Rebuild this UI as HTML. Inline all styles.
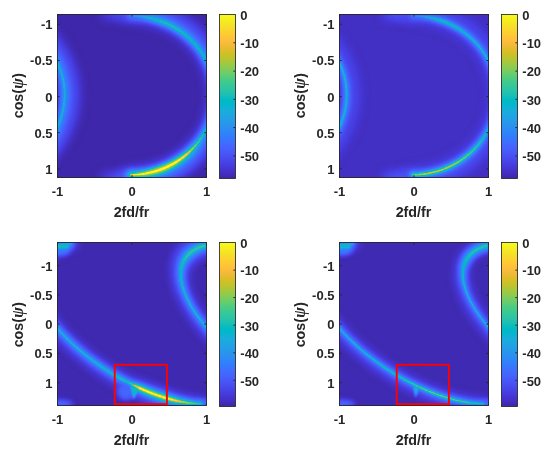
<!DOCTYPE html>
<html><head><meta charset="utf-8"><title>figure</title>
<style>html,body{margin:0;padding:0;background:#fff}body{width:550px;height:453px;overflow:hidden}svg{display:block}text{font-family:"Liberation Sans",sans-serif;font-weight:bold;fill:#262626}</style></head><body>
<svg width="550" height="453" viewBox="0 0 550 453">
<defs>
<filter id="parula" filterUnits="userSpaceOnUse" x="-4" y="-4" width="158" height="172" color-interpolation-filters="sRGB"><feGaussianBlur stdDeviation="0.55"/><feComponentTransfer><feFuncR type="table" tableValues="0.2422 0.2504 0.2578 0.2647 0.2706 0.2751 0.2783 0.2803 0.2813 0.2810 0.2795 0.2760 0.2699 0.2602 0.2440 0.2206 0.1963 0.1834 0.1786 0.1764 0.1687 0.1540 0.1460 0.1380 0.1248 0.1113 0.0952 0.0689 0.0297 0.0036 0.0067 0.0433 0.0964 0.1408 0.1717 0.1938 0.2161 0.2470 0.2906 0.3406 0.3909 0.4456 0.5044 0.5616 0.6174 0.6720 0.7242 0.7738 0.8203 0.8634 0.9035 0.9393 0.9728 0.9956 0.9970 0.9952 0.9892 0.9786 0.9676 0.9610 0.9597 0.9628 0.9691 0.9769"/><feFuncG type="table" tableValues="0.1504 0.1650 0.1818 0.1978 0.2147 0.2342 0.2559 0.2782 0.3006 0.3228 0.3447 0.3667 0.3892 0.4123 0.4358 0.4603 0.4847 0.5074 0.5289 0.5499 0.5703 0.5902 0.6091 0.6276 0.6459 0.6635 0.6798 0.6948 0.7082 0.7203 0.7312 0.7411 0.7500 0.7584 0.7670 0.7758 0.7843 0.7918 0.7973 0.8008 0.8029 0.8024 0.7993 0.7942 0.7876 0.7793 0.7698 0.7598 0.7498 0.7406 0.7330 0.7288 0.7298 0.7434 0.7659 0.7893 0.8136 0.8386 0.8639 0.8890 0.9135 0.9373 0.9606 0.9839"/><feFuncB type="table" tableValues="0.6603 0.7076 0.7511 0.7952 0.8364 0.8710 0.8991 0.9221 0.9414 0.9579 0.9717 0.9829 0.9906 0.9952 0.9988 0.9973 0.9892 0.9798 0.9682 0.9520 0.9359 0.9218 0.9079 0.8973 0.8883 0.8763 0.8598 0.8394 0.8163 0.7917 0.7660 0.7394 0.7120 0.6842 0.6554 0.6251 0.5923 0.5567 0.5188 0.4789 0.4354 0.3909 0.3480 0.3045 0.2612 0.2227 0.1910 0.1646 0.1535 0.1596 0.1774 0.2100 0.2394 0.2371 0.2199 0.2028 0.1885 0.1766 0.1643 0.1537 0.1423 0.1265 0.1064 0.0805"/></feComponentTransfer></filter>
<filter id="b8" filterUnits="userSpaceOnUse" x="-60" y="-60" width="270" height="284" color-interpolation-filters="sRGB"><feGaussianBlur stdDeviation="5.5"/></filter>
<filter id="b4" filterUnits="userSpaceOnUse" x="-60" y="-60" width="270" height="284" color-interpolation-filters="sRGB"><feGaussianBlur stdDeviation="4"/></filter>
<filter id="b2" filterUnits="userSpaceOnUse" x="-60" y="-60" width="270" height="284" color-interpolation-filters="sRGB"><feGaussianBlur stdDeviation="2.1"/></filter>
<filter id="b3" filterUnits="userSpaceOnUse" x="-60" y="-60" width="270" height="284" color-interpolation-filters="sRGB"><feGaussianBlur stdDeviation="2.6"/></filter>
<filter id="b12" filterUnits="userSpaceOnUse" x="-60" y="-60" width="270" height="284" color-interpolation-filters="sRGB"><feGaussianBlur stdDeviation="1.2"/></filter>
<filter id="b1" filterUnits="userSpaceOnUse" x="-60" y="-60" width="270" height="284" color-interpolation-filters="sRGB"><feGaussianBlur stdDeviation="1.0"/></filter>
<filter id="b07" filterUnits="userSpaceOnUse" x="-60" y="-60" width="270" height="284" color-interpolation-filters="sRGB"><feGaussianBlur stdDeviation="0.7"/></filter>
<filter id="b06" filterUnits="userSpaceOnUse" x="-60" y="-60" width="270" height="284" color-interpolation-filters="sRGB"><feGaussianBlur stdDeviation="0.6"/></filter>
<filter id="b15" filterUnits="userSpaceOnUse" x="-60" y="-60" width="270" height="284" color-interpolation-filters="sRGB"><feGaussianBlur stdDeviation="1.5"/></filter>
<filter id="b09" filterUnits="userSpaceOnUse" x="-60" y="-60" width="270" height="284" color-interpolation-filters="sRGB"><feGaussianBlur stdDeviation="0.9"/></filter>
<linearGradient id="cbg" x1="0" y1="0" x2="0" y2="1"><stop offset="0.0000" stop-color="rgb(249,251,21)"/><stop offset="0.0159" stop-color="rgb(247,245,27)"/><stop offset="0.0317" stop-color="rgb(246,239,32)"/><stop offset="0.0476" stop-color="rgb(245,233,36)"/><stop offset="0.0635" stop-color="rgb(245,227,39)"/><stop offset="0.0794" stop-color="rgb(247,220,42)"/><stop offset="0.0952" stop-color="rgb(250,214,45)"/><stop offset="0.1111" stop-color="rgb(252,207,48)"/><stop offset="0.1270" stop-color="rgb(254,201,52)"/><stop offset="0.1429" stop-color="rgb(254,195,56)"/><stop offset="0.1587" stop-color="rgb(254,190,60)"/><stop offset="0.1746" stop-color="rgb(248,186,61)"/><stop offset="0.1905" stop-color="rgb(240,186,54)"/><stop offset="0.2063" stop-color="rgb(230,187,45)"/><stop offset="0.2222" stop-color="rgb(220,189,41)"/><stop offset="0.2381" stop-color="rgb(209,191,39)"/><stop offset="0.2540" stop-color="rgb(197,194,42)"/><stop offset="0.2698" stop-color="rgb(185,196,49)"/><stop offset="0.2857" stop-color="rgb(171,199,57)"/><stop offset="0.3016" stop-color="rgb(157,201,67)"/><stop offset="0.3175" stop-color="rgb(143,203,78)"/><stop offset="0.3333" stop-color="rgb(129,204,89)"/><stop offset="0.3492" stop-color="rgb(114,205,100)"/><stop offset="0.3651" stop-color="rgb(100,205,111)"/><stop offset="0.3810" stop-color="rgb(87,204,122)"/><stop offset="0.3968" stop-color="rgb(74,203,132)"/><stop offset="0.4127" stop-color="rgb(63,202,142)"/><stop offset="0.4286" stop-color="rgb(55,200,151)"/><stop offset="0.4444" stop-color="rgb(49,198,159)"/><stop offset="0.4603" stop-color="rgb(44,196,167)"/><stop offset="0.4762" stop-color="rgb(36,193,174)"/><stop offset="0.4921" stop-color="rgb(25,191,182)"/><stop offset="0.5079" stop-color="rgb(11,189,189)"/><stop offset="0.5238" stop-color="rgb(2,186,195)"/><stop offset="0.5397" stop-color="rgb(1,184,202)"/><stop offset="0.5556" stop-color="rgb(8,181,208)"/><stop offset="0.5714" stop-color="rgb(18,177,214)"/><stop offset="0.5873" stop-color="rgb(24,173,219)"/><stop offset="0.6032" stop-color="rgb(28,169,223)"/><stop offset="0.6190" stop-color="rgb(32,165,227)"/><stop offset="0.6349" stop-color="rgb(35,160,229)"/><stop offset="0.6508" stop-color="rgb(37,155,232)"/><stop offset="0.6667" stop-color="rgb(39,151,235)"/><stop offset="0.6825" stop-color="rgb(43,145,239)"/><stop offset="0.6984" stop-color="rgb(45,140,243)"/><stop offset="0.7143" stop-color="rgb(46,135,247)"/><stop offset="0.7302" stop-color="rgb(47,129,250)"/><stop offset="0.7460" stop-color="rgb(50,124,252)"/><stop offset="0.7619" stop-color="rgb(56,117,254)"/><stop offset="0.7778" stop-color="rgb(62,111,255)"/><stop offset="0.7937" stop-color="rgb(66,105,254)"/><stop offset="0.8095" stop-color="rgb(69,99,253)"/><stop offset="0.8254" stop-color="rgb(70,94,251)"/><stop offset="0.8413" stop-color="rgb(71,88,248)"/><stop offset="0.8571" stop-color="rgb(72,82,244)"/><stop offset="0.8730" stop-color="rgb(72,77,240)"/><stop offset="0.8889" stop-color="rgb(71,71,235)"/><stop offset="0.9048" stop-color="rgb(71,65,229)"/><stop offset="0.9206" stop-color="rgb(70,60,222)"/><stop offset="0.9365" stop-color="rgb(69,55,213)"/><stop offset="0.9524" stop-color="rgb(67,50,203)"/><stop offset="0.9683" stop-color="rgb(66,46,192)"/><stop offset="0.9841" stop-color="rgb(64,42,180)"/><stop offset="1.0000" stop-color="rgb(62,38,168)"/></linearGradient>
<clipPath id="cp"><rect x="0" y="0" width="150" height="164"/></clipPath>
</defs>
<rect width="550" height="453" fill="#fff"/>
<g transform="translate(57,14)">
<g clip-path="url(#cp)"><g filter="url(#parula)">
<rect x="-5" y="-5" width="160" height="174" fill="#010101"/>
<g filter="url(#b8)"><ellipse cx="65.6" cy="0" rx="22" ry="5" fill="#2a2a2a"/><ellipse cx="65.6" cy="164" rx="22" ry="5" fill="#2f2f2f"/></g>
<g filter="url(#b8)" fill="none" stroke-linecap="round" stroke-linejoin="round">
<path d="M73.6,-2.1 L75.1,-2.1 L76.7,-2 L78.2,-2 L79.7,-1.9" stroke="#232323" stroke-width="20.00"/>
<path d="M78.2,-2 L79.7,-1.9 L81.2,-1.8 L82.8,-1.6 L84.3,-1.5" stroke="#232323" stroke-width="20.00"/>
<path d="M82.8,-1.6 L84.3,-1.5 L85.8,-1.3 L87.3,-1.1 L88.8,-0.8" stroke="#242424" stroke-width="20.00"/>
<path d="M87.3,-1.1 L88.8,-0.8 L90.3,-0.6 L91.8,-0.3 L93.3,0" stroke="#262626" stroke-width="20.00"/>
<path d="M91.8,-0.3 L93.3,0 L94.8,0.4 L96.3,0.7 L97.8,1.1" stroke="#272727" stroke-width="20.00"/>
<path d="M96.3,0.7 L97.8,1.1 L99.3,1.5 L100.7,1.9 L102.2,2.4" stroke="#282828" stroke-width="20.00"/>
<path d="M100.7,1.9 L102.2,2.4 L103.6,2.9 L105.1,3.4 L106.5,3.9" stroke="#292929" stroke-width="20.00"/>
<path d="M105.1,3.4 L106.5,3.9 L107.9,4.5 L109.3,5 L110.7,5.6" stroke="#292929" stroke-width="20.00"/>
<path d="M109.3,5 L110.7,5.6 L112.1,6.3 L113.5,6.9 L114.8,7.6" stroke="#2a2a2a" stroke-width="20.00"/>
<path d="M113.5,6.9 L114.8,7.6 L116.2,8.3 L117.5,9 L118.8,9.7" stroke="#2a2a2a" stroke-width="20.00"/>
<path d="M117.5,9 L118.8,9.7 L120.1,10.5 L121.4,11.2 L122.7,12" stroke="#2a2a2a" stroke-width="20.00"/>
<path d="M121.4,11.2 L122.7,12 L124,12.8 L125.2,13.7 L126.5,14.5" stroke="#292929" stroke-width="20.00"/>
<path d="M125.2,13.7 L126.5,14.5 L127.7,15.4 L128.9,16.3 L130.1,17.2" stroke="#292929" stroke-width="20.00"/>
<path d="M128.9,16.3 L130.1,17.2 L131.2,18.2 L132.4,19.1 L133.5,20.1" stroke="#292929" stroke-width="20.00"/>
<path d="M132.4,19.1 L133.5,20.1 L134.6,21.1 L135.7,22.1 L136.8,23.2" stroke="#292929" stroke-width="20.00"/>
<path d="M135.7,22.1 L136.8,23.2 L137.9,24.2 L138.9,25.3 L139.9,26.4" stroke="#292929" stroke-width="20.00"/>
<path d="M138.9,25.3 L139.9,26.4 L140.9,27.5 L141.9,28.6 L142.9,29.7" stroke="#292929" stroke-width="20.00"/>
<path d="M141.9,28.6 L142.9,29.7 L143.8,30.9 L144.7,32 L145.6,33.2" stroke="#292929" stroke-width="20.00"/>
<path d="M144.7,32 L145.6,33.2 L146.5,34.4 L147.3,35.6 L148.2,36.8" stroke="#282828" stroke-width="20.00"/>
<path d="M147.3,35.6 L148.2,36.8 L149,38.1 L149.8,39.3 L150.5,40.6" stroke="#282828" stroke-width="20.00"/>
<path d="M149.8,39.3 L150.5,40.6 L151.2,41.8 L152,43.1 L152.6,44.4" stroke="#282828" stroke-width="20.00"/>
<path d="M152,43.1 L152.6,44.4 L153.3,45.7 L154,47.1 L154.6,48.4" stroke="#282828" stroke-width="20.00"/>
<path d="M154,47.1 L154.6,48.4 L155.2,49.7 L155.7,51.1 L156.3,52.4" stroke="#282828" stroke-width="20.00"/>
<path d="M155.7,51.1 L156.3,52.4 L156.8,53.7 L157.3,55.1 L157.7,56.4" stroke="#282828" stroke-width="20.00"/>
<path d="M157.3,55.1 L157.7,56.4 L158.2,57.8 L158.6,59.2 L159,60.6" stroke="#282828" stroke-width="20.00"/>
<path d="M158.6,59.2 L159,60.6 L159.3,62 L159.7,63.4 L160,64.8" stroke="#282828" stroke-width="20.00"/>
<path d="M159.7,63.4 L160,64.8 L160.3,66.2 L160.5,67.6 L160.7,69" stroke="#282828" stroke-width="20.00"/>
<path d="M160.5,67.6 L160.7,69 L160.9,70.5 L161.1,71.9 L161.3,73.3" stroke="#282828" stroke-width="20.00"/>
<path d="M161.1,71.9 L161.3,73.3 L161.4,74.8 L161.5,76.2 L161.5,77.7" stroke="#282828" stroke-width="20.00"/>
<path d="M161.5,76.2 L161.5,77.7 L161.6,79.1 L161.6,80.6 L161.6,82.1" stroke="#282828" stroke-width="20.00"/>
<path d="M161.6,80.6 L161.6,82.1 L161.5,83.5 L161.5,85 L161.4,86.5" stroke="#282828" stroke-width="20.00"/>
<path d="M161.5,85 L161.4,86.5 L161.3,88 L161.1,89.4 L160.9,90.9" stroke="#282828" stroke-width="20.00"/>
<path d="M161.1,89.4 L160.9,90.9 L160.7,92.3 L160.5,93.8 L160.3,95.3" stroke="#282828" stroke-width="20.00"/>
<path d="M160.5,93.8 L160.3,95.3 L160,96.7 L159.7,98.1 L159.3,99.6" stroke="#282828" stroke-width="20.00"/>
<path d="M159.7,98.1 L159.3,99.6 L159,101 L158.6,102.4 L158.2,103.9" stroke="#282828" stroke-width="20.00"/>
<path d="M158.6,102.4 L158.2,103.9 L157.7,105.3 L157.3,106.7 L156.8,108.1" stroke="#282828" stroke-width="20.00"/>
<path d="M157.3,106.7 L156.8,108.1 L156.3,109.5 L155.7,110.8 L155.2,112.2" stroke="#282828" stroke-width="20.00"/>
<path d="M155.7,110.8 L155.2,112.2 L154.6,113.6 L154,114.9 L153.3,116.2" stroke="#282828" stroke-width="20.00"/>
<path d="M154,114.9 L153.3,116.2 L152.7,117.6 L152,118.9 L151.3,120.2" stroke="#292929" stroke-width="20.00"/>
<path d="M152,118.9 L151.3,120.2 L150.5,121.5 L149.8,122.8 L149,124" stroke="#292929" stroke-width="20.00"/>
<path d="M149.8,122.8 L149,124 L148.2,125.3 L147.4,126.5 L146.5,127.8" stroke="#2a2a2a" stroke-width="20.00"/>
<path d="M147.4,126.5 L146.5,127.8 L145.6,129 L144.7,130.2 L143.8,131.3" stroke="#2b2b2b" stroke-width="20.00"/>
<path d="M144.7,130.2 L143.8,131.3 L142.9,132.5 L141.9,133.7 L141,134.8" stroke="#2c2c2c" stroke-width="20.00"/>
<path d="M141.9,133.7 L141,134.8 L140,135.9 L138.9,137 L137.9,138.1" stroke="#2e2e2e" stroke-width="20.00"/>
<path d="M138.9,137 L137.9,138.1 L136.8,139.2 L135.8,140.2 L134.7,141.2" stroke="#303030" stroke-width="20.00"/>
<path d="M135.8,140.2 L134.7,141.2 L133.5,142.2 L132.4,143.2 L131.3,144.2" stroke="#333333" stroke-width="20.00"/>
<path d="M132.4,143.2 L131.3,144.2 L130.1,145.2 L128.9,146.1 L127.7,147" stroke="#353535" stroke-width="20.00"/>
<path d="M128.9,146.1 L127.7,147 L126.5,147.9 L125.3,148.8 L124,149.6" stroke="#363636" stroke-width="20.00"/>
<path d="M125.3,148.8 L124,149.6 L122.7,150.5 L121.5,151.3 L120.2,152" stroke="#383838" stroke-width="20.00"/>
<path d="M121.5,151.3 L120.2,152 L118.9,152.8 L117.5,153.6 L116.2,154.3" stroke="#383838" stroke-width="20.00"/>
<path d="M117.5,153.6 L116.2,154.3 L114.8,155 L113.5,155.7 L112.1,156.3" stroke="#393939" stroke-width="20.00"/>
<path d="M113.5,155.7 L112.1,156.3 L110.7,156.9 L109.3,157.5 L107.9,158.1" stroke="#393939" stroke-width="20.00"/>
<path d="M109.3,157.5 L107.9,158.1 L106.5,158.7 L105.1,159.2 L103.6,159.7" stroke="#393939" stroke-width="20.00"/>
<path d="M105.1,159.2 L103.6,159.7 L102.2,160.2 L100.7,160.7 L99.3,161.1" stroke="#393939" stroke-width="20.00"/>
<path d="M100.7,160.7 L99.3,161.1 L97.8,161.6 L96.3,161.9 L94.8,162.3" stroke="#393939" stroke-width="20.00"/>
<path d="M96.3,161.9 L94.8,162.3 L93.4,162.7 L91.9,163 L90.4,163.3" stroke="#393939" stroke-width="20.00"/>
<path d="M91.9,163 L90.4,163.3 L88.9,163.5 L87.3,163.8 L85.8,164" stroke="#393939" stroke-width="20.00"/>
<path d="M87.3,163.8 L85.8,164 L84.3,164.2 L82.8,164.3 L81.3,164.5" stroke="#383838" stroke-width="20.00"/>
<path d="M82.8,164.3 L81.3,164.5 L79.7,164.6 L78.2,164.7 L76.7,164.7" stroke="#383838" stroke-width="20.00"/>
<path d="M78.2,164.7 L76.7,164.7 L75.1,164.8 L73.6,164.8" stroke="#363636" stroke-width="20.00"/>
<path d="M-32.5,9 L-31.2,9.7 L-29.9,10.5 L-28.6,11.2 L-27.3,12" stroke="#2a2a2a" stroke-width="20.00"/>
<path d="M-28.6,11.2 L-27.3,12 L-26,12.8 L-24.8,13.7 L-23.5,14.5" stroke="#292929" stroke-width="20.00"/>
<path d="M-24.8,13.7 L-23.5,14.5 L-22.3,15.4 L-21.1,16.3 L-19.9,17.2" stroke="#292929" stroke-width="20.00"/>
<path d="M-21.1,16.3 L-19.9,17.2 L-18.8,18.2 L-17.6,19.1 L-16.5,20.1" stroke="#292929" stroke-width="20.00"/>
<path d="M-17.6,19.1 L-16.5,20.1 L-15.4,21.1 L-14.3,22.1 L-13.2,23.2" stroke="#292929" stroke-width="20.00"/>
<path d="M-14.3,22.1 L-13.2,23.2 L-12.1,24.2 L-11.1,25.3 L-10.1,26.4" stroke="#292929" stroke-width="20.00"/>
<path d="M-11.1,25.3 L-10.1,26.4 L-9.1,27.5 L-8.1,28.6 L-7.1,29.7" stroke="#292929" stroke-width="20.00"/>
<path d="M-8.1,28.6 L-7.1,29.7 L-6.2,30.9 L-5.3,32 L-4.4,33.2" stroke="#292929" stroke-width="20.00"/>
<path d="M-5.3,32 L-4.4,33.2 L-3.5,34.4 L-2.7,35.6 L-1.8,36.8" stroke="#282828" stroke-width="20.00"/>
<path d="M-2.7,35.6 L-1.8,36.8 L-1,38.1 L-0.2,39.3 L0.5,40.6" stroke="#282828" stroke-width="20.00"/>
<path d="M-0.2,39.3 L0.5,40.6 L1.2,41.8 L2,43.1 L2.6,44.4" stroke="#282828" stroke-width="20.00"/>
<path d="M2,43.1 L2.6,44.4 L3.3,45.7 L4,47.1 L4.6,48.4" stroke="#282828" stroke-width="20.00"/>
<path d="M4,47.1 L4.6,48.4 L5.2,49.7 L5.7,51.1 L6.3,52.4" stroke="#282828" stroke-width="20.00"/>
<path d="M5.7,51.1 L6.3,52.4 L6.8,53.7 L7.3,55.1 L7.7,56.4" stroke="#282828" stroke-width="20.00"/>
<path d="M7.3,55.1 L7.7,56.4 L8.2,57.8 L8.6,59.2 L9,60.6" stroke="#282828" stroke-width="20.00"/>
<path d="M8.6,59.2 L9,60.6 L9.3,62 L9.7,63.4 L10,64.8" stroke="#282828" stroke-width="20.00"/>
<path d="M9.7,63.4 L10,64.8 L10.3,66.2 L10.5,67.6 L10.7,69" stroke="#282828" stroke-width="20.00"/>
<path d="M10.5,67.6 L10.7,69 L10.9,70.5 L11.1,71.9 L11.3,73.3" stroke="#282828" stroke-width="20.00"/>
<path d="M11.1,71.9 L11.3,73.3 L11.4,74.8 L11.5,76.2 L11.5,77.7" stroke="#282828" stroke-width="20.00"/>
<path d="M11.5,76.2 L11.5,77.7 L11.6,79.1 L11.6,80.6 L11.6,82.1" stroke="#282828" stroke-width="20.00"/>
<path d="M11.6,80.6 L11.6,82.1 L11.5,83.5 L11.5,85 L11.4,86.5" stroke="#282828" stroke-width="20.00"/>
<path d="M11.5,85 L11.4,86.5 L11.3,88 L11.1,89.4 L10.9,90.9" stroke="#282828" stroke-width="20.00"/>
<path d="M11.1,89.4 L10.9,90.9 L10.7,92.3 L10.5,93.8 L10.3,95.3" stroke="#282828" stroke-width="20.00"/>
<path d="M10.5,93.8 L10.3,95.3 L10,96.7 L9.7,98.1 L9.3,99.6" stroke="#282828" stroke-width="20.00"/>
<path d="M9.7,98.1 L9.3,99.6 L9,101 L8.6,102.4 L8.2,103.9" stroke="#282828" stroke-width="20.00"/>
<path d="M8.6,102.4 L8.2,103.9 L7.7,105.3 L7.3,106.7 L6.8,108.1" stroke="#282828" stroke-width="20.00"/>
<path d="M7.3,106.7 L6.8,108.1 L6.3,109.5 L5.7,110.8 L5.2,112.2" stroke="#282828" stroke-width="20.00"/>
<path d="M5.7,110.8 L5.2,112.2 L4.6,113.6 L4,114.9 L3.3,116.2" stroke="#282828" stroke-width="20.00"/>
<path d="M4,114.9 L3.3,116.2 L2.7,117.6 L2,118.9 L1.3,120.2" stroke="#292929" stroke-width="20.00"/>
<path d="M2,118.9 L1.3,120.2 L0.5,121.5 L-0.2,122.8 L-1,124" stroke="#292929" stroke-width="20.00"/>
<path d="M-0.2,122.8 L-1,124 L-1.8,125.3 L-2.6,126.5 L-3.5,127.8" stroke="#2a2a2a" stroke-width="20.00"/>
<path d="M-2.6,126.5 L-3.5,127.8 L-4.4,129 L-5.3,130.2 L-6.2,131.3" stroke="#2b2b2b" stroke-width="20.00"/>
<path d="M-5.3,130.2 L-6.2,131.3 L-7.1,132.5 L-8.1,133.7 L-9,134.8" stroke="#2c2c2c" stroke-width="20.00"/>
<path d="M-8.1,133.7 L-9,134.8 L-10,135.9 L-11.1,137 L-12.1,138.1" stroke="#2e2e2e" stroke-width="20.00"/>
<path d="M-11.1,137 L-12.1,138.1 L-13.2,139.2 L-14.2,140.2 L-15.3,141.2" stroke="#303030" stroke-width="20.00"/>
<path d="M-14.2,140.2 L-15.3,141.2 L-16.5,142.2 L-17.6,143.2 L-18.7,144.2" stroke="#333333" stroke-width="20.00"/>
<path d="M-17.6,143.2 L-18.7,144.2 L-19.9,145.2 L-21.1,146.1 L-22.3,147" stroke="#353535" stroke-width="20.00"/>
<path d="M-21.1,146.1 L-22.3,147 L-23.5,147.9 L-24.7,148.8 L-26,149.6" stroke="#363636" stroke-width="20.00"/>
<path d="M-24.7,148.8 L-26,149.6 L-27.3,150.5 L-28.5,151.3 L-29.8,152" stroke="#383838" stroke-width="20.00"/>
<path d="M-28.5,151.3 L-29.8,152 L-31.1,152.8 L-32.5,153.6 L-33.8,154.3" stroke="#383838" stroke-width="20.00"/>
</g>
<g filter="url(#b3)" fill="none" stroke-linecap="round" stroke-linejoin="round">
<path d="M73.6,1.4 L75.1,1.4 L76.5,1.4 L78,1.5 L79.5,1.6" stroke="#353535" stroke-width="9.00"/>
<path d="M78,1.5 L79.5,1.6 L81,1.7 L82.4,1.8 L83.9,2" stroke="#373737" stroke-width="9.00"/>
<path d="M82.4,1.8 L83.9,2 L85.4,2.2 L86.8,2.4 L88.3,2.6" stroke="#3a3a3a" stroke-width="9.00"/>
<path d="M86.8,2.4 L88.3,2.6 L89.7,2.9 L91.2,3.1 L92.6,3.4" stroke="#3e3e3e" stroke-width="9.00"/>
<path d="M91.2,3.1 L92.6,3.4 L94,3.8 L95.5,4.1 L96.9,4.5" stroke="#414141" stroke-width="9.00"/>
<path d="M95.5,4.1 L96.9,4.5 L98.3,4.9 L99.7,5.3 L101.1,5.7" stroke="#454545" stroke-width="9.00"/>
<path d="M99.7,5.3 L101.1,5.7 L102.5,6.2 L103.9,6.7 L105.2,7.2" stroke="#464646" stroke-width="9.00"/>
<path d="M103.9,6.7 L105.2,7.2 L106.6,7.7 L108,8.3 L109.3,8.8" stroke="#484848" stroke-width="9.00"/>
<path d="M108,8.3 L109.3,8.8 L110.6,9.4 L112,10.1 L113.3,10.7" stroke="#494949" stroke-width="9.00"/>
<path d="M112,10.1 L113.3,10.7 L114.6,11.4 L115.8,12 L117.1,12.7" stroke="#494949" stroke-width="9.00"/>
<path d="M115.8,12 L117.1,12.7 L118.4,13.5 L119.6,14.2 L120.8,15" stroke="#484848" stroke-width="9.00"/>
<path d="M119.6,14.2 L120.8,15 L122.1,15.8 L123.3,16.6 L124.4,17.4" stroke="#484848" stroke-width="9.00"/>
<path d="M123.3,16.6 L124.4,17.4 L125.6,18.2 L126.8,19.1 L127.9,20" stroke="#484848" stroke-width="9.00"/>
<path d="M126.8,19.1 L127.9,20 L129,20.9 L130.1,21.8 L131.2,22.7" stroke="#474747" stroke-width="9.00"/>
<path d="M130.1,21.8 L131.2,22.7 L132.3,23.7 L133.3,24.7 L134.4,25.7" stroke="#474747" stroke-width="9.00"/>
<path d="M133.3,24.7 L134.4,25.7 L135.4,26.7 L136.4,27.7 L137.4,28.7" stroke="#474747" stroke-width="9.00"/>
<path d="M136.4,27.7 L137.4,28.7 L138.3,29.8 L139.3,30.9 L140.2,31.9" stroke="#464646" stroke-width="9.00"/>
<path d="M139.3,30.9 L140.2,31.9 L141.1,33 L142,34.2 L142.8,35.3" stroke="#464646" stroke-width="9.00"/>
<path d="M142,34.2 L142.8,35.3 L143.6,36.4 L144.5,37.6 L145.3,38.8" stroke="#454545" stroke-width="9.00"/>
<path d="M144.5,37.6 L145.3,38.8 L146,39.9 L146.8,41.1 L147.5,42.3" stroke="#454545" stroke-width="9.00"/>
<path d="M146.8,41.1 L147.5,42.3 L148.2,43.6 L148.9,44.8 L149.5,46" stroke="#444444" stroke-width="9.00"/>
<path d="M148.9,44.8 L149.5,46 L150.2,47.3 L150.8,48.6 L151.4,49.8" stroke="#444444" stroke-width="9.00"/>
<path d="M150.8,48.6 L151.4,49.8 L151.9,51.1 L152.5,52.4 L153,53.7" stroke="#434343" stroke-width="9.00"/>
<path d="M152.5,52.4 L153,53.7 L153.5,55 L154,56.3 L154.4,57.5" stroke="#434343" stroke-width="9.00"/>
<path d="M154,56.3 L154.4,57.5 L154.8,58.8 L155.2,60.2 L155.6,61.5" stroke="#434343" stroke-width="9.00"/>
<path d="M155.2,60.2 L155.6,61.5 L155.9,62.8 L156.3,64.1 L156.5,65.5" stroke="#434343" stroke-width="9.00"/>
<path d="M156.3,64.1 L156.5,65.5 L156.8,66.8 L157.1,68.2 L157.3,69.6" stroke="#434343" stroke-width="9.00"/>
<path d="M157.1,68.2 L157.3,69.6 L157.5,70.9 L157.6,72.3 L157.8,73.7" stroke="#434343" stroke-width="9.00"/>
<path d="M157.6,72.3 L157.8,73.7 L157.9,75 L158,76.4 L158,77.8" stroke="#434343" stroke-width="9.00"/>
<path d="M158,76.4 L158,77.8 L158.1,79.2 L158.1,80.6 L158.1,82" stroke="#434343" stroke-width="9.00"/>
<path d="M158.1,80.6 L158.1,82 L158,83.4 L158,84.8 L157.9,86.2" stroke="#434343" stroke-width="9.00"/>
<path d="M158,84.8 L157.9,86.2 L157.8,87.6 L157.6,89 L157.5,90.4" stroke="#434343" stroke-width="9.00"/>
<path d="M157.6,89 L157.5,90.4 L157.3,91.8 L157.1,93.2 L156.8,94.6" stroke="#434343" stroke-width="9.00"/>
<path d="M157.1,93.2 L156.8,94.6 L156.5,96 L156.3,97.4 L155.9,98.8" stroke="#434343" stroke-width="9.00"/>
<path d="M156.3,97.4 L155.9,98.8 L155.6,100.1 L155.2,101.5 L154.8,102.8" stroke="#434343" stroke-width="9.00"/>
<path d="M155.2,101.5 L154.8,102.8 L154.4,104.2 L154,105.5 L153.5,106.9" stroke="#434343" stroke-width="9.00"/>
<path d="M154,105.5 L153.5,106.9 L153,108.2 L152.5,109.5 L151.9,110.8" stroke="#434343" stroke-width="9.00"/>
<path d="M152.5,109.5 L151.9,110.8 L151.4,112.1 L150.8,113.4 L150.2,114.7" stroke="#444444" stroke-width="9.00"/>
<path d="M150.8,113.4 L150.2,114.7 L149.5,116 L148.9,117.2 L148.2,118.5" stroke="#464646" stroke-width="9.00"/>
<path d="M148.9,117.2 L148.2,118.5 L147.5,119.7 L146.8,121 L146,122.2" stroke="#484848" stroke-width="9.00"/>
<path d="M146.8,121 L146,122.2 L145.3,123.4 L144.5,124.6 L143.6,125.7" stroke="#4a4a4a" stroke-width="9.00"/>
<path d="M144.5,124.6 L143.6,125.7 L142.8,126.9 L142,128 L141.1,129.2" stroke="#4c4c4c" stroke-width="9.00"/>
<path d="M142,128 L141.1,129.2 L140.2,130.3 L139.3,131.4 L138.3,132.5" stroke="#505050" stroke-width="9.00"/>
<path d="M139.3,131.4 L138.3,132.5 L137.4,133.6 L136.4,134.6 L135.4,135.6" stroke="#555555" stroke-width="9.00"/>
<path d="M136.4,134.6 L135.4,135.6 L134.4,136.7 L133.3,137.7 L132.3,138.7" stroke="#5c5c5c" stroke-width="9.00"/>
<path d="M133.3,137.7 L132.3,138.7 L131.2,139.6 L130.1,140.6 L129,141.5" stroke="#636363" stroke-width="9.00"/>
<path d="M130.1,140.6 L129,141.5 L127.9,142.4 L126.8,143.3 L125.6,144.2" stroke="#696969" stroke-width="9.00"/>
<path d="M126.8,143.3 L125.6,144.2 L124.4,145.1 L123.3,145.9 L122.1,146.7" stroke="#6d6d6d" stroke-width="9.00"/>
<path d="M123.3,145.9 L122.1,146.7 L120.8,147.5 L119.6,148.3 L118.4,149" stroke="#707070" stroke-width="9.00"/>
<path d="M119.6,148.3 L118.4,149 L117.1,149.8 L115.8,150.5 L114.6,151.2" stroke="#737373" stroke-width="9.00"/>
<path d="M115.8,150.5 L114.6,151.2 L113.3,151.9 L112,152.5 L110.6,153.1" stroke="#747474" stroke-width="9.00"/>
<path d="M112,152.5 L110.6,153.1 L109.3,153.7 L108,154.3 L106.6,154.9" stroke="#757575" stroke-width="9.00"/>
<path d="M108,154.3 L106.6,154.9 L105.2,155.4 L103.9,155.9 L102.5,156.4" stroke="#757575" stroke-width="9.00"/>
<path d="M103.9,155.9 L102.5,156.4 L101.1,156.9 L99.7,157.4 L98.3,157.8" stroke="#757575" stroke-width="9.00"/>
<path d="M99.7,157.4 L98.3,157.8 L96.9,158.2 L95.5,158.6 L94,158.9" stroke="#757575" stroke-width="9.00"/>
<path d="M95.5,158.6 L94,158.9 L92.6,159.2 L91.2,159.5 L89.7,159.8" stroke="#757575" stroke-width="9.00"/>
<path d="M91.2,159.5 L89.7,159.8 L88.3,160.1 L86.8,160.3 L85.4,160.5" stroke="#747474" stroke-width="9.00"/>
<path d="M86.8,160.3 L85.4,160.5 L83.9,160.7 L82.4,160.9 L81,161" stroke="#737373" stroke-width="9.00"/>
<path d="M82.4,160.9 L81,161 L79.5,161.1 L78,161.2 L76.5,161.3" stroke="#707070" stroke-width="9.00"/>
<path d="M78,161.2 L76.5,161.3 L75.1,161.3 L73.6,161.3" stroke="#6d6d6d" stroke-width="9.00"/>
<path d="M-34.2,12 L-32.9,12.7 L-31.6,13.5 L-30.4,14.2 L-29.2,15" stroke="#484848" stroke-width="9.00"/>
<path d="M-30.4,14.2 L-29.2,15 L-27.9,15.8 L-26.7,16.6 L-25.6,17.4" stroke="#484848" stroke-width="9.00"/>
<path d="M-26.7,16.6 L-25.6,17.4 L-24.4,18.2 L-23.2,19.1 L-22.1,20" stroke="#484848" stroke-width="9.00"/>
<path d="M-23.2,19.1 L-22.1,20 L-21,20.9 L-19.9,21.8 L-18.8,22.7" stroke="#474747" stroke-width="9.00"/>
<path d="M-19.9,21.8 L-18.8,22.7 L-17.7,23.7 L-16.7,24.7 L-15.6,25.7" stroke="#474747" stroke-width="9.00"/>
<path d="M-16.7,24.7 L-15.6,25.7 L-14.6,26.7 L-13.6,27.7 L-12.6,28.7" stroke="#474747" stroke-width="9.00"/>
<path d="M-13.6,27.7 L-12.6,28.7 L-11.7,29.8 L-10.7,30.9 L-9.8,31.9" stroke="#464646" stroke-width="9.00"/>
<path d="M-10.7,30.9 L-9.8,31.9 L-8.9,33 L-8,34.2 L-7.2,35.3" stroke="#464646" stroke-width="9.00"/>
<path d="M-8,34.2 L-7.2,35.3 L-6.4,36.4 L-5.5,37.6 L-4.7,38.8" stroke="#454545" stroke-width="9.00"/>
<path d="M-5.5,37.6 L-4.7,38.8 L-4,39.9 L-3.2,41.1 L-2.5,42.3" stroke="#454545" stroke-width="9.00"/>
<path d="M-3.2,41.1 L-2.5,42.3 L-1.8,43.6 L-1.1,44.8 L-0.5,46" stroke="#444444" stroke-width="9.00"/>
<path d="M-1.1,44.8 L-0.5,46 L0.2,47.3 L0.8,48.6 L1.4,49.8" stroke="#444444" stroke-width="9.00"/>
<path d="M0.8,48.6 L1.4,49.8 L1.9,51.1 L2.5,52.4 L3,53.7" stroke="#434343" stroke-width="9.00"/>
<path d="M2.5,52.4 L3,53.7 L3.5,55 L4,56.3 L4.4,57.5" stroke="#434343" stroke-width="9.00"/>
<path d="M4,56.3 L4.4,57.5 L4.8,58.8 L5.2,60.2 L5.6,61.5" stroke="#434343" stroke-width="9.00"/>
<path d="M5.2,60.2 L5.6,61.5 L5.9,62.8 L6.3,64.1 L6.5,65.5" stroke="#434343" stroke-width="9.00"/>
<path d="M6.3,64.1 L6.5,65.5 L6.8,66.8 L7.1,68.2 L7.3,69.6" stroke="#434343" stroke-width="9.00"/>
<path d="M7.1,68.2 L7.3,69.6 L7.5,70.9 L7.6,72.3 L7.8,73.7" stroke="#434343" stroke-width="9.00"/>
<path d="M7.6,72.3 L7.8,73.7 L7.9,75 L8,76.4 L8,77.8" stroke="#434343" stroke-width="9.00"/>
<path d="M8,76.4 L8,77.8 L8.1,79.2 L8.1,80.6 L8.1,82" stroke="#434343" stroke-width="9.00"/>
<path d="M8.1,80.6 L8.1,82 L8,83.4 L8,84.8 L7.9,86.2" stroke="#434343" stroke-width="9.00"/>
<path d="M8,84.8 L7.9,86.2 L7.8,87.6 L7.6,89 L7.5,90.4" stroke="#434343" stroke-width="9.00"/>
<path d="M7.6,89 L7.5,90.4 L7.3,91.8 L7.1,93.2 L6.8,94.6" stroke="#434343" stroke-width="9.00"/>
<path d="M7.1,93.2 L6.8,94.6 L6.5,96 L6.3,97.4 L5.9,98.8" stroke="#434343" stroke-width="9.00"/>
<path d="M6.3,97.4 L5.9,98.8 L5.6,100.1 L5.2,101.5 L4.8,102.8" stroke="#434343" stroke-width="9.00"/>
<path d="M5.2,101.5 L4.8,102.8 L4.4,104.2 L4,105.5 L3.5,106.9" stroke="#434343" stroke-width="9.00"/>
<path d="M4,105.5 L3.5,106.9 L3,108.2 L2.5,109.5 L1.9,110.8" stroke="#434343" stroke-width="9.00"/>
<path d="M2.5,109.5 L1.9,110.8 L1.4,112.1 L0.8,113.4 L0.2,114.7" stroke="#444444" stroke-width="9.00"/>
<path d="M0.8,113.4 L0.2,114.7 L-0.5,116 L-1.1,117.2 L-1.8,118.5" stroke="#464646" stroke-width="9.00"/>
<path d="M-1.1,117.2 L-1.8,118.5 L-2.5,119.7 L-3.2,121 L-4,122.2" stroke="#484848" stroke-width="9.00"/>
<path d="M-3.2,121 L-4,122.2 L-4.7,123.4 L-5.5,124.6 L-6.4,125.7" stroke="#4a4a4a" stroke-width="9.00"/>
<path d="M-5.5,124.6 L-6.4,125.7 L-7.2,126.9 L-8,128 L-8.9,129.2" stroke="#4c4c4c" stroke-width="9.00"/>
<path d="M-8,128 L-8.9,129.2 L-9.8,130.3 L-10.7,131.4 L-11.7,132.5" stroke="#505050" stroke-width="9.00"/>
<path d="M-10.7,131.4 L-11.7,132.5 L-12.6,133.6 L-13.6,134.6 L-14.6,135.6" stroke="#555555" stroke-width="9.00"/>
<path d="M-13.6,134.6 L-14.6,135.6 L-15.6,136.7 L-16.7,137.7 L-17.7,138.7" stroke="#5c5c5c" stroke-width="9.00"/>
<path d="M-16.7,137.7 L-17.7,138.7 L-18.8,139.6 L-19.9,140.6 L-21,141.5" stroke="#636363" stroke-width="9.00"/>
<path d="M-19.9,140.6 L-21,141.5 L-22.1,142.4 L-23.2,143.3 L-24.4,144.2" stroke="#696969" stroke-width="9.00"/>
<path d="M-23.2,143.3 L-24.4,144.2 L-25.6,145.1 L-26.7,145.9 L-27.9,146.7" stroke="#6d6d6d" stroke-width="9.00"/>
<path d="M-26.7,145.9 L-27.9,146.7 L-29.2,147.5 L-30.4,148.3 L-31.6,149" stroke="#707070" stroke-width="9.00"/>
</g>
<g filter="url(#b15)" fill="none" stroke-linecap="round" stroke-linejoin="round">
<path d="M73.6,1.9 L75.1,1.9 L76.5,1.9 L78,2 L79.5,2.1" stroke="#313131" stroke-width="5.70"/>
<path d="M78,2 L79.5,2.1 L80.9,2.2 L82.4,2.3 L83.8,2.5" stroke="#373737" stroke-width="5.65"/>
<path d="M82.4,2.3 L83.8,2.5 L85.3,2.7 L86.7,2.9 L88.2,3.1" stroke="#3d3d3d" stroke-width="5.61"/>
<path d="M86.7,2.9 L88.2,3.1 L89.6,3.4 L91.1,3.6 L92.5,3.9" stroke="#454545" stroke-width="5.57"/>
<path d="M91.1,3.6 L92.5,3.9 L93.9,4.2 L95.3,4.6 L96.8,5" stroke="#4e4e4e" stroke-width="5.52"/>
<path d="M95.3,4.6 L96.8,5 L98.2,5.4 L99.6,5.8 L100.9,6.2" stroke="#555555" stroke-width="5.48"/>
<path d="M99.6,5.8 L100.9,6.2 L102.3,6.7 L103.7,7.1 L105.1,7.7" stroke="#595959" stroke-width="5.43"/>
<path d="M103.7,7.1 L105.1,7.7 L106.4,8.2 L107.8,8.7 L109.1,9.3" stroke="#5c5c5c" stroke-width="5.39"/>
<path d="M107.8,8.7 L109.1,9.3 L110.4,9.9 L111.7,10.5 L113,11.1" stroke="#5e5e5e" stroke-width="5.35"/>
<path d="M111.7,10.5 L113,11.1 L114.3,11.8 L115.6,12.5 L116.9,13.2" stroke="#5e5e5e" stroke-width="5.30"/>
<path d="M115.6,12.5 L116.9,13.2 L118.1,13.9 L119.3,14.6 L120.6,15.4" stroke="#5d5d5d" stroke-width="5.24"/>
<path d="M119.3,14.6 L120.6,15.4 L121.8,16.2 L123,17 L124.2,17.8" stroke="#5d5d5d" stroke-width="5.15"/>
<path d="M123,17 L124.2,17.8 L125.3,18.6 L126.5,19.5 L127.6,20.4" stroke="#5c5c5c" stroke-width="5.06"/>
<path d="M126.5,19.5 L127.6,20.4 L128.7,21.3 L129.8,22.2 L130.9,23.1" stroke="#5b5b5b" stroke-width="4.97"/>
<path d="M129.8,22.2 L130.9,23.1 L132,24.1 L133,25 L134,26" stroke="#5a5a5a" stroke-width="4.88"/>
<path d="M133,25 L134,26 L135,27 L136,28 L137,29.1" stroke="#595959" stroke-width="4.80"/>
<path d="M136,28 L137,29.1 L137.9,30.1 L138.9,31.2 L139.8,32.3" stroke="#585858" stroke-width="4.71"/>
<path d="M138.9,31.2 L139.8,32.3 L140.7,33.4 L141.6,34.5 L142.4,35.6" stroke="#575757" stroke-width="4.62"/>
<path d="M141.6,34.5 L142.4,35.6 L143.2,36.7 L144,37.9 L144.8,39" stroke="#575757" stroke-width="4.53"/>
<path d="M144,37.9 L144.8,39 L145.6,40.2 L146.3,41.4 L147.1,42.6" stroke="#565656" stroke-width="4.44"/>
<path d="M146.3,41.4 L147.1,42.6 L147.8,43.8 L148.4,45 L149.1,46.3" stroke="#555555" stroke-width="4.27"/>
<path d="M148.4,45 L149.1,46.3 L149.7,47.5 L150.3,48.8 L150.9,50" stroke="#545454" stroke-width="4.00"/>
<path d="M150.3,48.8 L150.9,50 L151.5,51.3 L152,52.6 L152.5,53.9" stroke="#525252" stroke-width="3.74"/>
<path d="M152,52.6 L152.5,53.9 L153,55.1 L153.5,56.4 L153.9,57.7" stroke="#515151" stroke-width="3.54"/>
<path d="M153.5,56.4 L153.9,57.7 L154.3,59 L154.7,60.3 L155.1,61.6" stroke="#515151" stroke-width="3.52"/>
<path d="M154.7,60.3 L155.1,61.6 L155.4,62.9 L155.8,64.3 L156.1,65.6" stroke="#515151" stroke-width="3.52"/>
<path d="M155.8,64.3 L156.1,65.6 L156.3,66.9 L156.6,68.3 L156.8,69.6" stroke="#515151" stroke-width="3.52"/>
<path d="M156.6,68.3 L156.8,69.6 L157,71 L157.1,72.3 L157.3,73.7" stroke="#515151" stroke-width="3.52"/>
<path d="M157.1,72.3 L157.3,73.7 L157.4,75.1 L157.5,76.5 L157.5,77.8" stroke="#515151" stroke-width="3.52"/>
<path d="M157.5,76.5 L157.5,77.8 L157.6,79.2 L157.6,80.6 L157.6,82" stroke="#515151" stroke-width="3.52"/>
<path d="M157.6,80.6 L157.6,82 L157.5,83.4 L157.5,84.8 L157.4,86.2" stroke="#515151" stroke-width="3.52"/>
<path d="M157.5,84.8 L157.4,86.2 L157.3,87.6 L157.1,89 L157,90.4" stroke="#515151" stroke-width="3.52"/>
<path d="M157.1,89 L157,90.4 L156.8,91.8 L156.6,93.1 L156.3,94.5" stroke="#515151" stroke-width="3.52"/>
<path d="M156.6,93.1 L156.3,94.5 L156.1,95.9 L155.8,97.3 L155.4,98.6" stroke="#515151" stroke-width="3.52"/>
<path d="M155.8,97.3 L155.4,98.6 L155.1,100 L154.7,101.4 L154.3,102.7" stroke="#515151" stroke-width="3.52"/>
<path d="M154.7,101.4 L154.3,102.7 L153.9,104 L153.5,105.4 L153,106.7" stroke="#515151" stroke-width="3.52"/>
<path d="M153.5,105.4 L153,106.7 L152.5,108 L152,109.3 L151.5,110.6" stroke="#525252" stroke-width="3.53"/>
<path d="M152,109.3 L151.5,110.6 L150.9,111.9 L150.3,113.2 L149.7,114.5" stroke="#545454" stroke-width="3.63"/>
<path d="M150.3,113.2 L149.7,114.5 L149.1,115.8 L148.4,117 L147.8,118.3" stroke="#575757" stroke-width="3.76"/>
<path d="M148.4,117 L147.8,118.3 L147.1,119.5 L146.3,120.7 L145.6,121.9" stroke="#5b5b5b" stroke-width="3.89"/>
<path d="M146.3,120.7 L145.6,121.9 L144.8,123.1 L144,124.3 L143.2,125.4" stroke="#606060" stroke-width="3.96"/>
<path d="M144,124.3 L143.2,125.4 L142.4,126.6 L141.6,127.7 L140.7,128.9" stroke="#676767" stroke-width="3.96"/>
<path d="M141.6,127.7 L140.7,128.9 L139.8,130 L138.9,131.1 L137.9,132.2" stroke="#6e6e6e" stroke-width="3.96"/>
<path d="M138.9,131.1 L137.9,132.2 L137,133.2 L136,134.3 L135,135.3" stroke="#797979" stroke-width="3.96"/>
<path d="M136,134.3 L135,135.3 L134,136.3 L133,137.3 L132,138.3" stroke="#898989" stroke-width="3.96"/>
<path d="M133,137.3 L132,138.3 L130.9,139.3 L129.8,140.2 L128.7,141.1" stroke="#989898" stroke-width="4.05"/>
<path d="M129.8,140.2 L128.7,141.1 L127.6,142 L126.5,142.9 L125.3,143.8" stroke="#a6a6a6" stroke-width="4.24"/>
<path d="M126.5,142.9 L125.3,143.8 L124.2,144.7 L123,145.5 L121.8,146.3" stroke="#afafaf" stroke-width="4.47"/>
<path d="M123,145.5 L121.8,146.3 L120.6,147.1 L119.3,147.9 L118.1,148.6" stroke="#b7b7b7" stroke-width="4.79"/>
<path d="M119.3,147.9 L118.1,148.6 L116.9,149.3 L115.6,150.1 L114.3,150.7" stroke="#bcbcbc" stroke-width="5.12"/>
<path d="M115.6,150.1 L114.3,150.7 L113,151.4 L111.7,152.1 L110.4,152.7" stroke="#c0c0c0" stroke-width="5.35"/>
<path d="M111.7,152.1 L110.4,152.7 L109.1,153.3 L107.8,153.9 L106.4,154.4" stroke="#c2c2c2" stroke-width="5.48"/>
<path d="M107.8,153.9 L106.4,154.4 L105.1,155 L103.7,155.5 L102.3,156" stroke="#c2c2c2" stroke-width="5.61"/>
<path d="M103.7,155.5 L102.3,156 L100.9,156.4 L99.6,156.9 L98.2,157.3" stroke="#c2c2c2" stroke-width="5.61"/>
<path d="M99.6,156.9 L98.2,157.3 L96.8,157.7 L95.3,158.1 L93.9,158.4" stroke="#c2c2c2" stroke-width="5.26"/>
<path d="M95.3,158.1 L93.9,158.4 L92.5,158.7 L91.1,159 L89.6,159.3" stroke="#c2c2c2" stroke-width="4.86"/>
<path d="M91.1,159 L89.6,159.3 L88.2,159.6 L86.7,159.8 L85.3,160" stroke="#c0c0c0" stroke-width="4.44"/>
<path d="M86.7,159.8 L85.3,160 L83.8,160.2 L82.4,160.4 L80.9,160.5" stroke="#bcbcbc" stroke-width="3.85"/>
<path d="M82.4,160.4 L80.9,160.5 L79.5,160.6 L78,160.7 L76.5,160.8" stroke="#b6b6b6" stroke-width="3.19"/>
<path d="M78,160.7 L76.5,160.8 L75.1,160.8 L73.6,160.8" stroke="#afafaf" stroke-width="2.53"/>
<path d="M-34.4,12.5 L-33.1,13.2 L-31.9,13.9 L-30.7,14.6 L-29.4,15.4" stroke="#5d5d5d" stroke-width="5.24"/>
<path d="M-30.7,14.6 L-29.4,15.4 L-28.2,16.2 L-27,17 L-25.8,17.8" stroke="#5d5d5d" stroke-width="5.15"/>
<path d="M-27,17 L-25.8,17.8 L-24.7,18.6 L-23.5,19.5 L-22.4,20.4" stroke="#5c5c5c" stroke-width="5.06"/>
<path d="M-23.5,19.5 L-22.4,20.4 L-21.3,21.3 L-20.2,22.2 L-19.1,23.1" stroke="#5b5b5b" stroke-width="4.97"/>
<path d="M-20.2,22.2 L-19.1,23.1 L-18,24.1 L-17,25 L-16,26" stroke="#5a5a5a" stroke-width="4.88"/>
<path d="M-17,25 L-16,26 L-15,27 L-14,28 L-13,29.1" stroke="#595959" stroke-width="4.80"/>
<path d="M-14,28 L-13,29.1 L-12.1,30.1 L-11.1,31.2 L-10.2,32.3" stroke="#585858" stroke-width="4.71"/>
<path d="M-11.1,31.2 L-10.2,32.3 L-9.3,33.4 L-8.4,34.5 L-7.6,35.6" stroke="#575757" stroke-width="4.62"/>
<path d="M-8.4,34.5 L-7.6,35.6 L-6.8,36.7 L-6,37.9 L-5.2,39" stroke="#575757" stroke-width="4.53"/>
<path d="M-6,37.9 L-5.2,39 L-4.4,40.2 L-3.7,41.4 L-2.9,42.6" stroke="#565656" stroke-width="4.44"/>
<path d="M-3.7,41.4 L-2.9,42.6 L-2.2,43.8 L-1.6,45 L-0.9,46.3" stroke="#555555" stroke-width="4.27"/>
<path d="M-1.6,45 L-0.9,46.3 L-0.3,47.5 L0.3,48.8 L0.9,50" stroke="#545454" stroke-width="4.00"/>
<path d="M0.3,48.8 L0.9,50 L1.5,51.3 L2,52.6 L2.5,53.9" stroke="#525252" stroke-width="3.74"/>
<path d="M2,52.6 L2.5,53.9 L3,55.1 L3.5,56.4 L3.9,57.7" stroke="#515151" stroke-width="3.54"/>
<path d="M3.5,56.4 L3.9,57.7 L4.3,59 L4.7,60.3 L5.1,61.6" stroke="#515151" stroke-width="3.52"/>
<path d="M4.7,60.3 L5.1,61.6 L5.4,62.9 L5.8,64.3 L6.1,65.6" stroke="#515151" stroke-width="3.52"/>
<path d="M5.8,64.3 L6.1,65.6 L6.3,66.9 L6.6,68.3 L6.8,69.6" stroke="#515151" stroke-width="3.52"/>
<path d="M6.6,68.3 L6.8,69.6 L7,71 L7.1,72.3 L7.3,73.7" stroke="#515151" stroke-width="3.52"/>
<path d="M7.1,72.3 L7.3,73.7 L7.4,75.1 L7.5,76.5 L7.5,77.8" stroke="#515151" stroke-width="3.52"/>
<path d="M7.5,76.5 L7.5,77.8 L7.6,79.2 L7.6,80.6 L7.6,82" stroke="#515151" stroke-width="3.52"/>
<path d="M7.6,80.6 L7.6,82 L7.5,83.4 L7.5,84.8 L7.4,86.2" stroke="#515151" stroke-width="3.52"/>
<path d="M7.5,84.8 L7.4,86.2 L7.3,87.6 L7.1,89 L7,90.4" stroke="#515151" stroke-width="3.52"/>
<path d="M7.1,89 L7,90.4 L6.8,91.8 L6.6,93.1 L6.3,94.5" stroke="#515151" stroke-width="3.52"/>
<path d="M6.6,93.1 L6.3,94.5 L6.1,95.9 L5.8,97.3 L5.4,98.6" stroke="#515151" stroke-width="3.52"/>
<path d="M5.8,97.3 L5.4,98.6 L5.1,100 L4.7,101.4 L4.3,102.7" stroke="#515151" stroke-width="3.52"/>
<path d="M4.7,101.4 L4.3,102.7 L3.9,104 L3.5,105.4 L3,106.7" stroke="#515151" stroke-width="3.52"/>
<path d="M3.5,105.4 L3,106.7 L2.5,108 L2,109.3 L1.5,110.6" stroke="#525252" stroke-width="3.53"/>
<path d="M2,109.3 L1.5,110.6 L0.9,111.9 L0.3,113.2 L-0.3,114.5" stroke="#545454" stroke-width="3.63"/>
<path d="M0.3,113.2 L-0.3,114.5 L-0.9,115.8 L-1.6,117 L-2.2,118.3" stroke="#575757" stroke-width="3.76"/>
<path d="M-1.6,117 L-2.2,118.3 L-2.9,119.5 L-3.7,120.7 L-4.4,121.9" stroke="#5b5b5b" stroke-width="3.89"/>
<path d="M-3.7,120.7 L-4.4,121.9 L-5.2,123.1 L-6,124.3 L-6.8,125.4" stroke="#606060" stroke-width="3.96"/>
<path d="M-6,124.3 L-6.8,125.4 L-7.6,126.6 L-8.4,127.7 L-9.3,128.9" stroke="#676767" stroke-width="3.96"/>
<path d="M-8.4,127.7 L-9.3,128.9 L-10.2,130 L-11.1,131.1 L-12.1,132.2" stroke="#6e6e6e" stroke-width="3.96"/>
<path d="M-11.1,131.1 L-12.1,132.2 L-13,133.2 L-14,134.3 L-15,135.3" stroke="#797979" stroke-width="3.96"/>
<path d="M-14,134.3 L-15,135.3 L-16,136.3 L-17,137.3 L-18,138.3" stroke="#898989" stroke-width="3.96"/>
<path d="M-17,137.3 L-18,138.3 L-19.1,139.3 L-20.2,140.2 L-21.3,141.1" stroke="#989898" stroke-width="4.05"/>
<path d="M-20.2,140.2 L-21.3,141.1 L-22.4,142 L-23.5,142.9 L-24.7,143.8" stroke="#a6a6a6" stroke-width="4.24"/>
<path d="M-23.5,142.9 L-24.7,143.8 L-25.8,144.7 L-27,145.5 L-28.2,146.3" stroke="#afafaf" stroke-width="4.47"/>
<path d="M-27,145.5 L-28.2,146.3 L-29.4,147.1 L-30.7,147.9 L-31.9,148.6" stroke="#b7b7b7" stroke-width="4.79"/>
</g>
<g filter="url(#b07)" fill="none" stroke-linecap="round" stroke-linejoin="round">
<path d="M73.6,1.9 L75.1,1.9 L76.5,1.9 L78,2 L79.5,2.1" stroke="#444444" stroke-width="2.20"/>
<path d="M78,2 L79.5,2.1 L80.9,2.2 L82.4,2.3 L83.8,2.5" stroke="#4c4c4c" stroke-width="2.18"/>
<path d="M82.4,2.3 L83.8,2.5 L85.3,2.7 L86.7,2.9 L88.2,3.1" stroke="#555555" stroke-width="2.17"/>
<path d="M86.7,2.9 L88.2,3.1 L89.6,3.4 L91.1,3.6 L92.5,3.9" stroke="#606060" stroke-width="2.15"/>
<path d="M91.1,3.6 L92.5,3.9 L93.9,4.2 L95.3,4.6 L96.8,5" stroke="#6c6c6c" stroke-width="2.13"/>
<path d="M95.3,4.6 L96.8,5 L98.2,5.4 L99.6,5.8 L100.9,6.2" stroke="#767676" stroke-width="2.12"/>
<path d="M99.6,5.8 L100.9,6.2 L102.3,6.7 L103.7,7.1 L105.1,7.7" stroke="#7a7a7a" stroke-width="2.10"/>
<path d="M103.7,7.1 L105.1,7.7 L106.4,8.2 L107.8,8.7 L109.1,9.3" stroke="#7f7f7f" stroke-width="2.08"/>
<path d="M107.8,8.7 L109.1,9.3 L110.4,9.9 L111.7,10.5 L113,11.1" stroke="#828282" stroke-width="2.07"/>
<path d="M111.7,10.5 L113,11.1 L114.3,11.8 L115.6,12.5 L116.9,13.2" stroke="#828282" stroke-width="2.05"/>
<path d="M115.6,12.5 L116.9,13.2 L118.1,13.9 L119.3,14.6 L120.6,15.4" stroke="#818181" stroke-width="2.02"/>
<path d="M119.3,14.6 L120.6,15.4 L121.8,16.2 L123,17 L124.2,17.8" stroke="#808080" stroke-width="1.99"/>
<path d="M123,17 L124.2,17.8 L125.3,18.6 L126.5,19.5 L127.6,20.4" stroke="#7f7f7f" stroke-width="1.95"/>
<path d="M126.5,19.5 L127.6,20.4 L128.7,21.3 L129.8,22.2 L130.9,23.1" stroke="#7e7e7e" stroke-width="1.92"/>
<path d="M129.8,22.2 L130.9,23.1 L132,24.1 L133,25 L134,26" stroke="#7c7c7c" stroke-width="1.89"/>
<path d="M133,25 L134,26 L135,27 L136,28 L137,29.1" stroke="#7b7b7b" stroke-width="1.85"/>
<path d="M136,28 L137,29.1 L137.9,30.1 L138.9,31.2 L139.8,32.3" stroke="#7a7a7a" stroke-width="1.82"/>
<path d="M138.9,31.2 L139.8,32.3 L140.7,33.4 L141.6,34.5 L142.4,35.6" stroke="#797979" stroke-width="1.78"/>
<path d="M141.6,34.5 L142.4,35.6 L143.2,36.7 L144,37.9 L144.8,39" stroke="#787878" stroke-width="1.75"/>
<path d="M144,37.9 L144.8,39 L145.6,40.2 L146.3,41.4 L147.1,42.6" stroke="#767676" stroke-width="1.72"/>
<path d="M146.3,41.4 L147.1,42.6 L147.8,43.8 L148.4,45 L149.1,46.3" stroke="#757575" stroke-width="1.65"/>
<path d="M148.4,45 L149.1,46.3 L149.7,47.5 L150.3,48.8 L150.9,50" stroke="#737373" stroke-width="1.55"/>
<path d="M150.3,48.8 L150.9,50 L151.5,51.3 L152,52.6 L152.5,53.9" stroke="#727272" stroke-width="1.45"/>
<path d="M152,52.6 L152.5,53.9 L153,55.1 L153.5,56.4 L153.9,57.7" stroke="#717171" stroke-width="1.37"/>
<path d="M153.5,56.4 L153.9,57.7 L154.3,59 L154.7,60.3 L155.1,61.6" stroke="#707070" stroke-width="1.36"/>
<path d="M154.7,60.3 L155.1,61.6 L155.4,62.9 L155.8,64.3 L156.1,65.6" stroke="#707070" stroke-width="1.36"/>
<path d="M155.8,64.3 L156.1,65.6 L156.3,66.9 L156.6,68.3 L156.8,69.6" stroke="#707070" stroke-width="1.36"/>
<path d="M156.6,68.3 L156.8,69.6 L157,71 L157.1,72.3 L157.3,73.7" stroke="#707070" stroke-width="1.36"/>
<path d="M157.1,72.3 L157.3,73.7 L157.4,75.1 L157.5,76.5 L157.5,77.8" stroke="#707070" stroke-width="1.36"/>
<path d="M157.5,76.5 L157.5,77.8 L157.6,79.2 L157.6,80.6 L157.6,82" stroke="#707070" stroke-width="1.36"/>
<path d="M157.6,80.6 L157.6,82 L157.5,83.4 L157.5,84.8 L157.4,86.2" stroke="#707070" stroke-width="1.36"/>
<path d="M157.5,84.8 L157.4,86.2 L157.3,87.6 L157.1,89 L157,90.4" stroke="#707070" stroke-width="1.36"/>
<path d="M157.1,89 L157,90.4 L156.8,91.8 L156.6,93.1 L156.3,94.5" stroke="#707070" stroke-width="1.36"/>
<path d="M156.6,93.1 L156.3,94.5 L156.1,95.9 L155.8,97.3 L155.4,98.6" stroke="#707070" stroke-width="1.36"/>
<path d="M155.8,97.3 L155.4,98.6 L155.1,100 L154.7,101.4 L154.3,102.7" stroke="#707070" stroke-width="1.36"/>
<path d="M154.7,101.4 L154.3,102.7 L153.9,104 L153.5,105.4 L153,106.7" stroke="#707070" stroke-width="1.36"/>
<path d="M153.5,105.4 L153,106.7 L152.5,108 L152,109.3 L151.5,110.6" stroke="#717171" stroke-width="1.36"/>
<path d="M152,109.3 L151.5,110.6 L150.9,111.9 L150.3,113.2 L149.7,114.5" stroke="#747474" stroke-width="1.40"/>
<path d="M150.3,113.2 L149.7,114.5 L149.1,115.8 L148.4,117 L147.8,118.3" stroke="#797979" stroke-width="1.45"/>
<path d="M148.4,117 L147.8,118.3 L147.1,119.5 L146.3,120.7 L145.6,121.9" stroke="#7e7e7e" stroke-width="1.50"/>
<path d="M146.3,120.7 L145.6,121.9 L144.8,123.1 L144,124.3 L143.2,125.4" stroke="#858585" stroke-width="1.53"/>
<path d="M144,124.3 L143.2,125.4 L142.4,126.6 L141.6,127.7 L140.7,128.9" stroke="#8e8e8e" stroke-width="1.53"/>
<path d="M141.6,127.7 L140.7,128.9 L139.8,130 L138.9,131.1 L137.9,132.2" stroke="#989898" stroke-width="1.53"/>
<path d="M138.9,131.1 L137.9,132.2 L137,133.2 L136,134.3 L135,135.3" stroke="#a8a8a8" stroke-width="1.53"/>
<path d="M136,134.3 L135,135.3 L134,136.3 L133,137.3 L132,138.3" stroke="#bdbdbd" stroke-width="1.53"/>
<path d="M133,137.3 L132,138.3 L130.9,139.3 L129.8,140.2 L128.7,141.1" stroke="#d2d2d2" stroke-width="1.57"/>
<path d="M129.8,140.2 L128.7,141.1 L127.6,142 L126.5,142.9 L125.3,143.8" stroke="#e5e5e5" stroke-width="1.64"/>
<path d="M126.5,142.9 L125.3,143.8 L124.2,144.7 L123,145.5 L121.8,146.3" stroke="#f2f2f2" stroke-width="1.73"/>
<path d="M123,145.5 L121.8,146.3 L120.6,147.1 L119.3,147.9 L118.1,148.6" stroke="#fcfcfc" stroke-width="1.85"/>
<path d="M119.3,147.9 L118.1,148.6 L116.9,149.3 L115.6,150.1 L114.3,150.7" stroke="#ffffff" stroke-width="1.98"/>
<path d="M115.6,150.1 L114.3,150.7 L113,151.4 L111.7,152.1 L110.4,152.7" stroke="#ffffff" stroke-width="2.07"/>
<path d="M111.7,152.1 L110.4,152.7 L109.1,153.3 L107.8,153.9 L106.4,154.4" stroke="#ffffff" stroke-width="2.12"/>
<path d="M107.8,153.9 L106.4,154.4 L105.1,155 L103.7,155.5 L102.3,156" stroke="#ffffff" stroke-width="2.17"/>
<path d="M103.7,155.5 L102.3,156 L100.9,156.4 L99.6,156.9 L98.2,157.3" stroke="#ffffff" stroke-width="2.17"/>
<path d="M99.6,156.9 L98.2,157.3 L96.8,157.7 L95.3,158.1 L93.9,158.4" stroke="#ffffff" stroke-width="2.03"/>
<path d="M95.3,158.1 L93.9,158.4 L92.5,158.7 L91.1,159 L89.6,159.3" stroke="#ffffff" stroke-width="1.88"/>
<path d="M91.1,159 L89.6,159.3 L88.2,159.6 L86.7,159.8 L85.3,160" stroke="#ffffff" stroke-width="1.72"/>
<path d="M86.7,159.8 L85.3,160 L83.8,160.2 L82.4,160.4 L80.9,160.5" stroke="#ffffff" stroke-width="1.49"/>
<path d="M82.4,160.4 L80.9,160.5 L79.5,160.6 L78,160.7 L76.5,160.8" stroke="#fcfcfc" stroke-width="1.23"/>
<path d="M78,160.7 L76.5,160.8 L75.1,160.8 L73.6,160.8" stroke="#f1f1f1" stroke-width="0.98"/>
<path d="M-34.4,12.5 L-33.1,13.2 L-31.9,13.9 L-30.7,14.6 L-29.4,15.4" stroke="#818181" stroke-width="2.02"/>
<path d="M-30.7,14.6 L-29.4,15.4 L-28.2,16.2 L-27,17 L-25.8,17.8" stroke="#808080" stroke-width="1.99"/>
<path d="M-27,17 L-25.8,17.8 L-24.7,18.6 L-23.5,19.5 L-22.4,20.4" stroke="#7f7f7f" stroke-width="1.95"/>
<path d="M-23.5,19.5 L-22.4,20.4 L-21.3,21.3 L-20.2,22.2 L-19.1,23.1" stroke="#7e7e7e" stroke-width="1.92"/>
<path d="M-20.2,22.2 L-19.1,23.1 L-18,24.1 L-17,25 L-16,26" stroke="#7c7c7c" stroke-width="1.89"/>
<path d="M-17,25 L-16,26 L-15,27 L-14,28 L-13,29.1" stroke="#7b7b7b" stroke-width="1.85"/>
<path d="M-14,28 L-13,29.1 L-12.1,30.1 L-11.1,31.2 L-10.2,32.3" stroke="#7a7a7a" stroke-width="1.82"/>
<path d="M-11.1,31.2 L-10.2,32.3 L-9.3,33.4 L-8.4,34.5 L-7.6,35.6" stroke="#797979" stroke-width="1.78"/>
<path d="M-8.4,34.5 L-7.6,35.6 L-6.8,36.7 L-6,37.9 L-5.2,39" stroke="#787878" stroke-width="1.75"/>
<path d="M-6,37.9 L-5.2,39 L-4.4,40.2 L-3.7,41.4 L-2.9,42.6" stroke="#767676" stroke-width="1.72"/>
<path d="M-3.7,41.4 L-2.9,42.6 L-2.2,43.8 L-1.6,45 L-0.9,46.3" stroke="#757575" stroke-width="1.65"/>
<path d="M-1.6,45 L-0.9,46.3 L-0.3,47.5 L0.3,48.8 L0.9,50" stroke="#737373" stroke-width="1.55"/>
<path d="M0.3,48.8 L0.9,50 L1.5,51.3 L2,52.6 L2.5,53.9" stroke="#727272" stroke-width="1.45"/>
<path d="M2,52.6 L2.5,53.9 L3,55.1 L3.5,56.4 L3.9,57.7" stroke="#717171" stroke-width="1.37"/>
<path d="M3.5,56.4 L3.9,57.7 L4.3,59 L4.7,60.3 L5.1,61.6" stroke="#707070" stroke-width="1.36"/>
<path d="M4.7,60.3 L5.1,61.6 L5.4,62.9 L5.8,64.3 L6.1,65.6" stroke="#707070" stroke-width="1.36"/>
<path d="M5.8,64.3 L6.1,65.6 L6.3,66.9 L6.6,68.3 L6.8,69.6" stroke="#707070" stroke-width="1.36"/>
<path d="M6.6,68.3 L6.8,69.6 L7,71 L7.1,72.3 L7.3,73.7" stroke="#707070" stroke-width="1.36"/>
<path d="M7.1,72.3 L7.3,73.7 L7.4,75.1 L7.5,76.5 L7.5,77.8" stroke="#707070" stroke-width="1.36"/>
<path d="M7.5,76.5 L7.5,77.8 L7.6,79.2 L7.6,80.6 L7.6,82" stroke="#707070" stroke-width="1.36"/>
<path d="M7.6,80.6 L7.6,82 L7.5,83.4 L7.5,84.8 L7.4,86.2" stroke="#707070" stroke-width="1.36"/>
<path d="M7.5,84.8 L7.4,86.2 L7.3,87.6 L7.1,89 L7,90.4" stroke="#707070" stroke-width="1.36"/>
<path d="M7.1,89 L7,90.4 L6.8,91.8 L6.6,93.1 L6.3,94.5" stroke="#707070" stroke-width="1.36"/>
<path d="M6.6,93.1 L6.3,94.5 L6.1,95.9 L5.8,97.3 L5.4,98.6" stroke="#707070" stroke-width="1.36"/>
<path d="M5.8,97.3 L5.4,98.6 L5.1,100 L4.7,101.4 L4.3,102.7" stroke="#707070" stroke-width="1.36"/>
<path d="M4.7,101.4 L4.3,102.7 L3.9,104 L3.5,105.4 L3,106.7" stroke="#707070" stroke-width="1.36"/>
<path d="M3.5,105.4 L3,106.7 L2.5,108 L2,109.3 L1.5,110.6" stroke="#717171" stroke-width="1.36"/>
<path d="M2,109.3 L1.5,110.6 L0.9,111.9 L0.3,113.2 L-0.3,114.5" stroke="#747474" stroke-width="1.40"/>
<path d="M0.3,113.2 L-0.3,114.5 L-0.9,115.8 L-1.6,117 L-2.2,118.3" stroke="#797979" stroke-width="1.45"/>
<path d="M-1.6,117 L-2.2,118.3 L-2.9,119.5 L-3.7,120.7 L-4.4,121.9" stroke="#7e7e7e" stroke-width="1.50"/>
<path d="M-3.7,120.7 L-4.4,121.9 L-5.2,123.1 L-6,124.3 L-6.8,125.4" stroke="#858585" stroke-width="1.53"/>
<path d="M-6,124.3 L-6.8,125.4 L-7.6,126.6 L-8.4,127.7 L-9.3,128.9" stroke="#8e8e8e" stroke-width="1.53"/>
<path d="M-8.4,127.7 L-9.3,128.9 L-10.2,130 L-11.1,131.1 L-12.1,132.2" stroke="#989898" stroke-width="1.53"/>
<path d="M-11.1,131.1 L-12.1,132.2 L-13,133.2 L-14,134.3 L-15,135.3" stroke="#a8a8a8" stroke-width="1.53"/>
<path d="M-14,134.3 L-15,135.3 L-16,136.3 L-17,137.3 L-18,138.3" stroke="#bdbdbd" stroke-width="1.53"/>
<path d="M-17,137.3 L-18,138.3 L-19.1,139.3 L-20.2,140.2 L-21.3,141.1" stroke="#d2d2d2" stroke-width="1.57"/>
<path d="M-20.2,140.2 L-21.3,141.1 L-22.4,142 L-23.5,142.9 L-24.7,143.8" stroke="#e5e5e5" stroke-width="1.64"/>
<path d="M-23.5,142.9 L-24.7,143.8 L-25.8,144.7 L-27,145.5 L-28.2,146.3" stroke="#f2f2f2" stroke-width="1.73"/>
<path d="M-27,145.5 L-28.2,146.3 L-29.4,147.1 L-30.7,147.9 L-31.9,148.6" stroke="#fcfcfc" stroke-width="1.85"/>
</g>
</g></g>
<rect x="0.5" y="0.5" width="149" height="163" fill="none" stroke="#262626" stroke-width="0.85"/>
<path d="M0.5,163 v-1.6 M0.5,1 v1.6 M75,163 v-1.6 M75,1 v1.6 M149.5,163 v-1.6 M149.5,1 v1.6 M1,10.3 h1.6 M149,10.3 h-1.6 M1,46.5 h1.6 M149,46.5 h-1.6 M1,82.6 h1.6 M149,82.6 h-1.6 M1,118.7 h1.6 M149,118.7 h-1.6 M1,154.8 h1.6 M149,154.8 h-1.6" stroke="#262626" stroke-width="1" fill="none"/>
<text x="0.5" y="182" font-size="13" text-anchor="middle">-1</text>
<text x="75" y="182" font-size="13" text-anchor="middle">0</text>
<text x="149.5" y="182" font-size="13" text-anchor="middle">1</text>
<text x="-4.5" y="15.2" font-size="13" text-anchor="end">-1</text>
<text x="-4.5" y="51.4" font-size="13" text-anchor="end">-0.5</text>
<text x="-4.5" y="87.5" font-size="13" text-anchor="end">0</text>
<text x="-4.5" y="123.6" font-size="13" text-anchor="end">0.5</text>
<text x="-4.5" y="159.8" font-size="13" text-anchor="end">1</text>
<text x="74.5" y="202.8" font-size="14.3" text-anchor="middle">2fd/fr</text>
<text transform="translate(-34.2,81.6) rotate(-90)" font-size="14.3" text-anchor="middle">cos(<tspan font-family="Liberation Serif, serif" font-style="italic" font-weight="bold" font-size="16" dx="0.3">ψ</tspan><tspan dx="0.3">)</tspan></text>
</g>
<rect x="219.5" y="14.5" width="16" height="164" fill="url(#cbg)" stroke="#262626" stroke-width="0.85"/>
<text x="240.3" y="19.8" font-size="13">0</text>
<text x="240.3" y="48.1" font-size="13">-10</text>
<text x="240.3" y="76.4" font-size="13">-20</text>
<text x="240.3" y="104.6" font-size="13">-30</text>
<text x="240.3" y="132.9" font-size="13">-40</text>
<text x="240.3" y="161.2" font-size="13">-50</text>
<path d="M235,42.8 h-1.6 M235,71.1 h-1.6 M235,99.3 h-1.6 M235,127.6 h-1.6 M235,155.9 h-1.6" stroke="#262626" stroke-width="1" fill="none"/>
<g transform="translate(339,14)">
<g clip-path="url(#cp)"><g filter="url(#parula)">
<rect x="-5" y="-5" width="160" height="174" fill="#0a0a0a"/>
<g filter="url(#b8)"><ellipse cx="65.6" cy="0" rx="22" ry="5" fill="#333333"/><ellipse cx="65.6" cy="164" rx="22" ry="5" fill="#383838"/></g>
<g filter="url(#b8)" fill="none" stroke-linecap="round" stroke-linejoin="round">
<path d="M73.6,-1.1 L75.1,-1.1 L76.6,-1.1 L78.1,-1 L79.7,-0.9" stroke="#1c1c1c" stroke-width="18.00"/>
<path d="M78.1,-1 L79.7,-0.9 L81.2,-0.8 L82.7,-0.7 L84.2,-0.5" stroke="#1d1d1d" stroke-width="18.00"/>
<path d="M82.7,-0.7 L84.2,-0.5 L85.7,-0.3 L87.2,-0.1 L88.7,0.1" stroke="#1d1d1d" stroke-width="18.00"/>
<path d="M87.2,-0.1 L88.7,0.1 L90.2,0.4 L91.7,0.7 L93.1,1" stroke="#1e1e1e" stroke-width="18.00"/>
<path d="M91.7,0.7 L93.1,1 L94.6,1.3 L96.1,1.7 L97.5,2.1" stroke="#1f1f1f" stroke-width="18.00"/>
<path d="M96.1,1.7 L97.5,2.1 L99,2.5 L100.4,2.9 L101.9,3.3" stroke="#202020" stroke-width="18.00"/>
<path d="M100.4,2.9 L101.9,3.3 L103.3,3.8 L104.7,4.3 L106.1,4.8" stroke="#212121" stroke-width="18.00"/>
<path d="M104.7,4.3 L106.1,4.8 L107.5,5.4 L108.9,6 L110.3,6.6" stroke="#212121" stroke-width="18.00"/>
<path d="M108.9,6 L110.3,6.6 L111.7,7.2 L113,7.8 L114.4,8.5" stroke="#212121" stroke-width="18.00"/>
<path d="M113,7.8 L114.4,8.5 L115.7,9.1 L117,9.8 L118.3,10.6" stroke="#212121" stroke-width="18.00"/>
<path d="M117,9.8 L118.3,10.6 L119.6,11.3 L120.9,12.1 L122.2,12.9" stroke="#212121" stroke-width="18.00"/>
<path d="M120.9,12.1 L122.2,12.9 L123.4,13.7 L124.7,14.5 L125.9,15.4" stroke="#202020" stroke-width="18.00"/>
<path d="M124.7,14.5 L125.9,15.4 L127.1,16.2 L128.3,17.1 L129.5,18" stroke="#202020" stroke-width="18.00"/>
<path d="M128.3,17.1 L129.5,18 L130.6,19 L131.7,19.9 L132.9,20.9" stroke="#202020" stroke-width="18.00"/>
<path d="M131.7,19.9 L132.9,20.9 L134,21.9 L135.1,22.9 L136.1,23.9" stroke="#202020" stroke-width="18.00"/>
<path d="M135.1,22.9 L136.1,23.9 L137.2,24.9 L138.2,26 L139.2,27" stroke="#202020" stroke-width="18.00"/>
<path d="M138.2,26 L139.2,27 L140.2,28.1 L141.2,29.2 L142.1,30.3" stroke="#202020" stroke-width="18.00"/>
<path d="M141.2,29.2 L142.1,30.3 L143,31.5 L143.9,32.6 L144.8,33.8" stroke="#202020" stroke-width="18.00"/>
<path d="M143.9,32.6 L144.8,33.8 L145.7,35 L146.5,36.2 L147.3,37.4" stroke="#202020" stroke-width="18.00"/>
<path d="M146.5,36.2 L147.3,37.4 L148.1,38.6 L148.9,39.8 L149.7,41.1" stroke="#202020" stroke-width="18.00"/>
<path d="M148.9,39.8 L149.7,41.1 L150.4,42.3 L151.1,43.6 L151.8,44.9" stroke="#202020" stroke-width="18.00"/>
<path d="M151.1,43.6 L151.8,44.9 L152.4,46.2 L153,47.5 L153.7,48.8" stroke="#202020" stroke-width="18.00"/>
<path d="M153,47.5 L153.7,48.8 L154.2,50.1 L154.8,51.5 L155.3,52.8" stroke="#202020" stroke-width="18.00"/>
<path d="M154.8,51.5 L155.3,52.8 L155.8,54.1 L156.3,55.4 L156.8,56.8" stroke="#202020" stroke-width="18.00"/>
<path d="M156.3,55.4 L156.8,56.8 L157.2,58.1 L157.6,59.5 L158,60.8" stroke="#202020" stroke-width="18.00"/>
<path d="M157.6,59.5 L158,60.8 L158.4,62.2 L158.7,63.6 L159,65" stroke="#202020" stroke-width="18.00"/>
<path d="M158.7,63.6 L159,65 L159.3,66.4 L159.5,67.8 L159.7,69.2" stroke="#202020" stroke-width="18.00"/>
<path d="M159.5,67.8 L159.7,69.2 L159.9,70.6 L160.1,72 L160.3,73.4" stroke="#202020" stroke-width="18.00"/>
<path d="M160.1,72 L160.3,73.4 L160.4,74.9 L160.5,76.3 L160.5,77.7" stroke="#202020" stroke-width="18.00"/>
<path d="M160.5,76.3 L160.5,77.7 L160.6,79.2 L160.6,80.6 L160.6,82.1" stroke="#202020" stroke-width="18.00"/>
<path d="M160.6,80.6 L160.6,82.1 L160.5,83.5 L160.5,85 L160.4,86.4" stroke="#202020" stroke-width="18.00"/>
<path d="M160.5,85 L160.4,86.4 L160.3,87.9 L160.1,89.3 L159.9,90.8" stroke="#202020" stroke-width="18.00"/>
<path d="M160.1,89.3 L159.9,90.8 L159.8,92.2 L159.5,93.6 L159.3,95.1" stroke="#202020" stroke-width="18.00"/>
<path d="M159.5,93.6 L159.3,95.1 L159,96.5 L158.7,97.9 L158.4,99.3" stroke="#202020" stroke-width="18.00"/>
<path d="M158.7,97.9 L158.4,99.3 L158,100.8 L157.6,102.2 L157.2,103.6" stroke="#202020" stroke-width="18.00"/>
<path d="M157.6,102.2 L157.2,103.6 L156.8,105 L156.3,106.3 L155.8,107.7" stroke="#202020" stroke-width="18.00"/>
<path d="M156.3,106.3 L155.8,107.7 L155.3,109.1 L154.8,110.5 L154.2,111.8" stroke="#202020" stroke-width="18.00"/>
<path d="M154.8,110.5 L154.2,111.8 L153.7,113.2 L153.1,114.5 L152.4,115.8" stroke="#202020" stroke-width="18.00"/>
<path d="M153.1,114.5 L152.4,115.8 L151.8,117.1 L151.1,118.4 L150.4,119.7" stroke="#202020" stroke-width="18.00"/>
<path d="M151.1,118.4 L150.4,119.7 L149.7,121 L148.9,122.3 L148.1,123.5" stroke="#202020" stroke-width="18.00"/>
<path d="M148.9,122.3 L148.1,123.5 L147.3,124.7 L146.5,126 L145.7,127.2" stroke="#212121" stroke-width="18.00"/>
<path d="M146.5,126 L145.7,127.2 L144.8,128.4 L143.9,129.6 L143,130.7" stroke="#212121" stroke-width="18.00"/>
<path d="M143.9,129.6 L143,130.7 L142.1,131.9 L141.2,133 L140.2,134.1" stroke="#222222" stroke-width="18.00"/>
<path d="M141.2,133 L140.2,134.1 L139.2,135.2 L138.2,136.3 L137.2,137.4" stroke="#222222" stroke-width="18.00"/>
<path d="M138.2,136.3 L137.2,137.4 L136.1,138.4 L135.1,139.5 L134,140.5" stroke="#232323" stroke-width="18.00"/>
<path d="M135.1,139.5 L134,140.5 L132.9,141.5 L131.8,142.5 L130.6,143.4" stroke="#232323" stroke-width="18.00"/>
<path d="M131.8,142.5 L130.6,143.4 L129.5,144.4 L128.3,145.3 L127.1,146.2" stroke="#242424" stroke-width="18.00"/>
<path d="M128.3,145.3 L127.1,146.2 L125.9,147.1 L124.7,147.9 L123.4,148.8" stroke="#242424" stroke-width="18.00"/>
<path d="M124.7,147.9 L123.4,148.8 L122.2,149.6 L120.9,150.4 L119.7,151.2" stroke="#252525" stroke-width="18.00"/>
<path d="M120.9,150.4 L119.7,151.2 L118.4,151.9 L117,152.7 L115.7,153.4" stroke="#252525" stroke-width="18.00"/>
<path d="M117,152.7 L115.7,153.4 L114.4,154.1 L113,154.8 L111.7,155.4" stroke="#262626" stroke-width="18.00"/>
<path d="M113,154.8 L111.7,155.4 L110.3,156 L108.9,156.6 L107.5,157.2" stroke="#262626" stroke-width="18.00"/>
<path d="M108.9,156.6 L107.5,157.2 L106.1,157.8 L104.7,158.3 L103.3,158.8" stroke="#262626" stroke-width="18.00"/>
<path d="M104.7,158.3 L103.3,158.8 L101.9,159.3 L100.4,159.7 L99,160.2" stroke="#262626" stroke-width="18.00"/>
<path d="M100.4,159.7 L99,160.2 L97.5,160.6 L96.1,161 L94.6,161.3" stroke="#262626" stroke-width="18.00"/>
<path d="M96.1,161 L94.6,161.3 L93.1,161.7 L91.7,162 L90.2,162.3" stroke="#262626" stroke-width="18.00"/>
<path d="M91.7,162 L90.2,162.3 L88.7,162.5 L87.2,162.8 L85.7,163" stroke="#262626" stroke-width="18.00"/>
<path d="M87.2,162.8 L85.7,163 L84.2,163.2 L82.7,163.3 L81.2,163.5" stroke="#262626" stroke-width="18.00"/>
<path d="M82.7,163.3 L81.2,163.5 L79.7,163.6 L78.1,163.7 L76.6,163.7" stroke="#252525" stroke-width="18.00"/>
<path d="M78.1,163.7 L76.6,163.7 L75.1,163.8 L73.6,163.8" stroke="#242424" stroke-width="18.00"/>
<path d="M-33,9.8 L-31.7,10.6 L-30.4,11.3 L-29.1,12.1 L-27.8,12.9" stroke="#212121" stroke-width="18.00"/>
<path d="M-29.1,12.1 L-27.8,12.9 L-26.6,13.7 L-25.3,14.5 L-24.1,15.4" stroke="#202020" stroke-width="18.00"/>
<path d="M-25.3,14.5 L-24.1,15.4 L-22.9,16.2 L-21.7,17.1 L-20.5,18" stroke="#202020" stroke-width="18.00"/>
<path d="M-21.7,17.1 L-20.5,18 L-19.4,19 L-18.3,19.9 L-17.1,20.9" stroke="#202020" stroke-width="18.00"/>
<path d="M-18.3,19.9 L-17.1,20.9 L-16,21.9 L-14.9,22.9 L-13.9,23.9" stroke="#202020" stroke-width="18.00"/>
<path d="M-14.9,22.9 L-13.9,23.9 L-12.8,24.9 L-11.8,26 L-10.8,27" stroke="#202020" stroke-width="18.00"/>
<path d="M-11.8,26 L-10.8,27 L-9.8,28.1 L-8.8,29.2 L-7.9,30.3" stroke="#202020" stroke-width="18.00"/>
<path d="M-8.8,29.2 L-7.9,30.3 L-7,31.5 L-6.1,32.6 L-5.2,33.8" stroke="#202020" stroke-width="18.00"/>
<path d="M-6.1,32.6 L-5.2,33.8 L-4.3,35 L-3.5,36.2 L-2.7,37.4" stroke="#202020" stroke-width="18.00"/>
<path d="M-3.5,36.2 L-2.7,37.4 L-1.9,38.6 L-1.1,39.8 L-0.3,41.1" stroke="#202020" stroke-width="18.00"/>
<path d="M-1.1,39.8 L-0.3,41.1 L0.4,42.3 L1.1,43.6 L1.8,44.9" stroke="#202020" stroke-width="18.00"/>
<path d="M1.1,43.6 L1.8,44.9 L2.4,46.2 L3,47.5 L3.7,48.8" stroke="#202020" stroke-width="18.00"/>
<path d="M3,47.5 L3.7,48.8 L4.2,50.1 L4.8,51.5 L5.3,52.8" stroke="#202020" stroke-width="18.00"/>
<path d="M4.8,51.5 L5.3,52.8 L5.8,54.1 L6.3,55.4 L6.8,56.8" stroke="#202020" stroke-width="18.00"/>
<path d="M6.3,55.4 L6.8,56.8 L7.2,58.1 L7.6,59.5 L8,60.8" stroke="#202020" stroke-width="18.00"/>
<path d="M7.6,59.5 L8,60.8 L8.4,62.2 L8.7,63.6 L9,65" stroke="#202020" stroke-width="18.00"/>
<path d="M8.7,63.6 L9,65 L9.3,66.4 L9.5,67.8 L9.7,69.2" stroke="#202020" stroke-width="18.00"/>
<path d="M9.5,67.8 L9.7,69.2 L9.9,70.6 L10.1,72 L10.3,73.4" stroke="#202020" stroke-width="18.00"/>
<path d="M10.1,72 L10.3,73.4 L10.4,74.9 L10.5,76.3 L10.5,77.7" stroke="#202020" stroke-width="18.00"/>
<path d="M10.5,76.3 L10.5,77.7 L10.6,79.2 L10.6,80.6 L10.6,82.1" stroke="#202020" stroke-width="18.00"/>
<path d="M10.6,80.6 L10.6,82.1 L10.5,83.5 L10.5,85 L10.4,86.4" stroke="#202020" stroke-width="18.00"/>
<path d="M10.5,85 L10.4,86.4 L10.3,87.9 L10.1,89.3 L9.9,90.8" stroke="#202020" stroke-width="18.00"/>
<path d="M10.1,89.3 L9.9,90.8 L9.8,92.2 L9.5,93.6 L9.3,95.1" stroke="#202020" stroke-width="18.00"/>
<path d="M9.5,93.6 L9.3,95.1 L9,96.5 L8.7,97.9 L8.4,99.3" stroke="#202020" stroke-width="18.00"/>
<path d="M8.7,97.9 L8.4,99.3 L8,100.8 L7.6,102.2 L7.2,103.6" stroke="#202020" stroke-width="18.00"/>
<path d="M7.6,102.2 L7.2,103.6 L6.8,105 L6.3,106.3 L5.8,107.7" stroke="#202020" stroke-width="18.00"/>
<path d="M6.3,106.3 L5.8,107.7 L5.3,109.1 L4.8,110.5 L4.2,111.8" stroke="#202020" stroke-width="18.00"/>
<path d="M4.8,110.5 L4.2,111.8 L3.7,113.2 L3.1,114.5 L2.4,115.8" stroke="#202020" stroke-width="18.00"/>
<path d="M3.1,114.5 L2.4,115.8 L1.8,117.1 L1.1,118.4 L0.4,119.7" stroke="#202020" stroke-width="18.00"/>
<path d="M1.1,118.4 L0.4,119.7 L-0.3,121 L-1.1,122.3 L-1.9,123.5" stroke="#202020" stroke-width="18.00"/>
<path d="M-1.1,122.3 L-1.9,123.5 L-2.7,124.7 L-3.5,126 L-4.3,127.2" stroke="#212121" stroke-width="18.00"/>
<path d="M-3.5,126 L-4.3,127.2 L-5.2,128.4 L-6.1,129.6 L-7,130.7" stroke="#212121" stroke-width="18.00"/>
<path d="M-6.1,129.6 L-7,130.7 L-7.9,131.9 L-8.8,133 L-9.8,134.1" stroke="#222222" stroke-width="18.00"/>
<path d="M-8.8,133 L-9.8,134.1 L-10.8,135.2 L-11.8,136.3 L-12.8,137.4" stroke="#222222" stroke-width="18.00"/>
<path d="M-11.8,136.3 L-12.8,137.4 L-13.9,138.4 L-14.9,139.5 L-16,140.5" stroke="#232323" stroke-width="18.00"/>
<path d="M-14.9,139.5 L-16,140.5 L-17.1,141.5 L-18.2,142.5 L-19.4,143.4" stroke="#232323" stroke-width="18.00"/>
<path d="M-18.2,142.5 L-19.4,143.4 L-20.5,144.4 L-21.7,145.3 L-22.9,146.2" stroke="#242424" stroke-width="18.00"/>
<path d="M-21.7,145.3 L-22.9,146.2 L-24.1,147.1 L-25.3,147.9 L-26.6,148.8" stroke="#242424" stroke-width="18.00"/>
<path d="M-25.3,147.9 L-26.6,148.8 L-27.8,149.6 L-29.1,150.4 L-30.3,151.2" stroke="#252525" stroke-width="18.00"/>
<path d="M-29.1,150.4 L-30.3,151.2 L-31.6,151.9 L-33,152.7 L-34.3,153.4" stroke="#252525" stroke-width="18.00"/>
</g>
<g filter="url(#b2)" fill="none" stroke-linecap="round" stroke-linejoin="round">
<path d="M73.6,1.9 L75.1,1.9 L76.5,1.9 L78,2 L79.5,2.1" stroke="#333333" stroke-width="7.00"/>
<path d="M78,2 L79.5,2.1 L80.9,2.2 L82.4,2.3 L83.8,2.5" stroke="#353535" stroke-width="7.00"/>
<path d="M82.4,2.3 L83.8,2.5 L85.3,2.7 L86.7,2.9 L88.2,3.1" stroke="#373737" stroke-width="7.00"/>
<path d="M86.7,2.9 L88.2,3.1 L89.6,3.4 L91.1,3.6 L92.5,3.9" stroke="#3a3a3a" stroke-width="7.00"/>
<path d="M91.1,3.6 L92.5,3.9 L93.9,4.2 L95.3,4.6 L96.8,5" stroke="#3e3e3e" stroke-width="7.00"/>
<path d="M95.3,4.6 L96.8,5 L98.2,5.4 L99.6,5.8 L100.9,6.2" stroke="#414141" stroke-width="7.00"/>
<path d="M99.6,5.8 L100.9,6.2 L102.3,6.7 L103.7,7.1 L105.1,7.7" stroke="#434343" stroke-width="7.00"/>
<path d="M103.7,7.1 L105.1,7.7 L106.4,8.2 L107.8,8.7 L109.1,9.3" stroke="#444444" stroke-width="7.00"/>
<path d="M107.8,8.7 L109.1,9.3 L110.4,9.9 L111.7,10.5 L113,11.1" stroke="#444444" stroke-width="7.00"/>
<path d="M111.7,10.5 L113,11.1 L114.3,11.8 L115.6,12.5 L116.9,13.2" stroke="#444444" stroke-width="7.00"/>
<path d="M115.6,12.5 L116.9,13.2 L118.1,13.9 L119.3,14.6 L120.6,15.4" stroke="#434343" stroke-width="7.00"/>
<path d="M119.3,14.6 L120.6,15.4 L121.8,16.2 L123,17 L124.2,17.8" stroke="#424242" stroke-width="7.00"/>
<path d="M123,17 L124.2,17.8 L125.3,18.6 L126.5,19.5 L127.6,20.4" stroke="#414141" stroke-width="7.00"/>
<path d="M126.5,19.5 L127.6,20.4 L128.7,21.3 L129.8,22.2 L130.9,23.1" stroke="#404040" stroke-width="7.00"/>
<path d="M129.8,22.2 L130.9,23.1 L132,24.1 L133,25 L134,26" stroke="#404040" stroke-width="7.00"/>
<path d="M133,25 L134,26 L135,27 L136,28 L137,29.1" stroke="#404040" stroke-width="7.00"/>
<path d="M136,28 L137,29.1 L137.9,30.1 L138.9,31.2 L139.8,32.3" stroke="#404040" stroke-width="7.00"/>
<path d="M138.9,31.2 L139.8,32.3 L140.7,33.4 L141.6,34.5 L142.4,35.6" stroke="#404040" stroke-width="7.00"/>
<path d="M141.6,34.5 L142.4,35.6 L143.2,36.7 L144,37.9 L144.8,39" stroke="#404040" stroke-width="7.00"/>
<path d="M144,37.9 L144.8,39 L145.6,40.2 L146.3,41.4 L147.1,42.6" stroke="#404040" stroke-width="7.00"/>
<path d="M146.3,41.4 L147.1,42.6 L147.8,43.8 L148.4,45 L149.1,46.3" stroke="#3f3f3f" stroke-width="7.00"/>
<path d="M148.4,45 L149.1,46.3 L149.7,47.5 L150.3,48.8 L150.9,50" stroke="#3f3f3f" stroke-width="7.00"/>
<path d="M150.3,48.8 L150.9,50 L151.5,51.3 L152,52.6 L152.5,53.9" stroke="#3f3f3f" stroke-width="7.00"/>
<path d="M152,52.6 L152.5,53.9 L153,55.1 L153.5,56.4 L153.9,57.7" stroke="#3f3f3f" stroke-width="7.00"/>
<path d="M153.5,56.4 L153.9,57.7 L154.3,59 L154.7,60.3 L155.1,61.6" stroke="#3f3f3f" stroke-width="7.00"/>
<path d="M154.7,60.3 L155.1,61.6 L155.4,62.9 L155.8,64.3 L156.1,65.6" stroke="#3f3f3f" stroke-width="7.00"/>
<path d="M155.8,64.3 L156.1,65.6 L156.3,66.9 L156.6,68.3 L156.8,69.6" stroke="#3f3f3f" stroke-width="7.00"/>
<path d="M156.6,68.3 L156.8,69.6 L157,71 L157.1,72.3 L157.3,73.7" stroke="#3f3f3f" stroke-width="7.00"/>
<path d="M157.1,72.3 L157.3,73.7 L157.4,75.1 L157.5,76.5 L157.5,77.8" stroke="#3f3f3f" stroke-width="7.00"/>
<path d="M157.5,76.5 L157.5,77.8 L157.6,79.2 L157.6,80.6 L157.6,82" stroke="#3f3f3f" stroke-width="7.00"/>
<path d="M157.6,80.6 L157.6,82 L157.5,83.4 L157.5,84.8 L157.4,86.2" stroke="#404040" stroke-width="7.00"/>
<path d="M157.5,84.8 L157.4,86.2 L157.3,87.6 L157.1,89 L157,90.4" stroke="#404040" stroke-width="7.00"/>
<path d="M157.1,89 L157,90.4 L156.8,91.8 L156.6,93.1 L156.3,94.5" stroke="#404040" stroke-width="7.00"/>
<path d="M156.6,93.1 L156.3,94.5 L156.1,95.9 L155.8,97.3 L155.4,98.6" stroke="#404040" stroke-width="7.00"/>
<path d="M155.8,97.3 L155.4,98.6 L155.1,100 L154.7,101.4 L154.3,102.7" stroke="#404040" stroke-width="7.00"/>
<path d="M154.7,101.4 L154.3,102.7 L153.9,104 L153.5,105.4 L153,106.7" stroke="#404040" stroke-width="7.00"/>
<path d="M153.5,105.4 L153,106.7 L152.5,108 L152,109.3 L151.5,110.6" stroke="#404040" stroke-width="7.00"/>
<path d="M152,109.3 L151.5,110.6 L150.9,111.9 L150.3,113.2 L149.7,114.5" stroke="#404040" stroke-width="7.00"/>
<path d="M150.3,113.2 L149.7,114.5 L149.1,115.8 L148.4,117 L147.8,118.3" stroke="#414141" stroke-width="7.00"/>
<path d="M148.4,117 L147.8,118.3 L147.1,119.5 L146.3,120.7 L145.6,121.9" stroke="#424242" stroke-width="7.00"/>
<path d="M146.3,120.7 L145.6,121.9 L144.8,123.1 L144,124.3 L143.2,125.4" stroke="#434343" stroke-width="7.00"/>
<path d="M144,124.3 L143.2,125.4 L142.4,126.6 L141.6,127.7 L140.7,128.9" stroke="#454545" stroke-width="7.00"/>
<path d="M141.6,127.7 L140.7,128.9 L139.8,130 L138.9,131.1 L137.9,132.2" stroke="#464646" stroke-width="7.00"/>
<path d="M138.9,131.1 L137.9,132.2 L137,133.2 L136,134.3 L135,135.3" stroke="#484848" stroke-width="7.00"/>
<path d="M136,134.3 L135,135.3 L134,136.3 L133,137.3 L132,138.3" stroke="#4b4b4b" stroke-width="7.00"/>
<path d="M133,137.3 L132,138.3 L130.9,139.3 L129.8,140.2 L128.7,141.1" stroke="#4d4d4d" stroke-width="7.00"/>
<path d="M129.8,140.2 L128.7,141.1 L127.6,142 L126.5,142.9 L125.3,143.8" stroke="#4f4f4f" stroke-width="7.00"/>
<path d="M126.5,142.9 L125.3,143.8 L124.2,144.7 L123,145.5 L121.8,146.3" stroke="#515151" stroke-width="7.00"/>
<path d="M123,145.5 L121.8,146.3 L120.6,147.1 L119.3,147.9 L118.1,148.6" stroke="#535353" stroke-width="7.00"/>
<path d="M119.3,147.9 L118.1,148.6 L116.9,149.3 L115.6,150.1 L114.3,150.7" stroke="#555555" stroke-width="7.00"/>
<path d="M115.6,150.1 L114.3,150.7 L113,151.4 L111.7,152.1 L110.4,152.7" stroke="#565656" stroke-width="7.00"/>
<path d="M111.7,152.1 L110.4,152.7 L109.1,153.3 L107.8,153.9 L106.4,154.4" stroke="#575757" stroke-width="7.00"/>
<path d="M107.8,153.9 L106.4,154.4 L105.1,155 L103.7,155.5 L102.3,156" stroke="#585858" stroke-width="7.00"/>
<path d="M103.7,155.5 L102.3,156 L100.9,156.4 L99.6,156.9 L98.2,157.3" stroke="#595959" stroke-width="7.00"/>
<path d="M99.6,156.9 L98.2,157.3 L96.8,157.7 L95.3,158.1 L93.9,158.4" stroke="#595959" stroke-width="7.00"/>
<path d="M95.3,158.1 L93.9,158.4 L92.5,158.7 L91.1,159 L89.6,159.3" stroke="#595959" stroke-width="7.00"/>
<path d="M91.1,159 L89.6,159.3 L88.2,159.6 L86.7,159.8 L85.3,160" stroke="#595959" stroke-width="7.00"/>
<path d="M86.7,159.8 L85.3,160 L83.8,160.2 L82.4,160.4 L80.9,160.5" stroke="#585858" stroke-width="7.00"/>
<path d="M82.4,160.4 L80.9,160.5 L79.5,160.6 L78,160.7 L76.5,160.8" stroke="#545454" stroke-width="7.00"/>
<path d="M78,160.7 L76.5,160.8 L75.1,160.8 L73.6,160.8" stroke="#505050" stroke-width="7.00"/>
<path d="M-34.4,12.5 L-33.1,13.2 L-31.9,13.9 L-30.7,14.6 L-29.4,15.4" stroke="#434343" stroke-width="7.00"/>
<path d="M-30.7,14.6 L-29.4,15.4 L-28.2,16.2 L-27,17 L-25.8,17.8" stroke="#424242" stroke-width="7.00"/>
<path d="M-27,17 L-25.8,17.8 L-24.7,18.6 L-23.5,19.5 L-22.4,20.4" stroke="#414141" stroke-width="7.00"/>
<path d="M-23.5,19.5 L-22.4,20.4 L-21.3,21.3 L-20.2,22.2 L-19.1,23.1" stroke="#404040" stroke-width="7.00"/>
<path d="M-20.2,22.2 L-19.1,23.1 L-18,24.1 L-17,25 L-16,26" stroke="#404040" stroke-width="7.00"/>
<path d="M-17,25 L-16,26 L-15,27 L-14,28 L-13,29.1" stroke="#404040" stroke-width="7.00"/>
<path d="M-14,28 L-13,29.1 L-12.1,30.1 L-11.1,31.2 L-10.2,32.3" stroke="#404040" stroke-width="7.00"/>
<path d="M-11.1,31.2 L-10.2,32.3 L-9.3,33.4 L-8.4,34.5 L-7.6,35.6" stroke="#404040" stroke-width="7.00"/>
<path d="M-8.4,34.5 L-7.6,35.6 L-6.8,36.7 L-6,37.9 L-5.2,39" stroke="#404040" stroke-width="7.00"/>
<path d="M-6,37.9 L-5.2,39 L-4.4,40.2 L-3.7,41.4 L-2.9,42.6" stroke="#404040" stroke-width="7.00"/>
<path d="M-3.7,41.4 L-2.9,42.6 L-2.2,43.8 L-1.6,45 L-0.9,46.3" stroke="#3f3f3f" stroke-width="7.00"/>
<path d="M-1.6,45 L-0.9,46.3 L-0.3,47.5 L0.3,48.8 L0.9,50" stroke="#3f3f3f" stroke-width="7.00"/>
<path d="M0.3,48.8 L0.9,50 L1.5,51.3 L2,52.6 L2.5,53.9" stroke="#3f3f3f" stroke-width="7.00"/>
<path d="M2,52.6 L2.5,53.9 L3,55.1 L3.5,56.4 L3.9,57.7" stroke="#3f3f3f" stroke-width="7.00"/>
<path d="M3.5,56.4 L3.9,57.7 L4.3,59 L4.7,60.3 L5.1,61.6" stroke="#3f3f3f" stroke-width="7.00"/>
<path d="M4.7,60.3 L5.1,61.6 L5.4,62.9 L5.8,64.3 L6.1,65.6" stroke="#3f3f3f" stroke-width="7.00"/>
<path d="M5.8,64.3 L6.1,65.6 L6.3,66.9 L6.6,68.3 L6.8,69.6" stroke="#3f3f3f" stroke-width="7.00"/>
<path d="M6.6,68.3 L6.8,69.6 L7,71 L7.1,72.3 L7.3,73.7" stroke="#3f3f3f" stroke-width="7.00"/>
<path d="M7.1,72.3 L7.3,73.7 L7.4,75.1 L7.5,76.5 L7.5,77.8" stroke="#3f3f3f" stroke-width="7.00"/>
<path d="M7.5,76.5 L7.5,77.8 L7.6,79.2 L7.6,80.6 L7.6,82" stroke="#3f3f3f" stroke-width="7.00"/>
<path d="M7.6,80.6 L7.6,82 L7.5,83.4 L7.5,84.8 L7.4,86.2" stroke="#404040" stroke-width="7.00"/>
<path d="M7.5,84.8 L7.4,86.2 L7.3,87.6 L7.1,89 L7,90.4" stroke="#404040" stroke-width="7.00"/>
<path d="M7.1,89 L7,90.4 L6.8,91.8 L6.6,93.1 L6.3,94.5" stroke="#404040" stroke-width="7.00"/>
<path d="M6.6,93.1 L6.3,94.5 L6.1,95.9 L5.8,97.3 L5.4,98.6" stroke="#404040" stroke-width="7.00"/>
<path d="M5.8,97.3 L5.4,98.6 L5.1,100 L4.7,101.4 L4.3,102.7" stroke="#404040" stroke-width="7.00"/>
<path d="M4.7,101.4 L4.3,102.7 L3.9,104 L3.5,105.4 L3,106.7" stroke="#404040" stroke-width="7.00"/>
<path d="M3.5,105.4 L3,106.7 L2.5,108 L2,109.3 L1.5,110.6" stroke="#404040" stroke-width="7.00"/>
<path d="M2,109.3 L1.5,110.6 L0.9,111.9 L0.3,113.2 L-0.3,114.5" stroke="#404040" stroke-width="7.00"/>
<path d="M0.3,113.2 L-0.3,114.5 L-0.9,115.8 L-1.6,117 L-2.2,118.3" stroke="#414141" stroke-width="7.00"/>
<path d="M-1.6,117 L-2.2,118.3 L-2.9,119.5 L-3.7,120.7 L-4.4,121.9" stroke="#424242" stroke-width="7.00"/>
<path d="M-3.7,120.7 L-4.4,121.9 L-5.2,123.1 L-6,124.3 L-6.8,125.4" stroke="#434343" stroke-width="7.00"/>
<path d="M-6,124.3 L-6.8,125.4 L-7.6,126.6 L-8.4,127.7 L-9.3,128.9" stroke="#454545" stroke-width="7.00"/>
<path d="M-8.4,127.7 L-9.3,128.9 L-10.2,130 L-11.1,131.1 L-12.1,132.2" stroke="#464646" stroke-width="7.00"/>
<path d="M-11.1,131.1 L-12.1,132.2 L-13,133.2 L-14,134.3 L-15,135.3" stroke="#484848" stroke-width="7.00"/>
<path d="M-14,134.3 L-15,135.3 L-16,136.3 L-17,137.3 L-18,138.3" stroke="#4b4b4b" stroke-width="7.00"/>
<path d="M-17,137.3 L-18,138.3 L-19.1,139.3 L-20.2,140.2 L-21.3,141.1" stroke="#4d4d4d" stroke-width="7.00"/>
<path d="M-20.2,140.2 L-21.3,141.1 L-22.4,142 L-23.5,142.9 L-24.7,143.8" stroke="#4f4f4f" stroke-width="7.00"/>
<path d="M-23.5,142.9 L-24.7,143.8 L-25.8,144.7 L-27,145.5 L-28.2,146.3" stroke="#515151" stroke-width="7.00"/>
<path d="M-27,145.5 L-28.2,146.3 L-29.4,147.1 L-30.7,147.9 L-31.9,148.6" stroke="#535353" stroke-width="7.00"/>
</g>
<g filter="url(#b12)" fill="none" stroke-linecap="round" stroke-linejoin="round">
<path d="M73.6,1.9 L75.1,1.9 L76.5,1.9 L78,2 L79.5,2.1" stroke="#323232" stroke-width="4.08"/>
<path d="M78,2 L79.5,2.1 L80.9,2.2 L82.4,2.3 L83.8,2.5" stroke="#373737" stroke-width="4.08"/>
<path d="M82.4,2.3 L83.8,2.5 L85.3,2.7 L86.7,2.9 L88.2,3.1" stroke="#3c3c3c" stroke-width="4.08"/>
<path d="M86.7,2.9 L88.2,3.1 L89.6,3.4 L91.1,3.6 L92.5,3.9" stroke="#444444" stroke-width="4.08"/>
<path d="M91.1,3.6 L92.5,3.9 L93.9,4.2 L95.3,4.6 L96.8,5" stroke="#4d4d4d" stroke-width="4.08"/>
<path d="M95.3,4.6 L96.8,5 L98.2,5.4 L99.6,5.8 L100.9,6.2" stroke="#565656" stroke-width="4.08"/>
<path d="M99.6,5.8 L100.9,6.2 L102.3,6.7 L103.7,7.1 L105.1,7.7" stroke="#5b5b5b" stroke-width="4.08"/>
<path d="M103.7,7.1 L105.1,7.7 L106.4,8.2 L107.8,8.7 L109.1,9.3" stroke="#5b5b5b" stroke-width="4.08"/>
<path d="M107.8,8.7 L109.1,9.3 L110.4,9.9 L111.7,10.5 L113,11.1" stroke="#5c5c5c" stroke-width="4.08"/>
<path d="M111.7,10.5 L113,11.1 L114.3,11.8 L115.6,12.5 L116.9,13.2" stroke="#5c5c5c" stroke-width="4.08"/>
<path d="M115.6,12.5 L116.9,13.2 L118.1,13.9 L119.3,14.6 L120.6,15.4" stroke="#5a5a5a" stroke-width="4.08"/>
<path d="M119.3,14.6 L120.6,15.4 L121.8,16.2 L123,17 L124.2,17.8" stroke="#575757" stroke-width="4.07"/>
<path d="M123,17 L124.2,17.8 L125.3,18.6 L126.5,19.5 L127.6,20.4" stroke="#555555" stroke-width="4.01"/>
<path d="M126.5,19.5 L127.6,20.4 L128.7,21.3 L129.8,22.2 L130.9,23.1" stroke="#535353" stroke-width="3.93"/>
<path d="M129.8,22.2 L130.9,23.1 L132,24.1 L133,25 L134,26" stroke="#535353" stroke-width="3.85"/>
<path d="M133,25 L134,26 L135,27 L136,28 L137,29.1" stroke="#525252" stroke-width="3.77"/>
<path d="M136,28 L137,29.1 L137.9,30.1 L138.9,31.2 L139.8,32.3" stroke="#525252" stroke-width="3.69"/>
<path d="M138.9,31.2 L139.8,32.3 L140.7,33.4 L141.6,34.5 L142.4,35.6" stroke="#525252" stroke-width="3.60"/>
<path d="M141.6,34.5 L142.4,35.6 L143.2,36.7 L144,37.9 L144.8,39" stroke="#525252" stroke-width="3.52"/>
<path d="M144,37.9 L144.8,39 L145.6,40.2 L146.3,41.4 L147.1,42.6" stroke="#515151" stroke-width="3.44"/>
<path d="M146.3,41.4 L147.1,42.6 L147.8,43.8 L148.4,45 L149.1,46.3" stroke="#515151" stroke-width="3.40"/>
<path d="M148.4,45 L149.1,46.3 L149.7,47.5 L150.3,48.8 L150.9,50" stroke="#515151" stroke-width="3.40"/>
<path d="M150.3,48.8 L150.9,50 L151.5,51.3 L152,52.6 L152.5,53.9" stroke="#515151" stroke-width="3.40"/>
<path d="M152,52.6 L152.5,53.9 L153,55.1 L153.5,56.4 L153.9,57.7" stroke="#515151" stroke-width="3.40"/>
<path d="M153.5,56.4 L153.9,57.7 L154.3,59 L154.7,60.3 L155.1,61.6" stroke="#515151" stroke-width="3.40"/>
<path d="M154.7,60.3 L155.1,61.6 L155.4,62.9 L155.8,64.3 L156.1,65.6" stroke="#515151" stroke-width="3.40"/>
<path d="M155.8,64.3 L156.1,65.6 L156.3,66.9 L156.6,68.3 L156.8,69.6" stroke="#515151" stroke-width="3.40"/>
<path d="M156.6,68.3 L156.8,69.6 L157,71 L157.1,72.3 L157.3,73.7" stroke="#515151" stroke-width="3.40"/>
<path d="M157.1,72.3 L157.3,73.7 L157.4,75.1 L157.5,76.5 L157.5,77.8" stroke="#515151" stroke-width="3.40"/>
<path d="M157.5,76.5 L157.5,77.8 L157.6,79.2 L157.6,80.6 L157.6,82" stroke="#515151" stroke-width="3.40"/>
<path d="M157.6,80.6 L157.6,82 L157.5,83.4 L157.5,84.8 L157.4,86.2" stroke="#515151" stroke-width="3.40"/>
<path d="M157.5,84.8 L157.4,86.2 L157.3,87.6 L157.1,89 L157,90.4" stroke="#515151" stroke-width="3.40"/>
<path d="M157.1,89 L157,90.4 L156.8,91.8 L156.6,93.1 L156.3,94.5" stroke="#525252" stroke-width="3.40"/>
<path d="M156.6,93.1 L156.3,94.5 L156.1,95.9 L155.8,97.3 L155.4,98.6" stroke="#525252" stroke-width="3.40"/>
<path d="M155.8,97.3 L155.4,98.6 L155.1,100 L154.7,101.4 L154.3,102.7" stroke="#525252" stroke-width="3.40"/>
<path d="M154.7,101.4 L154.3,102.7 L153.9,104 L153.5,105.4 L153,106.7" stroke="#525252" stroke-width="3.40"/>
<path d="M153.5,105.4 L153,106.7 L152.5,108 L152,109.3 L151.5,110.6" stroke="#535353" stroke-width="3.40"/>
<path d="M152,109.3 L151.5,110.6 L150.9,111.9 L150.3,113.2 L149.7,114.5" stroke="#535353" stroke-width="3.40"/>
<path d="M150.3,113.2 L149.7,114.5 L149.1,115.8 L148.4,117 L147.8,118.3" stroke="#545454" stroke-width="3.40"/>
<path d="M148.4,117 L147.8,118.3 L147.1,119.5 L146.3,120.7 L145.6,121.9" stroke="#575757" stroke-width="3.40"/>
<path d="M146.3,120.7 L145.6,121.9 L144.8,123.1 L144,124.3 L143.2,125.4" stroke="#5a5a5a" stroke-width="3.40"/>
<path d="M144,124.3 L143.2,125.4 L142.4,126.6 L141.6,127.7 L140.7,128.9" stroke="#5e5e5e" stroke-width="3.40"/>
<path d="M141.6,127.7 L140.7,128.9 L139.8,130 L138.9,131.1 L137.9,132.2" stroke="#626262" stroke-width="3.40"/>
<path d="M138.9,131.1 L137.9,132.2 L137,133.2 L136,134.3 L135,135.3" stroke="#676767" stroke-width="3.40"/>
<path d="M136,134.3 L135,135.3 L134,136.3 L133,137.3 L132,138.3" stroke="#6d6d6d" stroke-width="3.40"/>
<path d="M133,137.3 L132,138.3 L130.9,139.3 L129.8,140.2 L128.7,141.1" stroke="#727272" stroke-width="3.40"/>
<path d="M129.8,140.2 L128.7,141.1 L127.6,142 L126.5,142.9 L125.3,143.8" stroke="#787878" stroke-width="3.40"/>
<path d="M126.5,142.9 L125.3,143.8 L124.2,144.7 L123,145.5 L121.8,146.3" stroke="#7d7d7d" stroke-width="3.40"/>
<path d="M123,145.5 L121.8,146.3 L120.6,147.1 L119.3,147.9 L118.1,148.6" stroke="#818181" stroke-width="3.40"/>
<path d="M119.3,147.9 L118.1,148.6 L116.9,149.3 L115.6,150.1 L114.3,150.7" stroke="#868686" stroke-width="3.40"/>
<path d="M115.6,150.1 L114.3,150.7 L113,151.4 L111.7,152.1 L110.4,152.7" stroke="#898989" stroke-width="3.40"/>
<path d="M111.7,152.1 L110.4,152.7 L109.1,153.3 L107.8,153.9 L106.4,154.4" stroke="#8b8b8b" stroke-width="3.40"/>
<path d="M107.8,153.9 L106.4,154.4 L105.1,155 L103.7,155.5 L102.3,156" stroke="#8e8e8e" stroke-width="3.40"/>
<path d="M103.7,155.5 L102.3,156 L100.9,156.4 L99.6,156.9 L98.2,157.3" stroke="#8f8f8f" stroke-width="3.40"/>
<path d="M99.6,156.9 L98.2,157.3 L96.8,157.7 L95.3,158.1 L93.9,158.4" stroke="#8f8f8f" stroke-width="3.40"/>
<path d="M95.3,158.1 L93.9,158.4 L92.5,158.7 L91.1,159 L89.6,159.3" stroke="#8f8f8f" stroke-width="3.40"/>
<path d="M91.1,159 L89.6,159.3 L88.2,159.6 L86.7,159.8 L85.3,160" stroke="#8f8f8f" stroke-width="3.40"/>
<path d="M86.7,159.8 L85.3,160 L83.8,160.2 L82.4,160.4 L80.9,160.5" stroke="#8d8d8d" stroke-width="3.40"/>
<path d="M82.4,160.4 L80.9,160.5 L79.5,160.6 L78,160.7 L76.5,160.8" stroke="#848484" stroke-width="3.40"/>
<path d="M78,160.7 L76.5,160.8 L75.1,160.8 L73.6,160.8" stroke="#7a7a7a" stroke-width="3.40"/>
<path d="M-34.4,12.5 L-33.1,13.2 L-31.9,13.9 L-30.7,14.6 L-29.4,15.4" stroke="#5a5a5a" stroke-width="4.08"/>
<path d="M-30.7,14.6 L-29.4,15.4 L-28.2,16.2 L-27,17 L-25.8,17.8" stroke="#575757" stroke-width="4.07"/>
<path d="M-27,17 L-25.8,17.8 L-24.7,18.6 L-23.5,19.5 L-22.4,20.4" stroke="#555555" stroke-width="4.01"/>
<path d="M-23.5,19.5 L-22.4,20.4 L-21.3,21.3 L-20.2,22.2 L-19.1,23.1" stroke="#535353" stroke-width="3.93"/>
<path d="M-20.2,22.2 L-19.1,23.1 L-18,24.1 L-17,25 L-16,26" stroke="#535353" stroke-width="3.85"/>
<path d="M-17,25 L-16,26 L-15,27 L-14,28 L-13,29.1" stroke="#525252" stroke-width="3.77"/>
<path d="M-14,28 L-13,29.1 L-12.1,30.1 L-11.1,31.2 L-10.2,32.3" stroke="#525252" stroke-width="3.69"/>
<path d="M-11.1,31.2 L-10.2,32.3 L-9.3,33.4 L-8.4,34.5 L-7.6,35.6" stroke="#525252" stroke-width="3.60"/>
<path d="M-8.4,34.5 L-7.6,35.6 L-6.8,36.7 L-6,37.9 L-5.2,39" stroke="#525252" stroke-width="3.52"/>
<path d="M-6,37.9 L-5.2,39 L-4.4,40.2 L-3.7,41.4 L-2.9,42.6" stroke="#515151" stroke-width="3.44"/>
<path d="M-3.7,41.4 L-2.9,42.6 L-2.2,43.8 L-1.6,45 L-0.9,46.3" stroke="#515151" stroke-width="3.40"/>
<path d="M-1.6,45 L-0.9,46.3 L-0.3,47.5 L0.3,48.8 L0.9,50" stroke="#515151" stroke-width="3.40"/>
<path d="M0.3,48.8 L0.9,50 L1.5,51.3 L2,52.6 L2.5,53.9" stroke="#515151" stroke-width="3.40"/>
<path d="M2,52.6 L2.5,53.9 L3,55.1 L3.5,56.4 L3.9,57.7" stroke="#515151" stroke-width="3.40"/>
<path d="M3.5,56.4 L3.9,57.7 L4.3,59 L4.7,60.3 L5.1,61.6" stroke="#515151" stroke-width="3.40"/>
<path d="M4.7,60.3 L5.1,61.6 L5.4,62.9 L5.8,64.3 L6.1,65.6" stroke="#515151" stroke-width="3.40"/>
<path d="M5.8,64.3 L6.1,65.6 L6.3,66.9 L6.6,68.3 L6.8,69.6" stroke="#515151" stroke-width="3.40"/>
<path d="M6.6,68.3 L6.8,69.6 L7,71 L7.1,72.3 L7.3,73.7" stroke="#515151" stroke-width="3.40"/>
<path d="M7.1,72.3 L7.3,73.7 L7.4,75.1 L7.5,76.5 L7.5,77.8" stroke="#515151" stroke-width="3.40"/>
<path d="M7.5,76.5 L7.5,77.8 L7.6,79.2 L7.6,80.6 L7.6,82" stroke="#515151" stroke-width="3.40"/>
<path d="M7.6,80.6 L7.6,82 L7.5,83.4 L7.5,84.8 L7.4,86.2" stroke="#515151" stroke-width="3.40"/>
<path d="M7.5,84.8 L7.4,86.2 L7.3,87.6 L7.1,89 L7,90.4" stroke="#515151" stroke-width="3.40"/>
<path d="M7.1,89 L7,90.4 L6.8,91.8 L6.6,93.1 L6.3,94.5" stroke="#525252" stroke-width="3.40"/>
<path d="M6.6,93.1 L6.3,94.5 L6.1,95.9 L5.8,97.3 L5.4,98.6" stroke="#525252" stroke-width="3.40"/>
<path d="M5.8,97.3 L5.4,98.6 L5.1,100 L4.7,101.4 L4.3,102.7" stroke="#525252" stroke-width="3.40"/>
<path d="M4.7,101.4 L4.3,102.7 L3.9,104 L3.5,105.4 L3,106.7" stroke="#525252" stroke-width="3.40"/>
<path d="M3.5,105.4 L3,106.7 L2.5,108 L2,109.3 L1.5,110.6" stroke="#535353" stroke-width="3.40"/>
<path d="M2,109.3 L1.5,110.6 L0.9,111.9 L0.3,113.2 L-0.3,114.5" stroke="#535353" stroke-width="3.40"/>
<path d="M0.3,113.2 L-0.3,114.5 L-0.9,115.8 L-1.6,117 L-2.2,118.3" stroke="#545454" stroke-width="3.40"/>
<path d="M-1.6,117 L-2.2,118.3 L-2.9,119.5 L-3.7,120.7 L-4.4,121.9" stroke="#575757" stroke-width="3.40"/>
<path d="M-3.7,120.7 L-4.4,121.9 L-5.2,123.1 L-6,124.3 L-6.8,125.4" stroke="#5a5a5a" stroke-width="3.40"/>
<path d="M-6,124.3 L-6.8,125.4 L-7.6,126.6 L-8.4,127.7 L-9.3,128.9" stroke="#5e5e5e" stroke-width="3.40"/>
<path d="M-8.4,127.7 L-9.3,128.9 L-10.2,130 L-11.1,131.1 L-12.1,132.2" stroke="#626262" stroke-width="3.40"/>
<path d="M-11.1,131.1 L-12.1,132.2 L-13,133.2 L-14,134.3 L-15,135.3" stroke="#676767" stroke-width="3.40"/>
<path d="M-14,134.3 L-15,135.3 L-16,136.3 L-17,137.3 L-18,138.3" stroke="#6d6d6d" stroke-width="3.40"/>
<path d="M-17,137.3 L-18,138.3 L-19.1,139.3 L-20.2,140.2 L-21.3,141.1" stroke="#727272" stroke-width="3.40"/>
<path d="M-20.2,140.2 L-21.3,141.1 L-22.4,142 L-23.5,142.9 L-24.7,143.8" stroke="#787878" stroke-width="3.40"/>
<path d="M-23.5,142.9 L-24.7,143.8 L-25.8,144.7 L-27,145.5 L-28.2,146.3" stroke="#7d7d7d" stroke-width="3.40"/>
<path d="M-27,145.5 L-28.2,146.3 L-29.4,147.1 L-30.7,147.9 L-31.9,148.6" stroke="#818181" stroke-width="3.40"/>
</g>
<g filter="url(#b07)" fill="none" stroke-linecap="round" stroke-linejoin="round">
<path d="M73.6,1.9 L75.1,1.9 L76.5,1.9 L78,2 L79.5,2.1" stroke="#434343" stroke-width="1.56"/>
<path d="M78,2 L79.5,2.1 L80.9,2.2 L82.4,2.3 L83.8,2.5" stroke="#4a4a4a" stroke-width="1.56"/>
<path d="M82.4,2.3 L83.8,2.5 L85.3,2.7 L86.7,2.9 L88.2,3.1" stroke="#515151" stroke-width="1.56"/>
<path d="M86.7,2.9 L88.2,3.1 L89.6,3.4 L91.1,3.6 L92.5,3.9" stroke="#5c5c5c" stroke-width="1.56"/>
<path d="M91.1,3.6 L92.5,3.9 L93.9,4.2 L95.3,4.6 L96.8,5" stroke="#686868" stroke-width="1.56"/>
<path d="M95.3,4.6 L96.8,5 L98.2,5.4 L99.6,5.8 L100.9,6.2" stroke="#747474" stroke-width="1.56"/>
<path d="M99.6,5.8 L100.9,6.2 L102.3,6.7 L103.7,7.1 L105.1,7.7" stroke="#7b7b7b" stroke-width="1.56"/>
<path d="M103.7,7.1 L105.1,7.7 L106.4,8.2 L107.8,8.7 L109.1,9.3" stroke="#7c7c7c" stroke-width="1.56"/>
<path d="M107.8,8.7 L109.1,9.3 L110.4,9.9 L111.7,10.5 L113,11.1" stroke="#7c7c7c" stroke-width="1.56"/>
<path d="M111.7,10.5 L113,11.1 L114.3,11.8 L115.6,12.5 L116.9,13.2" stroke="#7c7c7c" stroke-width="1.56"/>
<path d="M115.6,12.5 L116.9,13.2 L118.1,13.9 L119.3,14.6 L120.6,15.4" stroke="#797979" stroke-width="1.56"/>
<path d="M119.3,14.6 L120.6,15.4 L121.8,16.2 L123,17 L124.2,17.8" stroke="#767676" stroke-width="1.56"/>
<path d="M123,17 L124.2,17.8 L125.3,18.6 L126.5,19.5 L127.6,20.4" stroke="#737373" stroke-width="1.53"/>
<path d="M126.5,19.5 L127.6,20.4 L128.7,21.3 L129.8,22.2 L130.9,23.1" stroke="#707070" stroke-width="1.50"/>
<path d="M129.8,22.2 L130.9,23.1 L132,24.1 L133,25 L134,26" stroke="#707070" stroke-width="1.47"/>
<path d="M133,25 L134,26 L135,27 L136,28 L137,29.1" stroke="#6f6f6f" stroke-width="1.44"/>
<path d="M136,28 L137,29.1 L137.9,30.1 L138.9,31.2 L139.8,32.3" stroke="#6f6f6f" stroke-width="1.41"/>
<path d="M138.9,31.2 L139.8,32.3 L140.7,33.4 L141.6,34.5 L142.4,35.6" stroke="#6f6f6f" stroke-width="1.38"/>
<path d="M141.6,34.5 L142.4,35.6 L143.2,36.7 L144,37.9 L144.8,39" stroke="#6e6e6e" stroke-width="1.35"/>
<path d="M144,37.9 L144.8,39 L145.6,40.2 L146.3,41.4 L147.1,42.6" stroke="#6e6e6e" stroke-width="1.32"/>
<path d="M146.3,41.4 L147.1,42.6 L147.8,43.8 L148.4,45 L149.1,46.3" stroke="#6e6e6e" stroke-width="1.30"/>
<path d="M148.4,45 L149.1,46.3 L149.7,47.5 L150.3,48.8 L150.9,50" stroke="#6e6e6e" stroke-width="1.30"/>
<path d="M150.3,48.8 L150.9,50 L151.5,51.3 L152,52.6 L152.5,53.9" stroke="#6e6e6e" stroke-width="1.30"/>
<path d="M152,52.6 L152.5,53.9 L153,55.1 L153.5,56.4 L153.9,57.7" stroke="#6e6e6e" stroke-width="1.30"/>
<path d="M153.5,56.4 L153.9,57.7 L154.3,59 L154.7,60.3 L155.1,61.6" stroke="#6e6e6e" stroke-width="1.30"/>
<path d="M154.7,60.3 L155.1,61.6 L155.4,62.9 L155.8,64.3 L156.1,65.6" stroke="#6e6e6e" stroke-width="1.30"/>
<path d="M155.8,64.3 L156.1,65.6 L156.3,66.9 L156.6,68.3 L156.8,69.6" stroke="#6e6e6e" stroke-width="1.30"/>
<path d="M156.6,68.3 L156.8,69.6 L157,71 L157.1,72.3 L157.3,73.7" stroke="#6e6e6e" stroke-width="1.30"/>
<path d="M157.1,72.3 L157.3,73.7 L157.4,75.1 L157.5,76.5 L157.5,77.8" stroke="#6e6e6e" stroke-width="1.30"/>
<path d="M157.5,76.5 L157.5,77.8 L157.6,79.2 L157.6,80.6 L157.6,82" stroke="#6e6e6e" stroke-width="1.30"/>
<path d="M157.6,80.6 L157.6,82 L157.5,83.4 L157.5,84.8 L157.4,86.2" stroke="#6e6e6e" stroke-width="1.30"/>
<path d="M157.5,84.8 L157.4,86.2 L157.3,87.6 L157.1,89 L157,90.4" stroke="#6e6e6e" stroke-width="1.30"/>
<path d="M157.1,89 L157,90.4 L156.8,91.8 L156.6,93.1 L156.3,94.5" stroke="#6e6e6e" stroke-width="1.30"/>
<path d="M156.6,93.1 L156.3,94.5 L156.1,95.9 L155.8,97.3 L155.4,98.6" stroke="#6f6f6f" stroke-width="1.30"/>
<path d="M155.8,97.3 L155.4,98.6 L155.1,100 L154.7,101.4 L154.3,102.7" stroke="#6f6f6f" stroke-width="1.30"/>
<path d="M154.7,101.4 L154.3,102.7 L153.9,104 L153.5,105.4 L153,106.7" stroke="#6f6f6f" stroke-width="1.30"/>
<path d="M153.5,105.4 L153,106.7 L152.5,108 L152,109.3 L151.5,110.6" stroke="#707070" stroke-width="1.30"/>
<path d="M152,109.3 L151.5,110.6 L150.9,111.9 L150.3,113.2 L149.7,114.5" stroke="#707070" stroke-width="1.30"/>
<path d="M150.3,113.2 L149.7,114.5 L149.1,115.8 L148.4,117 L147.8,118.3" stroke="#717171" stroke-width="1.30"/>
<path d="M148.4,117 L147.8,118.3 L147.1,119.5 L146.3,120.7 L145.6,121.9" stroke="#767676" stroke-width="1.30"/>
<path d="M146.3,120.7 L145.6,121.9 L144.8,123.1 L144,124.3 L143.2,125.4" stroke="#7a7a7a" stroke-width="1.30"/>
<path d="M144,124.3 L143.2,125.4 L142.4,126.6 L141.6,127.7 L140.7,128.9" stroke="#7f7f7f" stroke-width="1.30"/>
<path d="M141.6,127.7 L140.7,128.9 L139.8,130 L138.9,131.1 L137.9,132.2" stroke="#858585" stroke-width="1.30"/>
<path d="M138.9,131.1 L137.9,132.2 L137,133.2 L136,134.3 L135,135.3" stroke="#8c8c8c" stroke-width="1.30"/>
<path d="M136,134.3 L135,135.3 L134,136.3 L133,137.3 L132,138.3" stroke="#939393" stroke-width="1.30"/>
<path d="M133,137.3 L132,138.3 L130.9,139.3 L129.8,140.2 L128.7,141.1" stroke="#9a9a9a" stroke-width="1.30"/>
<path d="M129.8,140.2 L128.7,141.1 L127.6,142 L126.5,142.9 L125.3,143.8" stroke="#a2a2a2" stroke-width="1.30"/>
<path d="M126.5,142.9 L125.3,143.8 L124.2,144.7 L123,145.5 L121.8,146.3" stroke="#a8a8a8" stroke-width="1.30"/>
<path d="M123,145.5 L121.8,146.3 L120.6,147.1 L119.3,147.9 L118.1,148.6" stroke="#aeaeae" stroke-width="1.30"/>
<path d="M119.3,147.9 L118.1,148.6 L116.9,149.3 L115.6,150.1 L114.3,150.7" stroke="#b5b5b5" stroke-width="1.30"/>
<path d="M115.6,150.1 L114.3,150.7 L113,151.4 L111.7,152.1 L110.4,152.7" stroke="#b9b9b9" stroke-width="1.30"/>
<path d="M111.7,152.1 L110.4,152.7 L109.1,153.3 L107.8,153.9 L106.4,154.4" stroke="#bcbcbc" stroke-width="1.30"/>
<path d="M107.8,153.9 L106.4,154.4 L105.1,155 L103.7,155.5 L102.3,156" stroke="#bfbfbf" stroke-width="1.30"/>
<path d="M103.7,155.5 L102.3,156 L100.9,156.4 L99.6,156.9 L98.2,157.3" stroke="#c2c2c2" stroke-width="1.30"/>
<path d="M99.6,156.9 L98.2,157.3 L96.8,157.7 L95.3,158.1 L93.9,158.4" stroke="#c2c2c2" stroke-width="1.30"/>
<path d="M95.3,158.1 L93.9,158.4 L92.5,158.7 L91.1,159 L89.6,159.3" stroke="#c2c2c2" stroke-width="1.30"/>
<path d="M91.1,159 L89.6,159.3 L88.2,159.6 L86.7,159.8 L85.3,160" stroke="#c2c2c2" stroke-width="1.30"/>
<path d="M86.7,159.8 L85.3,160 L83.8,160.2 L82.4,160.4 L80.9,160.5" stroke="#bebebe" stroke-width="1.30"/>
<path d="M82.4,160.4 L80.9,160.5 L79.5,160.6 L78,160.7 L76.5,160.8" stroke="#b2b2b2" stroke-width="1.30"/>
<path d="M78,160.7 L76.5,160.8 L75.1,160.8 L73.6,160.8" stroke="#a5a5a5" stroke-width="1.30"/>
<path d="M-34.4,12.5 L-33.1,13.2 L-31.9,13.9 L-30.7,14.6 L-29.4,15.4" stroke="#797979" stroke-width="1.56"/>
<path d="M-30.7,14.6 L-29.4,15.4 L-28.2,16.2 L-27,17 L-25.8,17.8" stroke="#767676" stroke-width="1.56"/>
<path d="M-27,17 L-25.8,17.8 L-24.7,18.6 L-23.5,19.5 L-22.4,20.4" stroke="#737373" stroke-width="1.53"/>
<path d="M-23.5,19.5 L-22.4,20.4 L-21.3,21.3 L-20.2,22.2 L-19.1,23.1" stroke="#707070" stroke-width="1.50"/>
<path d="M-20.2,22.2 L-19.1,23.1 L-18,24.1 L-17,25 L-16,26" stroke="#707070" stroke-width="1.47"/>
<path d="M-17,25 L-16,26 L-15,27 L-14,28 L-13,29.1" stroke="#6f6f6f" stroke-width="1.44"/>
<path d="M-14,28 L-13,29.1 L-12.1,30.1 L-11.1,31.2 L-10.2,32.3" stroke="#6f6f6f" stroke-width="1.41"/>
<path d="M-11.1,31.2 L-10.2,32.3 L-9.3,33.4 L-8.4,34.5 L-7.6,35.6" stroke="#6f6f6f" stroke-width="1.38"/>
<path d="M-8.4,34.5 L-7.6,35.6 L-6.8,36.7 L-6,37.9 L-5.2,39" stroke="#6e6e6e" stroke-width="1.35"/>
<path d="M-6,37.9 L-5.2,39 L-4.4,40.2 L-3.7,41.4 L-2.9,42.6" stroke="#6e6e6e" stroke-width="1.32"/>
<path d="M-3.7,41.4 L-2.9,42.6 L-2.2,43.8 L-1.6,45 L-0.9,46.3" stroke="#6e6e6e" stroke-width="1.30"/>
<path d="M-1.6,45 L-0.9,46.3 L-0.3,47.5 L0.3,48.8 L0.9,50" stroke="#6e6e6e" stroke-width="1.30"/>
<path d="M0.3,48.8 L0.9,50 L1.5,51.3 L2,52.6 L2.5,53.9" stroke="#6e6e6e" stroke-width="1.30"/>
<path d="M2,52.6 L2.5,53.9 L3,55.1 L3.5,56.4 L3.9,57.7" stroke="#6e6e6e" stroke-width="1.30"/>
<path d="M3.5,56.4 L3.9,57.7 L4.3,59 L4.7,60.3 L5.1,61.6" stroke="#6e6e6e" stroke-width="1.30"/>
<path d="M4.7,60.3 L5.1,61.6 L5.4,62.9 L5.8,64.3 L6.1,65.6" stroke="#6e6e6e" stroke-width="1.30"/>
<path d="M5.8,64.3 L6.1,65.6 L6.3,66.9 L6.6,68.3 L6.8,69.6" stroke="#6e6e6e" stroke-width="1.30"/>
<path d="M6.6,68.3 L6.8,69.6 L7,71 L7.1,72.3 L7.3,73.7" stroke="#6e6e6e" stroke-width="1.30"/>
<path d="M7.1,72.3 L7.3,73.7 L7.4,75.1 L7.5,76.5 L7.5,77.8" stroke="#6e6e6e" stroke-width="1.30"/>
<path d="M7.5,76.5 L7.5,77.8 L7.6,79.2 L7.6,80.6 L7.6,82" stroke="#6e6e6e" stroke-width="1.30"/>
<path d="M7.6,80.6 L7.6,82 L7.5,83.4 L7.5,84.8 L7.4,86.2" stroke="#6e6e6e" stroke-width="1.30"/>
<path d="M7.5,84.8 L7.4,86.2 L7.3,87.6 L7.1,89 L7,90.4" stroke="#6e6e6e" stroke-width="1.30"/>
<path d="M7.1,89 L7,90.4 L6.8,91.8 L6.6,93.1 L6.3,94.5" stroke="#6e6e6e" stroke-width="1.30"/>
<path d="M6.6,93.1 L6.3,94.5 L6.1,95.9 L5.8,97.3 L5.4,98.6" stroke="#6f6f6f" stroke-width="1.30"/>
<path d="M5.8,97.3 L5.4,98.6 L5.1,100 L4.7,101.4 L4.3,102.7" stroke="#6f6f6f" stroke-width="1.30"/>
<path d="M4.7,101.4 L4.3,102.7 L3.9,104 L3.5,105.4 L3,106.7" stroke="#6f6f6f" stroke-width="1.30"/>
<path d="M3.5,105.4 L3,106.7 L2.5,108 L2,109.3 L1.5,110.6" stroke="#707070" stroke-width="1.30"/>
<path d="M2,109.3 L1.5,110.6 L0.9,111.9 L0.3,113.2 L-0.3,114.5" stroke="#707070" stroke-width="1.30"/>
<path d="M0.3,113.2 L-0.3,114.5 L-0.9,115.8 L-1.6,117 L-2.2,118.3" stroke="#717171" stroke-width="1.30"/>
<path d="M-1.6,117 L-2.2,118.3 L-2.9,119.5 L-3.7,120.7 L-4.4,121.9" stroke="#767676" stroke-width="1.30"/>
<path d="M-3.7,120.7 L-4.4,121.9 L-5.2,123.1 L-6,124.3 L-6.8,125.4" stroke="#7a7a7a" stroke-width="1.30"/>
<path d="M-6,124.3 L-6.8,125.4 L-7.6,126.6 L-8.4,127.7 L-9.3,128.9" stroke="#7f7f7f" stroke-width="1.30"/>
<path d="M-8.4,127.7 L-9.3,128.9 L-10.2,130 L-11.1,131.1 L-12.1,132.2" stroke="#858585" stroke-width="1.30"/>
<path d="M-11.1,131.1 L-12.1,132.2 L-13,133.2 L-14,134.3 L-15,135.3" stroke="#8c8c8c" stroke-width="1.30"/>
<path d="M-14,134.3 L-15,135.3 L-16,136.3 L-17,137.3 L-18,138.3" stroke="#939393" stroke-width="1.30"/>
<path d="M-17,137.3 L-18,138.3 L-19.1,139.3 L-20.2,140.2 L-21.3,141.1" stroke="#9a9a9a" stroke-width="1.30"/>
<path d="M-20.2,140.2 L-21.3,141.1 L-22.4,142 L-23.5,142.9 L-24.7,143.8" stroke="#a2a2a2" stroke-width="1.30"/>
<path d="M-23.5,142.9 L-24.7,143.8 L-25.8,144.7 L-27,145.5 L-28.2,146.3" stroke="#a8a8a8" stroke-width="1.30"/>
<path d="M-27,145.5 L-28.2,146.3 L-29.4,147.1 L-30.7,147.9 L-31.9,148.6" stroke="#aeaeae" stroke-width="1.30"/>
</g>
</g></g>
<rect x="0.5" y="0.5" width="149" height="163" fill="none" stroke="#262626" stroke-width="0.85"/>
<path d="M0.5,163 v-1.6 M0.5,1 v1.6 M75,163 v-1.6 M75,1 v1.6 M149.5,163 v-1.6 M149.5,1 v1.6 M1,10.3 h1.6 M149,10.3 h-1.6 M1,46.5 h1.6 M149,46.5 h-1.6 M1,82.6 h1.6 M149,82.6 h-1.6 M1,118.7 h1.6 M149,118.7 h-1.6 M1,154.8 h1.6 M149,154.8 h-1.6" stroke="#262626" stroke-width="1" fill="none"/>
<text x="0.5" y="182" font-size="13" text-anchor="middle">-1</text>
<text x="75" y="182" font-size="13" text-anchor="middle">0</text>
<text x="149.5" y="182" font-size="13" text-anchor="middle">1</text>
<text x="-4.5" y="15.2" font-size="13" text-anchor="end">-1</text>
<text x="-4.5" y="51.4" font-size="13" text-anchor="end">-0.5</text>
<text x="-4.5" y="87.5" font-size="13" text-anchor="end">0</text>
<text x="-4.5" y="123.6" font-size="13" text-anchor="end">0.5</text>
<text x="-4.5" y="159.8" font-size="13" text-anchor="end">1</text>
<text x="74.5" y="202.8" font-size="14.3" text-anchor="middle">2fd/fr</text>
<text transform="translate(-34.2,81.6) rotate(-90)" font-size="14.3" text-anchor="middle">cos(<tspan font-family="Liberation Serif, serif" font-style="italic" font-weight="bold" font-size="16" dx="0.3">ψ</tspan><tspan dx="0.3">)</tspan></text>
</g>
<rect x="501.5" y="14.5" width="16" height="164" fill="url(#cbg)" stroke="#262626" stroke-width="0.85"/>
<text x="522.3" y="19.8" font-size="13">0</text>
<text x="522.3" y="48.1" font-size="13">-10</text>
<text x="522.3" y="76.4" font-size="13">-20</text>
<text x="522.3" y="104.6" font-size="13">-30</text>
<text x="522.3" y="132.9" font-size="13">-40</text>
<text x="522.3" y="161.2" font-size="13">-50</text>
<path d="M517,42.8 h-1.6 M517,71.1 h-1.6 M517,99.3 h-1.6 M517,127.6 h-1.6 M517,155.9 h-1.6" stroke="#262626" stroke-width="1" fill="none"/>
<g transform="translate(57,242)">
<g clip-path="url(#cp)"><g filter="url(#parula)">
<rect x="-5" y="-5" width="160" height="174" fill="#030303"/>
<g filter="url(#b3)"><ellipse cx="0" cy="162" rx="16" ry="4" fill="#383838"/><ellipse cx="150" cy="162" rx="10" ry="4" fill="#4c4c4c"/></g>
<g filter="url(#b4)" fill="none" stroke-linecap="round" stroke-linejoin="round">
<path d="M144.1,162.7 L143,162.7 L141.9,162.6 L140.8,162.6 L139.7,162.6" stroke="#272727" stroke-width="14.00"/>
<path d="M140.8,162.6 L139.7,162.6 L138.5,162.5 L137.4,162.4 L136.2,162.3" stroke="#282828" stroke-width="14.00"/>
<path d="M137.4,162.4 L136.2,162.3 L135,162.2 L133.9,162.1 L132.7,162" stroke="#292929" stroke-width="14.00"/>
<path d="M133.9,162.1 L132.7,162 L131.5,161.8 L130.3,161.7 L129.1,161.5" stroke="#2a2a2a" stroke-width="14.10"/>
<path d="M130.3,161.7 L129.1,161.5 L127.8,161.3 L126.6,161.1 L125.4,160.9" stroke="#2c2c2c" stroke-width="14.41"/>
<path d="M126.6,161.1 L125.4,160.9 L124.1,160.7 L122.9,160.4 L121.6,160.2" stroke="#2d2d2d" stroke-width="14.75"/>
<path d="M122.9,160.4 L121.6,160.2 L120.4,159.9 L119.1,159.6 L117.8,159.4" stroke="#2f2f2f" stroke-width="15.10"/>
<path d="M119.1,159.6 L117.8,159.4 L116.5,159 L115.2,158.7 L113.9,158.4" stroke="#313131" stroke-width="15.50"/>
<path d="M115.2,158.7 L113.9,158.4 L112.6,158.1 L111.3,157.7 L110,157.3" stroke="#323232" stroke-width="16.03"/>
<path d="M111.3,157.7 L110,157.3 L108.7,156.9 L107.3,156.5 L106,156.1" stroke="#333333" stroke-width="16.58"/>
<path d="M107.3,156.5 L106,156.1 L104.7,155.7 L103.3,155.3 L102,154.8" stroke="#333333" stroke-width="17.13"/>
<path d="M103.3,155.3 L102,154.8 L100.6,154.4 L99.3,153.9 L97.9,153.4" stroke="#333333" stroke-width="17.37"/>
<path d="M99.3,153.9 L97.9,153.4 L96.5,152.9 L95.2,152.4 L93.8,151.9" stroke="#333333" stroke-width="17.12"/>
<path d="M95.2,152.4 L93.8,151.9 L92.4,151.4 L91.1,150.8 L89.7,150.3" stroke="#333333" stroke-width="16.83"/>
<path d="M91.1,150.8 L89.7,150.3 L88.3,149.7 L86.9,149.1 L85.6,148.5" stroke="#333333" stroke-width="16.55"/>
<path d="M86.9,149.1 L85.6,148.5 L84.2,147.9 L82.8,147.3 L81.4,146.7" stroke="#333333" stroke-width="16.26"/>
<path d="M82.8,147.3 L81.4,146.7 L80,146.1 L78.7,145.4 L77.3,144.8" stroke="#333333" stroke-width="15.07"/>
<path d="M78.7,145.4 L77.3,144.8 L75.9,144.1 L74.5,143.4 L73.1,142.7" stroke="#323232" stroke-width="12.85"/>
<path d="M74.5,143.4 L73.1,142.7 L71.8,142 L70.4,141.3 L69,140.6" stroke="#2b2b2b" stroke-width="13.43"/>
<path d="M70.4,141.3 L69,140.6 L67.6,139.9 L66.3,139.1 L64.9,138.4" stroke="#282828" stroke-width="14.00"/>
<path d="M66.3,139.1 L64.9,138.4 L63.5,137.6 L62.2,136.9 L60.8,136.1" stroke="#272727" stroke-width="14.00"/>
<path d="M62.2,136.9 L60.8,136.1 L59.4,135.3 L58.1,134.5 L56.7,133.7" stroke="#262626" stroke-width="14.00"/>
<path d="M58.1,134.5 L56.7,133.7 L55.4,132.9 L54,132.1 L52.7,131.3" stroke="#262626" stroke-width="14.00"/>
<path d="M54,132.1 L52.7,131.3 L51.3,130.4 L50,129.6 L48.7,128.7" stroke="#262626" stroke-width="14.00"/>
<path d="M50,129.6 L48.7,128.7 L47.4,127.9 L46,127 L44.7,126.1" stroke="#252525" stroke-width="14.00"/>
<path d="M46,127 L44.7,126.1 L43.4,125.2 L42.1,124.3 L40.8,123.4" stroke="#252525" stroke-width="14.00"/>
<path d="M42.1,124.3 L40.8,123.4 L39.6,122.5 L38.3,121.6 L37,120.7" stroke="#252525" stroke-width="14.00"/>
<path d="M38.3,121.6 L37,120.7 L35.7,119.8 L34.5,118.8 L33.2,117.9" stroke="#252525" stroke-width="14.00"/>
<path d="M34.5,118.8 L33.2,117.9 L32,117 L30.7,116 L29.5,115.1" stroke="#252525" stroke-width="14.00"/>
<path d="M30.7,116 L29.5,115.1 L28.3,114.1 L27.1,113.1 L25.9,112.2" stroke="#252525" stroke-width="14.00"/>
<path d="M27.1,113.1 L25.9,112.2 L24.7,111.2 L23.5,110.2 L22.3,109.2" stroke="#252525" stroke-width="14.00"/>
<path d="M23.5,110.2 L22.3,109.2 L21.2,108.2 L20,107.2 L18.9,106.2" stroke="#242424" stroke-width="14.00"/>
<path d="M20,107.2 L18.9,106.2 L17.7,105.2 L16.6,104.2 L15.5,103.2" stroke="#242424" stroke-width="14.00"/>
<path d="M16.6,104.2 L15.5,103.2 L14.4,102.2 L13.3,101.2 L12.2,100.1" stroke="#242424" stroke-width="14.00"/>
<path d="M13.3,101.2 L12.2,100.1 L11.1,99.1 L10.1,98.1 L9,97" stroke="#242424" stroke-width="14.00"/>
<path d="M10.1,98.1 L9,97 L8,96 L7,95 L6,93.9" stroke="#242424" stroke-width="14.00"/>
<path d="M7,95 L6,93.9 L5,92.9 L4,91.8 L3,90.8" stroke="#242424" stroke-width="14.00"/>
<path d="M4,91.8 L3,90.8 L2.1,89.8 L1.1,88.7 L0.2,87.7" stroke="#242424" stroke-width="14.00"/>
<path d="M1.1,88.7 L0.2,87.7 L-0.7,86.6 L-1.7,85.6 L-2.5,84.5" stroke="#242424" stroke-width="14.00"/>
<path d="M-1.7,85.6 L-2.5,84.5 L-3.4,83.5 L-4.3,82.4 L-5.1,81.4" stroke="#242424" stroke-width="14.00"/>
<path d="M-4.3,82.4 L-5.1,81.4 L-6,80.3 L-6.8,79.2 L-7.6,78.2" stroke="#242424" stroke-width="14.00"/>
<path d="M-6.8,79.2 L-7.6,78.2 L-8.4,77.1 L-9.2,76.1 L-10,75" stroke="#242424" stroke-width="14.00"/>
<path d="M-9.2,76.1 L-10,75 L-10.7,74 L-11.4,72.9 L-12.2,71.9" stroke="#242424" stroke-width="14.00"/>
<path d="M-11.4,72.9 L-12.2,71.9 L-12.9,70.9 L-13.5,69.8 L-14.2,68.8" stroke="#242424" stroke-width="14.00"/>
<path d="M-13.5,69.8 L-14.2,68.8 L-14.9,67.7 L-15.5,66.7 L-16.1,65.7" stroke="#242424" stroke-width="14.00"/>
<path d="M-15.5,66.7 L-16.1,65.7 L-16.7,64.6 L-17.3,63.6 L-17.9,62.6" stroke="#242424" stroke-width="14.00"/>
<path d="M-17.3,63.6 L-17.9,62.6 L-18.5,61.6 L-19,60.5 L-19.5,59.5" stroke="#242424" stroke-width="14.00"/>
<path d="M-19,60.5 L-19.5,59.5 L-20,58.5 L-20.5,57.5 L-21,56.5" stroke="#242424" stroke-width="14.00"/>
<path d="M-20.5,57.5 L-21,56.5 L-21.5,55.5 L-21.9,54.5 L-22.3,53.5" stroke="#242424" stroke-width="14.06"/>
<path d="M-21.9,54.5 L-22.3,53.5 L-22.7,52.5 L-23.1,51.6 L-23.5,50.6" stroke="#242424" stroke-width="14.31"/>
<path d="M-23.1,51.6 L-23.5,50.6 L-23.9,49.6 L-24.2,48.6 L-24.5,47.7" stroke="#242424" stroke-width="14.58"/>
<path d="M-24.2,48.6 L-24.5,47.7 L-24.8,46.7 L-25.1,45.8 L-25.4,44.8" stroke="#252525" stroke-width="14.86"/>
<path d="M-25.1,45.8 L-25.4,44.8 L-25.6,43.9 L-25.8,43 L-26.1,42" stroke="#252525" stroke-width="15.13"/>
<path d="M-25.8,43 L-26.1,42 L-26.3,41.1 L-26.4,40.2 L-26.6,39.3" stroke="#252525" stroke-width="15.41"/>
<path d="M-26.4,40.2 L-26.6,39.3 L-26.7,38.4 L-26.9,37.5 L-27,36.6" stroke="#252525" stroke-width="15.68"/>
<path d="M-26.9,37.5 L-27,36.6 L-27,35.7 L-27.1,34.9 L-27.2,34" stroke="#252525" stroke-width="15.96"/>
<path d="M-27.1,34.9 L-27.2,34 L-27.2,33.2 L-27.2,32.3 L-27.2,31.5" stroke="#252525" stroke-width="16.23"/>
<path d="M-27.2,32.3 L-27.2,31.5 L-27.2,30.6 L-27.1,29.8 L-27.1,29" stroke="#252525" stroke-width="16.51"/>
<path d="M-27.1,29.8 L-27.1,29 L-27,28.2 L-26.9,27.4 L-26.8,26.6" stroke="#252525" stroke-width="16.84"/>
<path d="M-26.9,27.4 L-26.8,26.6 L-26.6,25.8 L-26.5,25.1 L-26.3,24.3" stroke="#262626" stroke-width="17.48"/>
<path d="M-26.5,25.1 L-26.3,24.3 L-26.1,23.6 L-25.9,22.8 L-25.7,22.1" stroke="#262626" stroke-width="18.22"/>
<path d="M-25.9,22.8 L-25.7,22.1 L-25.4,21.4 L-25.1,20.6 L-24.9,19.9" stroke="#262626" stroke-width="18.95"/>
<path d="M-25.1,20.6 L-24.9,19.9 L-24.6,19.3 L-24.2,18.6 L-23.9,17.9" stroke="#262626" stroke-width="19.68"/>
<path d="M-24.2,18.6 L-23.9,17.9 L-23.5,17.3 L-23.2,16.6 L-22.8,16" stroke="#262626" stroke-width="20.41"/>
<path d="M-23.2,16.6 L-22.8,16 L-22.4,15.4 L-21.9,14.7 L-21.5,14.1" stroke="#272727" stroke-width="21.15"/>
<path d="M-21.9,14.7 L-21.5,14.1 L-21,13.6 L-20.5,13 L-20,12.4" stroke="#272727" stroke-width="21.88"/>
<path d="M-20.5,13 L-20,12.4 L-19.5,11.9 L-19,11.3 L-18.4,10.8" stroke="#272727" stroke-width="22.36"/>
<path d="M-19,11.3 L-18.4,10.8 L-17.8,10.3 L-17.3,9.8 L-16.7,9.3" stroke="#272727" stroke-width="22.40"/>
<path d="M-17.3,9.8 L-16.7,9.3 L-16,8.9 L-15.4,8.4 L-14.8,7.9" stroke="#272727" stroke-width="22.40"/>
<path d="M-15.4,8.4 L-14.8,7.9 L-14.1,7.5 L-13.4,7.1 L-12.7,6.7" stroke="#282828" stroke-width="22.40"/>
<path d="M-13.4,7.1 L-12.7,6.7 L-12,6.3 L-11.3,5.9 L-10.5,5.6" stroke="#282828" stroke-width="22.40"/>
<path d="M-11.3,5.9 L-10.5,5.6 L-9.8,5.2 L-9,4.9 L-8.2,4.5" stroke="#282828" stroke-width="22.40"/>
<path d="M-9,4.9 L-8.2,4.5 L-7.4,4.2 L-6.6,3.9 L-5.7,3.6" stroke="#282828" stroke-width="22.40"/>
<path d="M-6.6,3.9 L-5.7,3.6 L-4.9,3.4 L-4,3.1 L-3.2,2.9" stroke="#282828" stroke-width="22.40"/>
<path d="M-4,3.1 L-3.2,2.9 L-2.3,2.6 L-1.4,2.4 L-0.4,2.2" stroke="#282828" stroke-width="22.40"/>
<path d="M-1.4,2.4 L-0.4,2.2 L0.5,2 L1.4,1.9 L2.4,1.7" stroke="#262626" stroke-width="18.20"/>
<path d="M1.4,1.9 L2.4,1.7 L3.3,1.6 L4.3,1.4 L5.3,1.3" stroke="#242424" stroke-width="14.00"/>
<path d="M4.3,1.4 L5.3,1.3 L6.3,1.2 L7.3,1.1 L8.4,1" stroke="#242424" stroke-width="14.00"/>
<path d="M7.3,1.1 L8.4,1 L9.4,1 L10.5,0.9 L11.5,0.9" stroke="#242424" stroke-width="14.00"/>
<path d="M10.5,0.9 L11.5,0.9 L12.6,0.9 L13.7,0.9" stroke="#242424" stroke-width="14.00"/>
<path d="M184.5,118.8 L183.2,117.9 L182,117 L180.7,116 L179.5,115.1" stroke="#252525" stroke-width="14.00"/>
<path d="M180.7,116 L179.5,115.1 L178.3,114.1 L177.1,113.1 L175.9,112.2" stroke="#252525" stroke-width="14.00"/>
<path d="M177.1,113.1 L175.9,112.2 L174.7,111.2 L173.5,110.2 L172.3,109.2" stroke="#252525" stroke-width="14.00"/>
<path d="M173.5,110.2 L172.3,109.2 L171.2,108.2 L170,107.2 L168.9,106.2" stroke="#242424" stroke-width="14.00"/>
<path d="M170,107.2 L168.9,106.2 L167.7,105.2 L166.6,104.2 L165.5,103.2" stroke="#242424" stroke-width="14.00"/>
<path d="M166.6,104.2 L165.5,103.2 L164.4,102.2 L163.3,101.2 L162.2,100.1" stroke="#242424" stroke-width="14.00"/>
<path d="M163.3,101.2 L162.2,100.1 L161.1,99.1 L160.1,98.1 L159,97" stroke="#242424" stroke-width="14.00"/>
<path d="M160.1,98.1 L159,97 L158,96 L157,95 L156,93.9" stroke="#242424" stroke-width="14.00"/>
<path d="M157,95 L156,93.9 L155,92.9 L154,91.8 L153,90.8" stroke="#242424" stroke-width="14.00"/>
<path d="M154,91.8 L153,90.8 L152.1,89.8 L151.1,88.7 L150.2,87.7" stroke="#242424" stroke-width="14.00"/>
<path d="M151.1,88.7 L150.2,87.7 L149.3,86.6 L148.3,85.6 L147.5,84.5" stroke="#242424" stroke-width="14.00"/>
<path d="M148.3,85.6 L147.5,84.5 L146.6,83.5 L145.7,82.4 L144.9,81.4" stroke="#242424" stroke-width="14.00"/>
<path d="M145.7,82.4 L144.9,81.4 L144,80.3 L143.2,79.2 L142.4,78.2" stroke="#242424" stroke-width="14.00"/>
<path d="M143.2,79.2 L142.4,78.2 L141.6,77.1 L140.8,76.1 L140,75" stroke="#242424" stroke-width="14.00"/>
<path d="M140.8,76.1 L140,75 L139.3,74 L138.6,72.9 L137.8,71.9" stroke="#242424" stroke-width="14.00"/>
<path d="M138.6,72.9 L137.8,71.9 L137.1,70.9 L136.5,69.8 L135.8,68.8" stroke="#242424" stroke-width="14.00"/>
<path d="M136.5,69.8 L135.8,68.8 L135.1,67.7 L134.5,66.7 L133.9,65.7" stroke="#242424" stroke-width="14.00"/>
<path d="M134.5,66.7 L133.9,65.7 L133.3,64.6 L132.7,63.6 L132.1,62.6" stroke="#242424" stroke-width="14.00"/>
<path d="M132.7,63.6 L132.1,62.6 L131.5,61.6 L131,60.5 L130.5,59.5" stroke="#242424" stroke-width="14.00"/>
<path d="M131,60.5 L130.5,59.5 L130,58.5 L129.5,57.5 L129,56.5" stroke="#242424" stroke-width="14.00"/>
<path d="M129.5,57.5 L129,56.5 L128.5,55.5 L128.1,54.5 L127.7,53.5" stroke="#242424" stroke-width="14.06"/>
<path d="M128.1,54.5 L127.7,53.5 L127.3,52.5 L126.9,51.6 L126.5,50.6" stroke="#242424" stroke-width="14.31"/>
<path d="M126.9,51.6 L126.5,50.6 L126.1,49.6 L125.8,48.6 L125.5,47.7" stroke="#242424" stroke-width="14.58"/>
<path d="M125.8,48.6 L125.5,47.7 L125.2,46.7 L124.9,45.8 L124.6,44.8" stroke="#252525" stroke-width="14.86"/>
<path d="M124.9,45.8 L124.6,44.8 L124.4,43.9 L124.2,43 L123.9,42" stroke="#252525" stroke-width="15.13"/>
<path d="M124.2,43 L123.9,42 L123.7,41.1 L123.6,40.2 L123.4,39.3" stroke="#252525" stroke-width="15.41"/>
<path d="M123.6,40.2 L123.4,39.3 L123.3,38.4 L123.1,37.5 L123,36.6" stroke="#252525" stroke-width="15.68"/>
<path d="M123.1,37.5 L123,36.6 L123,35.7 L122.9,34.9 L122.8,34" stroke="#252525" stroke-width="15.96"/>
<path d="M122.9,34.9 L122.8,34 L122.8,33.2 L122.8,32.3 L122.8,31.5" stroke="#252525" stroke-width="16.23"/>
<path d="M122.8,32.3 L122.8,31.5 L122.8,30.6 L122.9,29.8 L122.9,29" stroke="#252525" stroke-width="16.51"/>
<path d="M122.9,29.8 L122.9,29 L123,28.2 L123.1,27.4 L123.2,26.6" stroke="#252525" stroke-width="16.84"/>
<path d="M123.1,27.4 L123.2,26.6 L123.4,25.8 L123.5,25.1 L123.7,24.3" stroke="#262626" stroke-width="17.48"/>
<path d="M123.5,25.1 L123.7,24.3 L123.9,23.6 L124.1,22.8 L124.3,22.1" stroke="#262626" stroke-width="18.22"/>
<path d="M124.1,22.8 L124.3,22.1 L124.6,21.4 L124.9,20.6 L125.1,19.9" stroke="#262626" stroke-width="18.95"/>
<path d="M124.9,20.6 L125.1,19.9 L125.4,19.3 L125.8,18.6 L126.1,17.9" stroke="#262626" stroke-width="19.68"/>
<path d="M125.8,18.6 L126.1,17.9 L126.5,17.3 L126.8,16.6 L127.2,16" stroke="#262626" stroke-width="20.41"/>
<path d="M126.8,16.6 L127.2,16 L127.6,15.4 L128.1,14.7 L128.5,14.1" stroke="#272727" stroke-width="21.15"/>
<path d="M128.1,14.7 L128.5,14.1 L129,13.6 L129.5,13 L130,12.4" stroke="#272727" stroke-width="21.88"/>
<path d="M129.5,13 L130,12.4 L130.5,11.9 L131,11.3 L131.6,10.8" stroke="#272727" stroke-width="22.36"/>
<path d="M131,11.3 L131.6,10.8 L132.2,10.3 L132.7,9.8 L133.3,9.3" stroke="#272727" stroke-width="22.40"/>
<path d="M132.7,9.8 L133.3,9.3 L134,8.9 L134.6,8.4 L135.2,7.9" stroke="#272727" stroke-width="22.40"/>
<path d="M134.6,8.4 L135.2,7.9 L135.9,7.5 L136.6,7.1 L137.3,6.7" stroke="#282828" stroke-width="22.40"/>
<path d="M136.6,7.1 L137.3,6.7 L138,6.3 L138.7,5.9 L139.5,5.6" stroke="#282828" stroke-width="22.40"/>
<path d="M138.7,5.9 L139.5,5.6 L140.2,5.2 L141,4.9 L141.8,4.5" stroke="#282828" stroke-width="22.40"/>
<path d="M141,4.9 L141.8,4.5 L142.6,4.2 L143.4,3.9 L144.3,3.6" stroke="#282828" stroke-width="22.40"/>
<path d="M143.4,3.9 L144.3,3.6 L145.1,3.4 L146,3.1 L146.8,2.9" stroke="#282828" stroke-width="22.40"/>
<path d="M146,3.1 L146.8,2.9 L147.7,2.6 L148.6,2.4 L149.6,2.2" stroke="#282828" stroke-width="22.40"/>
<path d="M148.6,2.4 L149.6,2.2 L150.5,2 L151.4,1.9 L152.4,1.7" stroke="#262626" stroke-width="18.20"/>
<path d="M151.4,1.9 L152.4,1.7 L153.3,1.6 L154.3,1.4 L155.3,1.3" stroke="#242424" stroke-width="14.00"/>
<path d="M154.3,1.4 L155.3,1.3 L156.3,1.2 L157.3,1.1 L158.4,1" stroke="#242424" stroke-width="14.00"/>
<path d="M157.3,1.1 L158.4,1 L159.4,1 L160.5,0.9 L161.5,0.9" stroke="#242424" stroke-width="14.00"/>
<path d="M160.5,0.9 L161.5,0.9 L162.6,0.9 L163.7,0.9" stroke="#242424" stroke-width="14.00"/>
</g>
<g filter="url(#b2)" fill="none" stroke-linecap="round" stroke-linejoin="round">
<path d="M144.1,161.7 L143,161.7 L141.9,161.6 L140.8,161.6 L139.7,161.6" stroke="#4b4b4b" stroke-width="7.00"/>
<path d="M140.8,161.6 L139.7,161.6 L138.6,161.5 L137.4,161.4 L136.3,161.3" stroke="#4e4e4e" stroke-width="7.00"/>
<path d="M137.4,161.4 L136.3,161.3 L135.1,161.2 L134,161.1 L132.8,161" stroke="#525252" stroke-width="7.00"/>
<path d="M134,161.1 L132.8,161 L131.6,160.8 L130.4,160.7 L129.2,160.5" stroke="#575757" stroke-width="7.05"/>
<path d="M130.4,160.7 L129.2,160.5 L128,160.3 L126.8,160.1 L125.6,159.9" stroke="#5c5c5c" stroke-width="7.21"/>
<path d="M126.8,160.1 L125.6,159.9 L124.3,159.7 L123.1,159.5 L121.8,159.2" stroke="#616161" stroke-width="7.38"/>
<path d="M123.1,159.5 L121.8,159.2 L120.6,158.9 L119.3,158.7 L118,158.4" stroke="#666666" stroke-width="7.55"/>
<path d="M119.3,158.7 L118,158.4 L116.7,158.1 L115.5,157.8 L114.2,157.4" stroke="#6c6c6c" stroke-width="7.75"/>
<path d="M115.5,157.8 L114.2,157.4 L112.9,157.1 L111.6,156.7 L110.2,156.4" stroke="#707070" stroke-width="8.01"/>
<path d="M111.6,156.7 L110.2,156.4 L108.9,156 L107.6,155.6 L106.3,155.2" stroke="#727272" stroke-width="8.29"/>
<path d="M107.6,155.6 L106.3,155.2 L105,154.8 L103.6,154.3 L102.3,153.9" stroke="#737373" stroke-width="8.57"/>
<path d="M103.6,154.3 L102.3,153.9 L100.9,153.4 L99.6,153 L98.2,152.5" stroke="#737373" stroke-width="8.68"/>
<path d="M99.6,153 L98.2,152.5 L96.9,152 L95.5,151.5 L94.2,151" stroke="#737373" stroke-width="8.56"/>
<path d="M95.5,151.5 L94.2,151 L92.8,150.4 L91.4,149.9 L90.1,149.3" stroke="#737373" stroke-width="8.42"/>
<path d="M91.4,149.9 L90.1,149.3 L88.7,148.8 L87.3,148.2 L86,147.6" stroke="#737373" stroke-width="8.27"/>
<path d="M87.3,148.2 L86,147.6 L84.6,147 L83.2,146.4 L81.8,145.8" stroke="#737373" stroke-width="8.13"/>
<path d="M83.2,146.4 L81.8,145.8 L80.5,145.2 L79.1,144.5 L77.7,143.9" stroke="#737373" stroke-width="7.53"/>
<path d="M79.1,144.5 L77.7,143.9 L76.3,143.2 L75,142.5 L73.6,141.8" stroke="#707070" stroke-width="6.42"/>
<path d="M75,142.5 L73.6,141.8 L72.2,141.1 L70.8,140.4 L69.5,139.7" stroke="#585858" stroke-width="6.72"/>
<path d="M70.8,140.4 L69.5,139.7 L68.1,139 L66.7,138.3 L65.4,137.5" stroke="#4e4e4e" stroke-width="7.00"/>
<path d="M66.7,138.3 L65.4,137.5 L64,136.8 L62.6,136 L61.3,135.2" stroke="#4c4c4c" stroke-width="7.00"/>
<path d="M62.6,136 L61.3,135.2 L59.9,134.5 L58.6,133.7 L57.2,132.9" stroke="#4a4a4a" stroke-width="7.00"/>
<path d="M58.6,133.7 L57.2,132.9 L55.9,132.1 L54.5,131.2 L53.2,130.4" stroke="#494949" stroke-width="7.00"/>
<path d="M54.5,131.2 L53.2,130.4 L51.9,129.6 L50.6,128.7 L49.2,127.9" stroke="#484848" stroke-width="7.00"/>
<path d="M50.6,128.7 L49.2,127.9 L47.9,127 L46.6,126.2 L45.3,125.3" stroke="#474747" stroke-width="7.00"/>
<path d="M46.6,126.2 L45.3,125.3 L44,124.4 L42.7,123.5 L41.4,122.6" stroke="#474747" stroke-width="7.00"/>
<path d="M42.7,123.5 L41.4,122.6 L40.1,121.7 L38.9,120.8 L37.6,119.9" stroke="#464646" stroke-width="7.00"/>
<path d="M38.9,120.8 L37.6,119.9 L36.3,119 L35.1,118 L33.8,117.1" stroke="#464646" stroke-width="7.00"/>
<path d="M35.1,118 L33.8,117.1 L32.6,116.2 L31.4,115.2 L30.1,114.3" stroke="#454545" stroke-width="7.00"/>
<path d="M31.4,115.2 L30.1,114.3 L28.9,113.3 L27.7,112.3 L26.5,111.4" stroke="#454545" stroke-width="7.00"/>
<path d="M27.7,112.3 L26.5,111.4 L25.3,110.4 L24.1,109.4 L23,108.4" stroke="#454545" stroke-width="7.00"/>
<path d="M24.1,109.4 L23,108.4 L21.8,107.5 L20.7,106.5 L19.5,105.5" stroke="#444444" stroke-width="7.00"/>
<path d="M20.7,106.5 L19.5,105.5 L18.4,104.5 L17.3,103.5 L16.2,102.4" stroke="#444444" stroke-width="7.00"/>
<path d="M17.3,103.5 L16.2,102.4 L15.1,101.4 L14,100.4 L12.9,99.4" stroke="#444444" stroke-width="7.00"/>
<path d="M14,100.4 L12.9,99.4 L11.8,98.4 L10.8,97.4 L9.7,96.3" stroke="#444444" stroke-width="7.00"/>
<path d="M10.8,97.4 L9.7,96.3 L8.7,95.3 L7.7,94.3 L6.7,93.2" stroke="#444444" stroke-width="7.00"/>
<path d="M7.7,94.3 L6.7,93.2 L5.7,92.2 L4.7,91.2 L3.7,90.1" stroke="#444444" stroke-width="7.00"/>
<path d="M4.7,91.2 L3.7,90.1 L2.8,89.1 L1.9,88 L0.9,87" stroke="#444444" stroke-width="7.00"/>
<path d="M1.9,88 L0.9,87 L0,86 L-0.9,84.9 L-1.8,83.9" stroke="#434343" stroke-width="7.00"/>
<path d="M-0.9,84.9 L-1.8,83.9 L-2.7,82.8 L-3.5,81.8 L-4.4,80.7" stroke="#434343" stroke-width="7.00"/>
<path d="M-3.5,81.8 L-4.4,80.7 L-5.2,79.7 L-6,78.6 L-6.8,77.6" stroke="#434343" stroke-width="7.00"/>
<path d="M-6,78.6 L-6.8,77.6 L-7.6,76.5 L-8.4,75.5 L-9.1,74.5" stroke="#434343" stroke-width="7.00"/>
<path d="M-8.4,75.5 L-9.1,74.5 L-9.9,73.4 L-10.6,72.4 L-11.3,71.3" stroke="#434343" stroke-width="7.00"/>
<path d="M-10.6,72.4 L-11.3,71.3 L-12,70.3 L-12.7,69.3 L-13.4,68.2" stroke="#434343" stroke-width="7.00"/>
<path d="M-12.7,69.3 L-13.4,68.2 L-14,67.2 L-14.7,66.2 L-15.3,65.2" stroke="#434343" stroke-width="7.00"/>
<path d="M-14.7,66.2 L-15.3,65.2 L-15.9,64.1 L-16.5,63.1 L-17,62.1" stroke="#434343" stroke-width="7.00"/>
<path d="M-16.5,63.1 L-17,62.1 L-17.6,61.1 L-18.1,60.1 L-18.6,59.1" stroke="#434343" stroke-width="7.00"/>
<path d="M-18.1,60.1 L-18.6,59.1 L-19.2,58.1 L-19.6,57.1 L-20.1,56.1" stroke="#434343" stroke-width="7.00"/>
<path d="M-19.6,57.1 L-20.1,56.1 L-20.6,55.1 L-21,54.1 L-21.4,53.1" stroke="#444444" stroke-width="7.03"/>
<path d="M-21,54.1 L-21.4,53.1 L-21.8,52.2 L-22.2,51.2 L-22.6,50.2" stroke="#444444" stroke-width="7.15"/>
<path d="M-22.2,51.2 L-22.6,50.2 L-22.9,49.3 L-23.3,48.3 L-23.6,47.4" stroke="#444444" stroke-width="7.29"/>
<path d="M-23.3,48.3 L-23.6,47.4 L-23.9,46.4 L-24.1,45.5 L-24.4,44.6" stroke="#454545" stroke-width="7.43"/>
<path d="M-24.1,45.5 L-24.4,44.6 L-24.6,43.6 L-24.9,42.7 L-25.1,41.8" stroke="#454545" stroke-width="7.57"/>
<path d="M-24.9,42.7 L-25.1,41.8 L-25.3,40.9 L-25.4,40 L-25.6,39.1" stroke="#454545" stroke-width="7.70"/>
<path d="M-25.4,40 L-25.6,39.1 L-25.7,38.3 L-25.9,37.4 L-26,36.5" stroke="#464646" stroke-width="7.84"/>
<path d="M-25.9,37.4 L-26,36.5 L-26,35.7 L-26.1,34.8 L-26.2,34" stroke="#464646" stroke-width="7.98"/>
<path d="M-26.1,34.8 L-26.2,34 L-26.2,33.1 L-26.2,32.3 L-26.2,31.5" stroke="#474747" stroke-width="8.12"/>
<path d="M-26.2,32.3 L-26.2,31.5 L-26.2,30.7 L-26.1,29.9 L-26.1,29.1" stroke="#474747" stroke-width="8.25"/>
<path d="M-26.1,29.9 L-26.1,29.1 L-26,28.3 L-25.9,27.5 L-25.8,26.8" stroke="#484848" stroke-width="8.42"/>
<path d="M-25.9,27.5 L-25.8,26.8 L-25.6,26 L-25.5,25.3 L-25.3,24.5" stroke="#484848" stroke-width="8.74"/>
<path d="M-25.5,25.3 L-25.3,24.5 L-25.1,23.8 L-24.9,23.1 L-24.7,22.4" stroke="#494949" stroke-width="9.11"/>
<path d="M-24.9,23.1 L-24.7,22.4 L-24.5,21.7 L-24.2,21 L-23.9,20.3" stroke="#494949" stroke-width="9.47"/>
<path d="M-24.2,21 L-23.9,20.3 L-23.7,19.7 L-23.3,19 L-23,18.4" stroke="#4a4a4a" stroke-width="9.84"/>
<path d="M-23.3,19 L-23,18.4 L-22.7,17.7 L-22.3,17.1 L-21.9,16.5" stroke="#4b4b4b" stroke-width="10.21"/>
<path d="M-22.3,17.1 L-21.9,16.5 L-21.5,15.9 L-21.1,15.3 L-20.7,14.8" stroke="#4b4b4b" stroke-width="10.57"/>
<path d="M-21.1,15.3 L-20.7,14.8 L-20.2,14.2 L-19.8,13.6 L-19.3,13.1" stroke="#4c4c4c" stroke-width="10.94"/>
<path d="M-19.8,13.6 L-19.3,13.1 L-18.8,12.6 L-18.3,12.1 L-17.7,11.6" stroke="#4d4d4d" stroke-width="11.18"/>
<path d="M-18.3,12.1 L-17.7,11.6 L-17.2,11.1 L-16.6,10.6 L-16,10.1" stroke="#4d4d4d" stroke-width="11.20"/>
<path d="M-16.6,10.6 L-16,10.1 L-15.4,9.7 L-14.8,9.2 L-14.2,8.8" stroke="#4e4e4e" stroke-width="11.20"/>
<path d="M-14.8,9.2 L-14.2,8.8 L-13.6,8.4 L-12.9,8 L-12.2,7.6" stroke="#4e4e4e" stroke-width="11.20"/>
<path d="M-12.9,8 L-12.2,7.6 L-11.5,7.2 L-10.8,6.8 L-10.1,6.5" stroke="#4e4e4e" stroke-width="11.20"/>
<path d="M-10.8,6.8 L-10.1,6.5 L-9.3,6.1 L-8.6,5.8 L-7.8,5.5" stroke="#4e4e4e" stroke-width="11.20"/>
<path d="M-8.6,5.8 L-7.8,5.5 L-7,5.2 L-6.2,4.9 L-5.4,4.6" stroke="#4e4e4e" stroke-width="11.20"/>
<path d="M-6.2,4.9 L-5.4,4.6 L-4.6,4.3 L-3.8,4.1 L-2.9,3.8" stroke="#4e4e4e" stroke-width="11.20"/>
<path d="M-3.8,4.1 L-2.9,3.8 L-2,3.6 L-1.1,3.4 L-0.2,3.2" stroke="#4e4e4e" stroke-width="11.20"/>
<path d="M-1.1,3.4 L-0.2,3.2 L0.7,3 L1.6,2.9 L2.5,2.7" stroke="#494949" stroke-width="9.10"/>
<path d="M1.6,2.9 L2.5,2.7 L3.5,2.6 L4.4,2.4 L5.4,2.3" stroke="#444444" stroke-width="7.00"/>
<path d="M4.4,2.4 L5.4,2.3 L6.4,2.2 L7.4,2.1 L8.4,2" stroke="#444444" stroke-width="7.00"/>
<path d="M7.4,2.1 L8.4,2 L9.5,2 L10.5,1.9 L11.5,1.9" stroke="#444444" stroke-width="7.00"/>
<path d="M10.5,1.9 L11.5,1.9 L12.6,1.9 L13.7,1.9" stroke="#444444" stroke-width="7.00"/>
<path d="M181.4,115.2 L180.1,114.3 L178.9,113.3 L177.7,112.3 L176.5,111.4" stroke="#454545" stroke-width="7.00"/>
<path d="M177.7,112.3 L176.5,111.4 L175.3,110.4 L174.1,109.4 L173,108.4" stroke="#454545" stroke-width="7.00"/>
<path d="M174.1,109.4 L173,108.4 L171.8,107.5 L170.7,106.5 L169.5,105.5" stroke="#444444" stroke-width="7.00"/>
<path d="M170.7,106.5 L169.5,105.5 L168.4,104.5 L167.3,103.5 L166.2,102.4" stroke="#444444" stroke-width="7.00"/>
<path d="M167.3,103.5 L166.2,102.4 L165.1,101.4 L164,100.4 L162.9,99.4" stroke="#444444" stroke-width="7.00"/>
<path d="M164,100.4 L162.9,99.4 L161.8,98.4 L160.8,97.4 L159.7,96.3" stroke="#444444" stroke-width="7.00"/>
<path d="M160.8,97.4 L159.7,96.3 L158.7,95.3 L157.7,94.3 L156.7,93.2" stroke="#444444" stroke-width="7.00"/>
<path d="M157.7,94.3 L156.7,93.2 L155.7,92.2 L154.7,91.2 L153.7,90.1" stroke="#444444" stroke-width="7.00"/>
<path d="M154.7,91.2 L153.7,90.1 L152.8,89.1 L151.9,88 L150.9,87" stroke="#444444" stroke-width="7.00"/>
<path d="M151.9,88 L150.9,87 L150,86 L149.1,84.9 L148.2,83.9" stroke="#434343" stroke-width="7.00"/>
<path d="M149.1,84.9 L148.2,83.9 L147.3,82.8 L146.5,81.8 L145.6,80.7" stroke="#434343" stroke-width="7.00"/>
<path d="M146.5,81.8 L145.6,80.7 L144.8,79.7 L144,78.6 L143.2,77.6" stroke="#434343" stroke-width="7.00"/>
<path d="M144,78.6 L143.2,77.6 L142.4,76.5 L141.6,75.5 L140.9,74.5" stroke="#434343" stroke-width="7.00"/>
<path d="M141.6,75.5 L140.9,74.5 L140.1,73.4 L139.4,72.4 L138.7,71.3" stroke="#434343" stroke-width="7.00"/>
<path d="M139.4,72.4 L138.7,71.3 L138,70.3 L137.3,69.3 L136.6,68.2" stroke="#434343" stroke-width="7.00"/>
<path d="M137.3,69.3 L136.6,68.2 L136,67.2 L135.3,66.2 L134.7,65.2" stroke="#434343" stroke-width="7.00"/>
<path d="M135.3,66.2 L134.7,65.2 L134.1,64.1 L133.5,63.1 L133,62.1" stroke="#434343" stroke-width="7.00"/>
<path d="M133.5,63.1 L133,62.1 L132.4,61.1 L131.9,60.1 L131.4,59.1" stroke="#434343" stroke-width="7.00"/>
<path d="M131.9,60.1 L131.4,59.1 L130.8,58.1 L130.4,57.1 L129.9,56.1" stroke="#434343" stroke-width="7.00"/>
<path d="M130.4,57.1 L129.9,56.1 L129.4,55.1 L129,54.1 L128.6,53.1" stroke="#444444" stroke-width="7.03"/>
<path d="M129,54.1 L128.6,53.1 L128.2,52.2 L127.8,51.2 L127.4,50.2" stroke="#444444" stroke-width="7.15"/>
<path d="M127.8,51.2 L127.4,50.2 L127.1,49.3 L126.7,48.3 L126.4,47.4" stroke="#444444" stroke-width="7.29"/>
<path d="M126.7,48.3 L126.4,47.4 L126.1,46.4 L125.9,45.5 L125.6,44.6" stroke="#454545" stroke-width="7.43"/>
<path d="M125.9,45.5 L125.6,44.6 L125.4,43.6 L125.1,42.7 L124.9,41.8" stroke="#454545" stroke-width="7.57"/>
<path d="M125.1,42.7 L124.9,41.8 L124.7,40.9 L124.6,40 L124.4,39.1" stroke="#454545" stroke-width="7.70"/>
<path d="M124.6,40 L124.4,39.1 L124.3,38.3 L124.1,37.4 L124,36.5" stroke="#464646" stroke-width="7.84"/>
<path d="M124.1,37.4 L124,36.5 L124,35.7 L123.9,34.8 L123.8,34" stroke="#464646" stroke-width="7.98"/>
<path d="M123.9,34.8 L123.8,34 L123.8,33.1 L123.8,32.3 L123.8,31.5" stroke="#474747" stroke-width="8.12"/>
<path d="M123.8,32.3 L123.8,31.5 L123.8,30.7 L123.9,29.9 L123.9,29.1" stroke="#474747" stroke-width="8.25"/>
<path d="M123.9,29.9 L123.9,29.1 L124,28.3 L124.1,27.5 L124.2,26.8" stroke="#484848" stroke-width="8.42"/>
<path d="M124.1,27.5 L124.2,26.8 L124.4,26 L124.5,25.3 L124.7,24.5" stroke="#484848" stroke-width="8.74"/>
<path d="M124.5,25.3 L124.7,24.5 L124.9,23.8 L125.1,23.1 L125.3,22.4" stroke="#494949" stroke-width="9.11"/>
<path d="M125.1,23.1 L125.3,22.4 L125.5,21.7 L125.8,21 L126.1,20.3" stroke="#494949" stroke-width="9.47"/>
<path d="M125.8,21 L126.1,20.3 L126.3,19.7 L126.7,19 L127,18.4" stroke="#4a4a4a" stroke-width="9.84"/>
<path d="M126.7,19 L127,18.4 L127.3,17.7 L127.7,17.1 L128.1,16.5" stroke="#4b4b4b" stroke-width="10.21"/>
<path d="M127.7,17.1 L128.1,16.5 L128.5,15.9 L128.9,15.3 L129.3,14.8" stroke="#4b4b4b" stroke-width="10.57"/>
<path d="M128.9,15.3 L129.3,14.8 L129.8,14.2 L130.2,13.6 L130.7,13.1" stroke="#4c4c4c" stroke-width="10.94"/>
<path d="M130.2,13.6 L130.7,13.1 L131.2,12.6 L131.7,12.1 L132.3,11.6" stroke="#4d4d4d" stroke-width="11.18"/>
<path d="M131.7,12.1 L132.3,11.6 L132.8,11.1 L133.4,10.6 L134,10.1" stroke="#4d4d4d" stroke-width="11.20"/>
<path d="M133.4,10.6 L134,10.1 L134.6,9.7 L135.2,9.2 L135.8,8.8" stroke="#4e4e4e" stroke-width="11.20"/>
<path d="M135.2,9.2 L135.8,8.8 L136.4,8.4 L137.1,8 L137.8,7.6" stroke="#4e4e4e" stroke-width="11.20"/>
<path d="M137.1,8 L137.8,7.6 L138.5,7.2 L139.2,6.8 L139.9,6.5" stroke="#4e4e4e" stroke-width="11.20"/>
<path d="M139.2,6.8 L139.9,6.5 L140.7,6.1 L141.4,5.8 L142.2,5.5" stroke="#4e4e4e" stroke-width="11.20"/>
<path d="M141.4,5.8 L142.2,5.5 L143,5.2 L143.8,4.9 L144.6,4.6" stroke="#4e4e4e" stroke-width="11.20"/>
<path d="M143.8,4.9 L144.6,4.6 L145.4,4.3 L146.2,4.1 L147.1,3.8" stroke="#4e4e4e" stroke-width="11.20"/>
<path d="M146.2,4.1 L147.1,3.8 L148,3.6 L148.9,3.4 L149.8,3.2" stroke="#4e4e4e" stroke-width="11.20"/>
<path d="M148.9,3.4 L149.8,3.2 L150.7,3 L151.6,2.9 L152.5,2.7" stroke="#494949" stroke-width="9.10"/>
<path d="M151.6,2.9 L152.5,2.7 L153.5,2.6 L154.4,2.4 L155.4,2.3" stroke="#444444" stroke-width="7.00"/>
<path d="M154.4,2.4 L155.4,2.3 L156.4,2.2 L157.4,2.1 L158.4,2" stroke="#444444" stroke-width="7.00"/>
<path d="M157.4,2.1 L158.4,2 L159.5,2 L160.5,1.9 L161.5,1.9" stroke="#444444" stroke-width="7.00"/>
<path d="M160.5,1.9 L161.5,1.9 L162.6,1.9 L163.7,1.9" stroke="#444444" stroke-width="7.00"/>
</g>
<g filter="url(#b12)" fill="none" stroke-linecap="round" stroke-linejoin="round">
<path d="M144.1,161.7 L143,161.7 L141.9,161.6 L140.8,161.6 L139.7,161.6" stroke="#616161" stroke-width="3.40"/>
<path d="M140.8,161.6 L139.7,161.6 L138.6,161.5 L137.4,161.4 L136.3,161.3" stroke="#686868" stroke-width="3.40"/>
<path d="M137.4,161.4 L136.3,161.3 L135.1,161.2 L134,161.1 L132.8,161" stroke="#727272" stroke-width="3.40"/>
<path d="M134,161.1 L132.8,161 L131.6,160.8 L130.4,160.7 L129.2,160.5" stroke="#7c7c7c" stroke-width="3.42"/>
<path d="M130.4,160.7 L129.2,160.5 L128,160.3 L126.8,160.1 L125.6,159.9" stroke="#888888" stroke-width="3.50"/>
<path d="M126.8,160.1 L125.6,159.9 L124.3,159.7 L123.1,159.5 L121.8,159.2" stroke="#949494" stroke-width="3.58"/>
<path d="M123.1,159.5 L121.8,159.2 L120.6,158.9 L119.3,158.7 L118,158.4" stroke="#a0a0a0" stroke-width="3.67"/>
<path d="M119.3,158.7 L118,158.4 L116.7,158.1 L115.5,157.8 L114.2,157.4" stroke="#adadad" stroke-width="3.76"/>
<path d="M115.5,157.8 L114.2,157.4 L112.9,157.1 L111.6,156.7 L110.2,156.4" stroke="#b5b5b5" stroke-width="3.89"/>
<path d="M111.6,156.7 L110.2,156.4 L108.9,156 L107.6,155.6 L106.3,155.2" stroke="#bbbbbb" stroke-width="4.03"/>
<path d="M107.6,155.6 L106.3,155.2 L105,154.8 L103.6,154.3 L102.3,153.9" stroke="#bdbdbd" stroke-width="4.16"/>
<path d="M103.6,154.3 L102.3,153.9 L100.9,153.4 L99.6,153 L98.2,152.5" stroke="#bdbdbd" stroke-width="4.22"/>
<path d="M99.6,153 L98.2,152.5 L96.9,152 L95.5,151.5 L94.2,151" stroke="#bdbdbd" stroke-width="4.16"/>
<path d="M95.5,151.5 L94.2,151 L92.8,150.4 L91.4,149.9 L90.1,149.3" stroke="#bdbdbd" stroke-width="4.09"/>
<path d="M91.4,149.9 L90.1,149.3 L88.7,148.8 L87.3,148.2 L86,147.6" stroke="#bdbdbd" stroke-width="4.02"/>
<path d="M87.3,148.2 L86,147.6 L84.6,147 L83.2,146.4 L81.8,145.8" stroke="#bdbdbd" stroke-width="3.95"/>
<path d="M83.2,146.4 L81.8,145.8 L80.5,145.2 L79.1,144.5 L77.7,143.9" stroke="#bdbdbd" stroke-width="3.66"/>
<path d="M79.1,144.5 L77.7,143.9 L76.3,143.2 L75,142.5 L73.6,141.8" stroke="#b7b7b7" stroke-width="3.12"/>
<path d="M75,142.5 L73.6,141.8 L72.2,141.1 L70.8,140.4 L69.5,139.7" stroke="#7f7f7f" stroke-width="3.26"/>
<path d="M70.8,140.4 L69.5,139.7 L68.1,139 L66.7,138.3 L65.4,137.5" stroke="#686868" stroke-width="3.40"/>
<path d="M66.7,138.3 L65.4,137.5 L64,136.8 L62.6,136 L61.3,135.2" stroke="#636363" stroke-width="3.40"/>
<path d="M62.6,136 L61.3,135.2 L59.9,134.5 L58.6,133.7 L57.2,132.9" stroke="#5f5f5f" stroke-width="3.40"/>
<path d="M58.6,133.7 L57.2,132.9 L55.9,132.1 L54.5,131.2 L53.2,130.4" stroke="#5c5c5c" stroke-width="3.40"/>
<path d="M54.5,131.2 L53.2,130.4 L51.9,129.6 L50.6,128.7 L49.2,127.9" stroke="#595959" stroke-width="3.40"/>
<path d="M50.6,128.7 L49.2,127.9 L47.9,127 L46.6,126.2 L45.3,125.3" stroke="#585858" stroke-width="3.40"/>
<path d="M46.6,126.2 L45.3,125.3 L44,124.4 L42.7,123.5 L41.4,122.6" stroke="#575757" stroke-width="3.40"/>
<path d="M42.7,123.5 L41.4,122.6 L40.1,121.7 L38.9,120.8 L37.6,119.9" stroke="#565656" stroke-width="3.40"/>
<path d="M38.9,120.8 L37.6,119.9 L36.3,119 L35.1,118 L33.8,117.1" stroke="#555555" stroke-width="3.40"/>
<path d="M35.1,118 L33.8,117.1 L32.6,116.2 L31.4,115.2 L30.1,114.3" stroke="#545454" stroke-width="3.40"/>
<path d="M31.4,115.2 L30.1,114.3 L28.9,113.3 L27.7,112.3 L26.5,111.4" stroke="#535353" stroke-width="3.40"/>
<path d="M27.7,112.3 L26.5,111.4 L25.3,110.4 L24.1,109.4 L23,108.4" stroke="#525252" stroke-width="3.40"/>
<path d="M24.1,109.4 L23,108.4 L21.8,107.5 L20.7,106.5 L19.5,105.5" stroke="#515151" stroke-width="3.40"/>
<path d="M20.7,106.5 L19.5,105.5 L18.4,104.5 L17.3,103.5 L16.2,102.4" stroke="#515151" stroke-width="3.40"/>
<path d="M17.3,103.5 L16.2,102.4 L15.1,101.4 L14,100.4 L12.9,99.4" stroke="#515151" stroke-width="3.40"/>
<path d="M14,100.4 L12.9,99.4 L11.8,98.4 L10.8,97.4 L9.7,96.3" stroke="#505050" stroke-width="3.40"/>
<path d="M10.8,97.4 L9.7,96.3 L8.7,95.3 L7.7,94.3 L6.7,93.2" stroke="#505050" stroke-width="3.40"/>
<path d="M7.7,94.3 L6.7,93.2 L5.7,92.2 L4.7,91.2 L3.7,90.1" stroke="#505050" stroke-width="3.40"/>
<path d="M4.7,91.2 L3.7,90.1 L2.8,89.1 L1.9,88 L0.9,87" stroke="#505050" stroke-width="3.40"/>
<path d="M1.9,88 L0.9,87 L0,86 L-0.9,84.9 L-1.8,83.9" stroke="#4f4f4f" stroke-width="3.40"/>
<path d="M-0.9,84.9 L-1.8,83.9 L-2.7,82.8 L-3.5,81.8 L-4.4,80.7" stroke="#4f4f4f" stroke-width="3.40"/>
<path d="M-3.5,81.8 L-4.4,80.7 L-5.2,79.7 L-6,78.6 L-6.8,77.6" stroke="#4f4f4f" stroke-width="3.40"/>
<path d="M-6,78.6 L-6.8,77.6 L-7.6,76.5 L-8.4,75.5 L-9.1,74.5" stroke="#4f4f4f" stroke-width="3.40"/>
<path d="M-8.4,75.5 L-9.1,74.5 L-9.9,73.4 L-10.6,72.4 L-11.3,71.3" stroke="#4f4f4f" stroke-width="3.40"/>
<path d="M-10.6,72.4 L-11.3,71.3 L-12,70.3 L-12.7,69.3 L-13.4,68.2" stroke="#4f4f4f" stroke-width="3.40"/>
<path d="M-12.7,69.3 L-13.4,68.2 L-14,67.2 L-14.7,66.2 L-15.3,65.2" stroke="#4f4f4f" stroke-width="3.40"/>
<path d="M-14.7,66.2 L-15.3,65.2 L-15.9,64.1 L-16.5,63.1 L-17,62.1" stroke="#4f4f4f" stroke-width="3.40"/>
<path d="M-16.5,63.1 L-17,62.1 L-17.6,61.1 L-18.1,60.1 L-18.6,59.1" stroke="#4f4f4f" stroke-width="3.40"/>
<path d="M-18.1,60.1 L-18.6,59.1 L-19.2,58.1 L-19.6,57.1 L-20.1,56.1" stroke="#4f4f4f" stroke-width="3.40"/>
<path d="M-19.6,57.1 L-20.1,56.1 L-20.6,55.1 L-21,54.1 L-21.4,53.1" stroke="#4f4f4f" stroke-width="3.42"/>
<path d="M-21,54.1 L-21.4,53.1 L-21.8,52.2 L-22.2,51.2 L-22.6,50.2" stroke="#505050" stroke-width="3.47"/>
<path d="M-22.2,51.2 L-22.6,50.2 L-22.9,49.3 L-23.3,48.3 L-23.6,47.4" stroke="#515151" stroke-width="3.54"/>
<path d="M-23.3,48.3 L-23.6,47.4 L-23.9,46.4 L-24.1,45.5 L-24.4,44.6" stroke="#525252" stroke-width="3.61"/>
<path d="M-24.1,45.5 L-24.4,44.6 L-24.6,43.6 L-24.9,42.7 L-25.1,41.8" stroke="#535353" stroke-width="3.67"/>
<path d="M-24.9,42.7 L-25.1,41.8 L-25.3,40.9 L-25.4,40 L-25.6,39.1" stroke="#545454" stroke-width="3.74"/>
<path d="M-25.4,40 L-25.6,39.1 L-25.7,38.3 L-25.9,37.4 L-26,36.5" stroke="#555555" stroke-width="3.81"/>
<path d="M-25.9,37.4 L-26,36.5 L-26,35.7 L-26.1,34.8 L-26.2,34" stroke="#565656" stroke-width="3.88"/>
<path d="M-26.1,34.8 L-26.2,34 L-26.2,33.1 L-26.2,32.3 L-26.2,31.5" stroke="#575757" stroke-width="3.94"/>
<path d="M-26.2,32.3 L-26.2,31.5 L-26.2,30.7 L-26.1,29.9 L-26.1,29.1" stroke="#585858" stroke-width="4.01"/>
<path d="M-26.1,29.9 L-26.1,29.1 L-26,28.3 L-25.9,27.5 L-25.8,26.8" stroke="#595959" stroke-width="4.09"/>
<path d="M-25.9,27.5 L-25.8,26.8 L-25.6,26 L-25.5,25.3 L-25.3,24.5" stroke="#5a5a5a" stroke-width="4.25"/>
<path d="M-25.5,25.3 L-25.3,24.5 L-25.1,23.8 L-24.9,23.1 L-24.7,22.4" stroke="#5c5c5c" stroke-width="4.42"/>
<path d="M-24.9,23.1 L-24.7,22.4 L-24.5,21.7 L-24.2,21 L-23.9,20.3" stroke="#5d5d5d" stroke-width="4.60"/>
<path d="M-24.2,21 L-23.9,20.3 L-23.7,19.7 L-23.3,19 L-23,18.4" stroke="#5f5f5f" stroke-width="4.78"/>
<path d="M-23.3,19 L-23,18.4 L-22.7,17.7 L-22.3,17.1 L-21.9,16.5" stroke="#606060" stroke-width="4.96"/>
<path d="M-22.3,17.1 L-21.9,16.5 L-21.5,15.9 L-21.1,15.3 L-20.7,14.8" stroke="#616161" stroke-width="5.14"/>
<path d="M-21.1,15.3 L-20.7,14.8 L-20.2,14.2 L-19.8,13.6 L-19.3,13.1" stroke="#636363" stroke-width="5.31"/>
<path d="M-19.8,13.6 L-19.3,13.1 L-18.8,12.6 L-18.3,12.1 L-17.7,11.6" stroke="#646464" stroke-width="5.43"/>
<path d="M-18.3,12.1 L-17.7,11.6 L-17.2,11.1 L-16.6,10.6 L-16,10.1" stroke="#666666" stroke-width="5.44"/>
<path d="M-16.6,10.6 L-16,10.1 L-15.4,9.7 L-14.8,9.2 L-14.2,8.8" stroke="#676767" stroke-width="5.44"/>
<path d="M-14.8,9.2 L-14.2,8.8 L-13.6,8.4 L-12.9,8 L-12.2,7.6" stroke="#686868" stroke-width="5.44"/>
<path d="M-12.9,8 L-12.2,7.6 L-11.5,7.2 L-10.8,6.8 L-10.1,6.5" stroke="#686868" stroke-width="5.44"/>
<path d="M-10.8,6.8 L-10.1,6.5 L-9.3,6.1 L-8.6,5.8 L-7.8,5.5" stroke="#686868" stroke-width="5.44"/>
<path d="M-8.6,5.8 L-7.8,5.5 L-7,5.2 L-6.2,4.9 L-5.4,4.6" stroke="#686868" stroke-width="5.44"/>
<path d="M-6.2,4.9 L-5.4,4.6 L-4.6,4.3 L-3.8,4.1 L-2.9,3.8" stroke="#686868" stroke-width="5.44"/>
<path d="M-3.8,4.1 L-2.9,3.8 L-2,3.6 L-1.1,3.4 L-0.2,3.2" stroke="#686868" stroke-width="5.44"/>
<path d="M-1.1,3.4 L-0.2,3.2 L0.7,3 L1.6,2.9 L2.5,2.7" stroke="#5c5c5c" stroke-width="4.42"/>
<path d="M1.6,2.9 L2.5,2.7 L3.5,2.6 L4.4,2.4 L5.4,2.3" stroke="#505050" stroke-width="3.40"/>
<path d="M4.4,2.4 L5.4,2.3 L6.4,2.2 L7.4,2.1 L8.4,2" stroke="#505050" stroke-width="3.40"/>
<path d="M7.4,2.1 L8.4,2 L9.5,2 L10.5,1.9 L11.5,1.9" stroke="#505050" stroke-width="3.40"/>
<path d="M10.5,1.9 L11.5,1.9 L12.6,1.9 L13.7,1.9" stroke="#505050" stroke-width="3.40"/>
<path d="M181.4,115.2 L180.1,114.3 L178.9,113.3 L177.7,112.3 L176.5,111.4" stroke="#535353" stroke-width="3.40"/>
<path d="M177.7,112.3 L176.5,111.4 L175.3,110.4 L174.1,109.4 L173,108.4" stroke="#525252" stroke-width="3.40"/>
<path d="M174.1,109.4 L173,108.4 L171.8,107.5 L170.7,106.5 L169.5,105.5" stroke="#515151" stroke-width="3.40"/>
<path d="M170.7,106.5 L169.5,105.5 L168.4,104.5 L167.3,103.5 L166.2,102.4" stroke="#515151" stroke-width="3.40"/>
<path d="M167.3,103.5 L166.2,102.4 L165.1,101.4 L164,100.4 L162.9,99.4" stroke="#515151" stroke-width="3.40"/>
<path d="M164,100.4 L162.9,99.4 L161.8,98.4 L160.8,97.4 L159.7,96.3" stroke="#505050" stroke-width="3.40"/>
<path d="M160.8,97.4 L159.7,96.3 L158.7,95.3 L157.7,94.3 L156.7,93.2" stroke="#505050" stroke-width="3.40"/>
<path d="M157.7,94.3 L156.7,93.2 L155.7,92.2 L154.7,91.2 L153.7,90.1" stroke="#505050" stroke-width="3.40"/>
<path d="M154.7,91.2 L153.7,90.1 L152.8,89.1 L151.9,88 L150.9,87" stroke="#505050" stroke-width="3.40"/>
<path d="M151.9,88 L150.9,87 L150,86 L149.1,84.9 L148.2,83.9" stroke="#4f4f4f" stroke-width="3.40"/>
<path d="M149.1,84.9 L148.2,83.9 L147.3,82.8 L146.5,81.8 L145.6,80.7" stroke="#4f4f4f" stroke-width="3.40"/>
<path d="M146.5,81.8 L145.6,80.7 L144.8,79.7 L144,78.6 L143.2,77.6" stroke="#4f4f4f" stroke-width="3.40"/>
<path d="M144,78.6 L143.2,77.6 L142.4,76.5 L141.6,75.5 L140.9,74.5" stroke="#4f4f4f" stroke-width="3.40"/>
<path d="M141.6,75.5 L140.9,74.5 L140.1,73.4 L139.4,72.4 L138.7,71.3" stroke="#4f4f4f" stroke-width="3.40"/>
<path d="M139.4,72.4 L138.7,71.3 L138,70.3 L137.3,69.3 L136.6,68.2" stroke="#4f4f4f" stroke-width="3.40"/>
<path d="M137.3,69.3 L136.6,68.2 L136,67.2 L135.3,66.2 L134.7,65.2" stroke="#4f4f4f" stroke-width="3.40"/>
<path d="M135.3,66.2 L134.7,65.2 L134.1,64.1 L133.5,63.1 L133,62.1" stroke="#4f4f4f" stroke-width="3.40"/>
<path d="M133.5,63.1 L133,62.1 L132.4,61.1 L131.9,60.1 L131.4,59.1" stroke="#4f4f4f" stroke-width="3.40"/>
<path d="M131.9,60.1 L131.4,59.1 L130.8,58.1 L130.4,57.1 L129.9,56.1" stroke="#4f4f4f" stroke-width="3.40"/>
<path d="M130.4,57.1 L129.9,56.1 L129.4,55.1 L129,54.1 L128.6,53.1" stroke="#4f4f4f" stroke-width="3.42"/>
<path d="M129,54.1 L128.6,53.1 L128.2,52.2 L127.8,51.2 L127.4,50.2" stroke="#505050" stroke-width="3.47"/>
<path d="M127.8,51.2 L127.4,50.2 L127.1,49.3 L126.7,48.3 L126.4,47.4" stroke="#515151" stroke-width="3.54"/>
<path d="M126.7,48.3 L126.4,47.4 L126.1,46.4 L125.9,45.5 L125.6,44.6" stroke="#525252" stroke-width="3.61"/>
<path d="M125.9,45.5 L125.6,44.6 L125.4,43.6 L125.1,42.7 L124.9,41.8" stroke="#535353" stroke-width="3.67"/>
<path d="M125.1,42.7 L124.9,41.8 L124.7,40.9 L124.6,40 L124.4,39.1" stroke="#545454" stroke-width="3.74"/>
<path d="M124.6,40 L124.4,39.1 L124.3,38.3 L124.1,37.4 L124,36.5" stroke="#555555" stroke-width="3.81"/>
<path d="M124.1,37.4 L124,36.5 L124,35.7 L123.9,34.8 L123.8,34" stroke="#565656" stroke-width="3.88"/>
<path d="M123.9,34.8 L123.8,34 L123.8,33.1 L123.8,32.3 L123.8,31.5" stroke="#575757" stroke-width="3.94"/>
<path d="M123.8,32.3 L123.8,31.5 L123.8,30.7 L123.9,29.9 L123.9,29.1" stroke="#585858" stroke-width="4.01"/>
<path d="M123.9,29.9 L123.9,29.1 L124,28.3 L124.1,27.5 L124.2,26.8" stroke="#595959" stroke-width="4.09"/>
<path d="M124.1,27.5 L124.2,26.8 L124.4,26 L124.5,25.3 L124.7,24.5" stroke="#5a5a5a" stroke-width="4.25"/>
<path d="M124.5,25.3 L124.7,24.5 L124.9,23.8 L125.1,23.1 L125.3,22.4" stroke="#5c5c5c" stroke-width="4.42"/>
<path d="M125.1,23.1 L125.3,22.4 L125.5,21.7 L125.8,21 L126.1,20.3" stroke="#5d5d5d" stroke-width="4.60"/>
<path d="M125.8,21 L126.1,20.3 L126.3,19.7 L126.7,19 L127,18.4" stroke="#5f5f5f" stroke-width="4.78"/>
<path d="M126.7,19 L127,18.4 L127.3,17.7 L127.7,17.1 L128.1,16.5" stroke="#606060" stroke-width="4.96"/>
<path d="M127.7,17.1 L128.1,16.5 L128.5,15.9 L128.9,15.3 L129.3,14.8" stroke="#616161" stroke-width="5.14"/>
<path d="M128.9,15.3 L129.3,14.8 L129.8,14.2 L130.2,13.6 L130.7,13.1" stroke="#636363" stroke-width="5.31"/>
<path d="M130.2,13.6 L130.7,13.1 L131.2,12.6 L131.7,12.1 L132.3,11.6" stroke="#646464" stroke-width="5.43"/>
<path d="M131.7,12.1 L132.3,11.6 L132.8,11.1 L133.4,10.6 L134,10.1" stroke="#666666" stroke-width="5.44"/>
<path d="M133.4,10.6 L134,10.1 L134.6,9.7 L135.2,9.2 L135.8,8.8" stroke="#676767" stroke-width="5.44"/>
<path d="M135.2,9.2 L135.8,8.8 L136.4,8.4 L137.1,8 L137.8,7.6" stroke="#686868" stroke-width="5.44"/>
<path d="M137.1,8 L137.8,7.6 L138.5,7.2 L139.2,6.8 L139.9,6.5" stroke="#686868" stroke-width="5.44"/>
<path d="M139.2,6.8 L139.9,6.5 L140.7,6.1 L141.4,5.8 L142.2,5.5" stroke="#686868" stroke-width="5.44"/>
<path d="M141.4,5.8 L142.2,5.5 L143,5.2 L143.8,4.9 L144.6,4.6" stroke="#686868" stroke-width="5.44"/>
<path d="M143.8,4.9 L144.6,4.6 L145.4,4.3 L146.2,4.1 L147.1,3.8" stroke="#686868" stroke-width="5.44"/>
<path d="M146.2,4.1 L147.1,3.8 L148,3.6 L148.9,3.4 L149.8,3.2" stroke="#686868" stroke-width="5.44"/>
<path d="M148.9,3.4 L149.8,3.2 L150.7,3 L151.6,2.9 L152.5,2.7" stroke="#5c5c5c" stroke-width="4.42"/>
<path d="M151.6,2.9 L152.5,2.7 L153.5,2.6 L154.4,2.4 L155.4,2.3" stroke="#505050" stroke-width="3.40"/>
<path d="M154.4,2.4 L155.4,2.3 L156.4,2.2 L157.4,2.1 L158.4,2" stroke="#505050" stroke-width="3.40"/>
<path d="M157.4,2.1 L158.4,2 L159.5,2 L160.5,1.9 L161.5,1.9" stroke="#505050" stroke-width="3.40"/>
<path d="M160.5,1.9 L161.5,1.9 L162.6,1.9 L163.7,1.9" stroke="#505050" stroke-width="3.40"/>
</g>
<g filter="url(#b07)" fill="none" stroke-linecap="round" stroke-linejoin="round">
<path d="M144.1,161.7 L143,161.7 L141.9,161.6 L140.8,161.6 L139.7,161.6" stroke="#838383" stroke-width="1.40"/>
<path d="M140.8,161.6 L139.7,161.6 L138.6,161.5 L137.4,161.4 L136.3,161.3" stroke="#8d8d8d" stroke-width="1.40"/>
<path d="M137.4,161.4 L136.3,161.3 L135.1,161.2 L134,161.1 L132.8,161" stroke="#999999" stroke-width="1.40"/>
<path d="M134,161.1 L132.8,161 L131.6,160.8 L130.4,160.7 L129.2,160.5" stroke="#a8a8a8" stroke-width="1.41"/>
<path d="M130.4,160.7 L129.2,160.5 L128,160.3 L126.8,160.1 L125.6,159.9" stroke="#b7b7b7" stroke-width="1.44"/>
<path d="M126.8,160.1 L125.6,159.9 L124.3,159.7 L123.1,159.5 L121.8,159.2" stroke="#c8c8c8" stroke-width="1.48"/>
<path d="M123.1,159.5 L121.8,159.2 L120.6,158.9 L119.3,158.7 L118,158.4" stroke="#d9d9d9" stroke-width="1.51"/>
<path d="M119.3,158.7 L118,158.4 L116.7,158.1 L115.5,157.8 L114.2,157.4" stroke="#e9e9e9" stroke-width="1.55"/>
<path d="M115.5,157.8 L114.2,157.4 L112.9,157.1 L111.6,156.7 L110.2,156.4" stroke="#f5f5f5" stroke-width="1.60"/>
<path d="M111.6,156.7 L110.2,156.4 L108.9,156 L107.6,155.6 L106.3,155.2" stroke="#fdfdfd" stroke-width="1.66"/>
<path d="M107.6,155.6 L106.3,155.2 L105,154.8 L103.6,154.3 L102.3,153.9" stroke="#ffffff" stroke-width="1.71"/>
<path d="M103.6,154.3 L102.3,153.9 L100.9,153.4 L99.6,153 L98.2,152.5" stroke="#ffffff" stroke-width="1.74"/>
<path d="M99.6,153 L98.2,152.5 L96.9,152 L95.5,151.5 L94.2,151" stroke="#ffffff" stroke-width="1.71"/>
<path d="M95.5,151.5 L94.2,151 L92.8,150.4 L91.4,149.9 L90.1,149.3" stroke="#ffffff" stroke-width="1.68"/>
<path d="M91.4,149.9 L90.1,149.3 L88.7,148.8 L87.3,148.2 L86,147.6" stroke="#ffffff" stroke-width="1.65"/>
<path d="M87.3,148.2 L86,147.6 L84.6,147 L83.2,146.4 L81.8,145.8" stroke="#ffffff" stroke-width="1.63"/>
<path d="M83.2,146.4 L81.8,145.8 L80.5,145.2 L79.1,144.5 L77.7,143.9" stroke="#ffffff" stroke-width="1.51"/>
<path d="M79.1,144.5 L77.7,143.9 L76.3,143.2 L75,142.5 L73.6,141.8" stroke="#f7f7f7" stroke-width="1.28"/>
<path d="M75,142.5 L73.6,141.8 L72.2,141.1 L70.8,140.4 L69.5,139.7" stroke="#ababab" stroke-width="1.34"/>
<path d="M70.8,140.4 L69.5,139.7 L68.1,139 L66.7,138.3 L65.4,137.5" stroke="#8c8c8c" stroke-width="1.40"/>
<path d="M66.7,138.3 L65.4,137.5 L64,136.8 L62.6,136 L61.3,135.2" stroke="#868686" stroke-width="1.40"/>
<path d="M62.6,136 L61.3,135.2 L59.9,134.5 L58.6,133.7 L57.2,132.9" stroke="#818181" stroke-width="1.40"/>
<path d="M58.6,133.7 L57.2,132.9 L55.9,132.1 L54.5,131.2 L53.2,130.4" stroke="#7c7c7c" stroke-width="1.40"/>
<path d="M54.5,131.2 L53.2,130.4 L51.9,129.6 L50.6,128.7 L49.2,127.9" stroke="#787878" stroke-width="1.40"/>
<path d="M50.6,128.7 L49.2,127.9 L47.9,127 L46.6,126.2 L45.3,125.3" stroke="#767676" stroke-width="1.40"/>
<path d="M46.6,126.2 L45.3,125.3 L44,124.4 L42.7,123.5 L41.4,122.6" stroke="#757575" stroke-width="1.40"/>
<path d="M42.7,123.5 L41.4,122.6 L40.1,121.7 L38.9,120.8 L37.6,119.9" stroke="#747474" stroke-width="1.40"/>
<path d="M38.9,120.8 L37.6,119.9 L36.3,119 L35.1,118 L33.8,117.1" stroke="#727272" stroke-width="1.40"/>
<path d="M35.1,118 L33.8,117.1 L32.6,116.2 L31.4,115.2 L30.1,114.3" stroke="#717171" stroke-width="1.40"/>
<path d="M31.4,115.2 L30.1,114.3 L28.9,113.3 L27.7,112.3 L26.5,111.4" stroke="#707070" stroke-width="1.40"/>
<path d="M27.7,112.3 L26.5,111.4 L25.3,110.4 L24.1,109.4 L23,108.4" stroke="#6f6f6f" stroke-width="1.40"/>
<path d="M24.1,109.4 L23,108.4 L21.8,107.5 L20.7,106.5 L19.5,105.5" stroke="#6e6e6e" stroke-width="1.40"/>
<path d="M20.7,106.5 L19.5,105.5 L18.4,104.5 L17.3,103.5 L16.2,102.4" stroke="#6d6d6d" stroke-width="1.40"/>
<path d="M17.3,103.5 L16.2,102.4 L15.1,101.4 L14,100.4 L12.9,99.4" stroke="#6d6d6d" stroke-width="1.40"/>
<path d="M14,100.4 L12.9,99.4 L11.8,98.4 L10.8,97.4 L9.7,96.3" stroke="#6c6c6c" stroke-width="1.40"/>
<path d="M10.8,97.4 L9.7,96.3 L8.7,95.3 L7.7,94.3 L6.7,93.2" stroke="#6c6c6c" stroke-width="1.40"/>
<path d="M7.7,94.3 L6.7,93.2 L5.7,92.2 L4.7,91.2 L3.7,90.1" stroke="#6c6c6c" stroke-width="1.40"/>
<path d="M4.7,91.2 L3.7,90.1 L2.8,89.1 L1.9,88 L0.9,87" stroke="#6b6b6b" stroke-width="1.40"/>
<path d="M1.9,88 L0.9,87 L0,86 L-0.9,84.9 L-1.8,83.9" stroke="#6b6b6b" stroke-width="1.40"/>
<path d="M-0.9,84.9 L-1.8,83.9 L-2.7,82.8 L-3.5,81.8 L-4.4,80.7" stroke="#6b6b6b" stroke-width="1.40"/>
<path d="M-3.5,81.8 L-4.4,80.7 L-5.2,79.7 L-6,78.6 L-6.8,77.6" stroke="#6b6b6b" stroke-width="1.40"/>
<path d="M-6,78.6 L-6.8,77.6 L-7.6,76.5 L-8.4,75.5 L-9.1,74.5" stroke="#6b6b6b" stroke-width="1.40"/>
<path d="M-8.4,75.5 L-9.1,74.5 L-9.9,73.4 L-10.6,72.4 L-11.3,71.3" stroke="#6b6b6b" stroke-width="1.40"/>
<path d="M-10.6,72.4 L-11.3,71.3 L-12,70.3 L-12.7,69.3 L-13.4,68.2" stroke="#6b6b6b" stroke-width="1.40"/>
<path d="M-12.7,69.3 L-13.4,68.2 L-14,67.2 L-14.7,66.2 L-15.3,65.2" stroke="#6b6b6b" stroke-width="1.40"/>
<path d="M-14.7,66.2 L-15.3,65.2 L-15.9,64.1 L-16.5,63.1 L-17,62.1" stroke="#6b6b6b" stroke-width="1.40"/>
<path d="M-16.5,63.1 L-17,62.1 L-17.6,61.1 L-18.1,60.1 L-18.6,59.1" stroke="#6b6b6b" stroke-width="1.40"/>
<path d="M-18.1,60.1 L-18.6,59.1 L-19.2,58.1 L-19.6,57.1 L-20.1,56.1" stroke="#6b6b6b" stroke-width="1.40"/>
<path d="M-19.6,57.1 L-20.1,56.1 L-20.6,55.1 L-21,54.1 L-21.4,53.1" stroke="#6b6b6b" stroke-width="1.41"/>
<path d="M-21,54.1 L-21.4,53.1 L-21.8,52.2 L-22.2,51.2 L-22.6,50.2" stroke="#6c6c6c" stroke-width="1.43"/>
<path d="M-22.2,51.2 L-22.6,50.2 L-22.9,49.3 L-23.3,48.3 L-23.6,47.4" stroke="#6e6e6e" stroke-width="1.46"/>
<path d="M-23.3,48.3 L-23.6,47.4 L-23.9,46.4 L-24.1,45.5 L-24.4,44.6" stroke="#6f6f6f" stroke-width="1.49"/>
<path d="M-24.1,45.5 L-24.4,44.6 L-24.6,43.6 L-24.9,42.7 L-25.1,41.8" stroke="#707070" stroke-width="1.51"/>
<path d="M-24.9,42.7 L-25.1,41.8 L-25.3,40.9 L-25.4,40 L-25.6,39.1" stroke="#727272" stroke-width="1.54"/>
<path d="M-25.4,40 L-25.6,39.1 L-25.7,38.3 L-25.9,37.4 L-26,36.5" stroke="#737373" stroke-width="1.57"/>
<path d="M-25.9,37.4 L-26,36.5 L-26,35.7 L-26.1,34.8 L-26.2,34" stroke="#747474" stroke-width="1.60"/>
<path d="M-26.1,34.8 L-26.2,34 L-26.2,33.1 L-26.2,32.3 L-26.2,31.5" stroke="#757575" stroke-width="1.62"/>
<path d="M-26.2,32.3 L-26.2,31.5 L-26.2,30.7 L-26.1,29.9 L-26.1,29.1" stroke="#777777" stroke-width="1.65"/>
<path d="M-26.1,29.9 L-26.1,29.1 L-26,28.3 L-25.9,27.5 L-25.8,26.8" stroke="#787878" stroke-width="1.68"/>
<path d="M-25.9,27.5 L-25.8,26.8 L-25.6,26 L-25.5,25.3 L-25.3,24.5" stroke="#7a7a7a" stroke-width="1.75"/>
<path d="M-25.5,25.3 L-25.3,24.5 L-25.1,23.8 L-24.9,23.1 L-24.7,22.4" stroke="#7c7c7c" stroke-width="1.82"/>
<path d="M-24.9,23.1 L-24.7,22.4 L-24.5,21.7 L-24.2,21 L-23.9,20.3" stroke="#7e7e7e" stroke-width="1.89"/>
<path d="M-24.2,21 L-23.9,20.3 L-23.7,19.7 L-23.3,19 L-23,18.4" stroke="#808080" stroke-width="1.97"/>
<path d="M-23.3,19 L-23,18.4 L-22.7,17.7 L-22.3,17.1 L-21.9,16.5" stroke="#828282" stroke-width="2.04"/>
<path d="M-22.3,17.1 L-21.9,16.5 L-21.5,15.9 L-21.1,15.3 L-20.7,14.8" stroke="#848484" stroke-width="2.11"/>
<path d="M-21.1,15.3 L-20.7,14.8 L-20.2,14.2 L-19.8,13.6 L-19.3,13.1" stroke="#868686" stroke-width="2.19"/>
<path d="M-19.8,13.6 L-19.3,13.1 L-18.8,12.6 L-18.3,12.1 L-17.7,11.6" stroke="#888888" stroke-width="2.24"/>
<path d="M-18.3,12.1 L-17.7,11.6 L-17.2,11.1 L-16.6,10.6 L-16,10.1" stroke="#8a8a8a" stroke-width="2.24"/>
<path d="M-16.6,10.6 L-16,10.1 L-15.4,9.7 L-14.8,9.2 L-14.2,8.8" stroke="#8c8c8c" stroke-width="2.24"/>
<path d="M-14.8,9.2 L-14.2,8.8 L-13.6,8.4 L-12.9,8 L-12.2,7.6" stroke="#8c8c8c" stroke-width="2.24"/>
<path d="M-12.9,8 L-12.2,7.6 L-11.5,7.2 L-10.8,6.8 L-10.1,6.5" stroke="#8c8c8c" stroke-width="2.24"/>
<path d="M-10.8,6.8 L-10.1,6.5 L-9.3,6.1 L-8.6,5.8 L-7.8,5.5" stroke="#8c8c8c" stroke-width="2.24"/>
<path d="M-8.6,5.8 L-7.8,5.5 L-7,5.2 L-6.2,4.9 L-5.4,4.6" stroke="#8c8c8c" stroke-width="2.24"/>
<path d="M-6.2,4.9 L-5.4,4.6 L-4.6,4.3 L-3.8,4.1 L-2.9,3.8" stroke="#8c8c8c" stroke-width="2.24"/>
<path d="M-3.8,4.1 L-2.9,3.8 L-2,3.6 L-1.1,3.4 L-0.2,3.2" stroke="#8c8c8c" stroke-width="2.24"/>
<path d="M-1.1,3.4 L-0.2,3.2 L0.7,3 L1.6,2.9 L2.5,2.7" stroke="#7c7c7c" stroke-width="1.82"/>
<path d="M1.6,2.9 L2.5,2.7 L3.5,2.6 L4.4,2.4 L5.4,2.3" stroke="#6b6b6b" stroke-width="1.40"/>
<path d="M4.4,2.4 L5.4,2.3 L6.4,2.2 L7.4,2.1 L8.4,2" stroke="#6c6c6c" stroke-width="1.40"/>
<path d="M7.4,2.1 L8.4,2 L9.5,2 L10.5,1.9 L11.5,1.9" stroke="#6c6c6c" stroke-width="1.40"/>
<path d="M10.5,1.9 L11.5,1.9 L12.6,1.9 L13.7,1.9" stroke="#6c6c6c" stroke-width="1.40"/>
<path d="M181.4,115.2 L180.1,114.3 L178.9,113.3 L177.7,112.3 L176.5,111.4" stroke="#707070" stroke-width="1.40"/>
<path d="M177.7,112.3 L176.5,111.4 L175.3,110.4 L174.1,109.4 L173,108.4" stroke="#6f6f6f" stroke-width="1.40"/>
<path d="M174.1,109.4 L173,108.4 L171.8,107.5 L170.7,106.5 L169.5,105.5" stroke="#6e6e6e" stroke-width="1.40"/>
<path d="M170.7,106.5 L169.5,105.5 L168.4,104.5 L167.3,103.5 L166.2,102.4" stroke="#6d6d6d" stroke-width="1.40"/>
<path d="M167.3,103.5 L166.2,102.4 L165.1,101.4 L164,100.4 L162.9,99.4" stroke="#6d6d6d" stroke-width="1.40"/>
<path d="M164,100.4 L162.9,99.4 L161.8,98.4 L160.8,97.4 L159.7,96.3" stroke="#6c6c6c" stroke-width="1.40"/>
<path d="M160.8,97.4 L159.7,96.3 L158.7,95.3 L157.7,94.3 L156.7,93.2" stroke="#6c6c6c" stroke-width="1.40"/>
<path d="M157.7,94.3 L156.7,93.2 L155.7,92.2 L154.7,91.2 L153.7,90.1" stroke="#6c6c6c" stroke-width="1.40"/>
<path d="M154.7,91.2 L153.7,90.1 L152.8,89.1 L151.9,88 L150.9,87" stroke="#6b6b6b" stroke-width="1.40"/>
<path d="M151.9,88 L150.9,87 L150,86 L149.1,84.9 L148.2,83.9" stroke="#6b6b6b" stroke-width="1.40"/>
<path d="M149.1,84.9 L148.2,83.9 L147.3,82.8 L146.5,81.8 L145.6,80.7" stroke="#6b6b6b" stroke-width="1.40"/>
<path d="M146.5,81.8 L145.6,80.7 L144.8,79.7 L144,78.6 L143.2,77.6" stroke="#6b6b6b" stroke-width="1.40"/>
<path d="M144,78.6 L143.2,77.6 L142.4,76.5 L141.6,75.5 L140.9,74.5" stroke="#6b6b6b" stroke-width="1.40"/>
<path d="M141.6,75.5 L140.9,74.5 L140.1,73.4 L139.4,72.4 L138.7,71.3" stroke="#6b6b6b" stroke-width="1.40"/>
<path d="M139.4,72.4 L138.7,71.3 L138,70.3 L137.3,69.3 L136.6,68.2" stroke="#6b6b6b" stroke-width="1.40"/>
<path d="M137.3,69.3 L136.6,68.2 L136,67.2 L135.3,66.2 L134.7,65.2" stroke="#6b6b6b" stroke-width="1.40"/>
<path d="M135.3,66.2 L134.7,65.2 L134.1,64.1 L133.5,63.1 L133,62.1" stroke="#6b6b6b" stroke-width="1.40"/>
<path d="M133.5,63.1 L133,62.1 L132.4,61.1 L131.9,60.1 L131.4,59.1" stroke="#6b6b6b" stroke-width="1.40"/>
<path d="M131.9,60.1 L131.4,59.1 L130.8,58.1 L130.4,57.1 L129.9,56.1" stroke="#6b6b6b" stroke-width="1.40"/>
<path d="M130.4,57.1 L129.9,56.1 L129.4,55.1 L129,54.1 L128.6,53.1" stroke="#6b6b6b" stroke-width="1.41"/>
<path d="M129,54.1 L128.6,53.1 L128.2,52.2 L127.8,51.2 L127.4,50.2" stroke="#6c6c6c" stroke-width="1.43"/>
<path d="M127.8,51.2 L127.4,50.2 L127.1,49.3 L126.7,48.3 L126.4,47.4" stroke="#6e6e6e" stroke-width="1.46"/>
<path d="M126.7,48.3 L126.4,47.4 L126.1,46.4 L125.9,45.5 L125.6,44.6" stroke="#6f6f6f" stroke-width="1.49"/>
<path d="M125.9,45.5 L125.6,44.6 L125.4,43.6 L125.1,42.7 L124.9,41.8" stroke="#707070" stroke-width="1.51"/>
<path d="M125.1,42.7 L124.9,41.8 L124.7,40.9 L124.6,40 L124.4,39.1" stroke="#727272" stroke-width="1.54"/>
<path d="M124.6,40 L124.4,39.1 L124.3,38.3 L124.1,37.4 L124,36.5" stroke="#737373" stroke-width="1.57"/>
<path d="M124.1,37.4 L124,36.5 L124,35.7 L123.9,34.8 L123.8,34" stroke="#747474" stroke-width="1.60"/>
<path d="M123.9,34.8 L123.8,34 L123.8,33.1 L123.8,32.3 L123.8,31.5" stroke="#757575" stroke-width="1.62"/>
<path d="M123.8,32.3 L123.8,31.5 L123.8,30.7 L123.9,29.9 L123.9,29.1" stroke="#777777" stroke-width="1.65"/>
<path d="M123.9,29.9 L123.9,29.1 L124,28.3 L124.1,27.5 L124.2,26.8" stroke="#787878" stroke-width="1.68"/>
<path d="M124.1,27.5 L124.2,26.8 L124.4,26 L124.5,25.3 L124.7,24.5" stroke="#7a7a7a" stroke-width="1.75"/>
<path d="M124.5,25.3 L124.7,24.5 L124.9,23.8 L125.1,23.1 L125.3,22.4" stroke="#7c7c7c" stroke-width="1.82"/>
<path d="M125.1,23.1 L125.3,22.4 L125.5,21.7 L125.8,21 L126.1,20.3" stroke="#7e7e7e" stroke-width="1.89"/>
<path d="M125.8,21 L126.1,20.3 L126.3,19.7 L126.7,19 L127,18.4" stroke="#808080" stroke-width="1.97"/>
<path d="M126.7,19 L127,18.4 L127.3,17.7 L127.7,17.1 L128.1,16.5" stroke="#828282" stroke-width="2.04"/>
<path d="M127.7,17.1 L128.1,16.5 L128.5,15.9 L128.9,15.3 L129.3,14.8" stroke="#848484" stroke-width="2.11"/>
<path d="M128.9,15.3 L129.3,14.8 L129.8,14.2 L130.2,13.6 L130.7,13.1" stroke="#868686" stroke-width="2.19"/>
<path d="M130.2,13.6 L130.7,13.1 L131.2,12.6 L131.7,12.1 L132.3,11.6" stroke="#888888" stroke-width="2.24"/>
<path d="M131.7,12.1 L132.3,11.6 L132.8,11.1 L133.4,10.6 L134,10.1" stroke="#8a8a8a" stroke-width="2.24"/>
<path d="M133.4,10.6 L134,10.1 L134.6,9.7 L135.2,9.2 L135.8,8.8" stroke="#8c8c8c" stroke-width="2.24"/>
<path d="M135.2,9.2 L135.8,8.8 L136.4,8.4 L137.1,8 L137.8,7.6" stroke="#8c8c8c" stroke-width="2.24"/>
<path d="M137.1,8 L137.8,7.6 L138.5,7.2 L139.2,6.8 L139.9,6.5" stroke="#8c8c8c" stroke-width="2.24"/>
<path d="M139.2,6.8 L139.9,6.5 L140.7,6.1 L141.4,5.8 L142.2,5.5" stroke="#8c8c8c" stroke-width="2.24"/>
<path d="M141.4,5.8 L142.2,5.5 L143,5.2 L143.8,4.9 L144.6,4.6" stroke="#8c8c8c" stroke-width="2.24"/>
<path d="M143.8,4.9 L144.6,4.6 L145.4,4.3 L146.2,4.1 L147.1,3.8" stroke="#8c8c8c" stroke-width="2.24"/>
<path d="M146.2,4.1 L147.1,3.8 L148,3.6 L148.9,3.4 L149.8,3.2" stroke="#8c8c8c" stroke-width="2.24"/>
<path d="M148.9,3.4 L149.8,3.2 L150.7,3 L151.6,2.9 L152.5,2.7" stroke="#7c7c7c" stroke-width="1.82"/>
<path d="M151.6,2.9 L152.5,2.7 L153.5,2.6 L154.4,2.4 L155.4,2.3" stroke="#6b6b6b" stroke-width="1.40"/>
<path d="M154.4,2.4 L155.4,2.3 L156.4,2.2 L157.4,2.1 L158.4,2" stroke="#6c6c6c" stroke-width="1.40"/>
<path d="M157.4,2.1 L158.4,2 L159.5,2 L160.5,1.9 L161.5,1.9" stroke="#6c6c6c" stroke-width="1.40"/>
<path d="M160.5,1.9 L161.5,1.9 L162.6,1.9 L163.7,1.9" stroke="#6c6c6c" stroke-width="1.40"/>
</g>
<g filter="url(#b3)"><ellipse cx="4" cy="6" rx="10" ry="7" fill="#454545"/></g>
<g filter="url(#b09)"><path d="M-2,4.2 L10,4.2" stroke="#8f8f8f" stroke-width="3" stroke-linecap="round"/></g>
<g filter="url(#b3)"><ellipse cx="69" cy="150" rx="9" ry="8" fill="#333333"/></g>
<g filter="url(#b09)"><polygon points="73.5,143 81.5,146.5 76.6,157" fill="#808080"/></g>
</g></g>
<rect x="0.5" y="0.5" width="149" height="163" fill="none" stroke="#262626" stroke-width="0.85"/>
<path d="M0.5,163 v-1.6 M0.5,1 v1.6 M75,163 v-1.6 M75,1 v1.6 M149.5,163 v-1.6 M149.5,1 v1.6 M1,23.6 h1.6 M149,23.6 h-1.6 M1,52.9 h1.6 M149,52.9 h-1.6 M1,82.1 h1.6 M149,82.1 h-1.6 M1,111.4 h1.6 M149,111.4 h-1.6 M1,140.7 h1.6 M149,140.7 h-1.6" stroke="#262626" stroke-width="1" fill="none"/>
<rect x="57.7" y="122.8" width="52.2" height="39.4" fill="none" stroke="#ff0000" stroke-width="1.9"/>
<text x="0.5" y="182" font-size="13" text-anchor="middle">-1</text>
<text x="75" y="182" font-size="13" text-anchor="middle">0</text>
<text x="149.5" y="182" font-size="13" text-anchor="middle">1</text>
<text x="-4.5" y="28.5" font-size="13" text-anchor="end">-1</text>
<text x="-4.5" y="57.8" font-size="13" text-anchor="end">-0.5</text>
<text x="-4.5" y="87" font-size="13" text-anchor="end">0</text>
<text x="-4.5" y="116.3" font-size="13" text-anchor="end">0.5</text>
<text x="-4.5" y="145.6" font-size="13" text-anchor="end">1</text>
<text x="74.5" y="202.8" font-size="14.3" text-anchor="middle">2fd/fr</text>
<text transform="translate(-34.2,82.64999999999998) rotate(-90)" font-size="14.3" text-anchor="middle">cos(<tspan font-family="Liberation Serif, serif" font-style="italic" font-weight="bold" font-size="16" dx="0.3">ψ</tspan><tspan dx="0.3">)</tspan></text>
</g>
<rect x="219.5" y="242.5" width="16" height="164" fill="url(#cbg)" stroke="#262626" stroke-width="0.85"/>
<text x="240.3" y="247.8" font-size="13">0</text>
<text x="240.3" y="275.4" font-size="13">-10</text>
<text x="240.3" y="302.9" font-size="13">-20</text>
<text x="240.3" y="330.5" font-size="13">-30</text>
<text x="240.3" y="358.1" font-size="13">-40</text>
<text x="240.3" y="385.6" font-size="13">-50</text>
<path d="M235,270.1 h-1.6 M235,297.6 h-1.6 M235,325.2 h-1.6 M235,352.8 h-1.6 M235,380.3 h-1.6" stroke="#262626" stroke-width="1" fill="none"/>
<g transform="translate(339,242)">
<g clip-path="url(#cp)"><g filter="url(#parula)">
<rect x="-5" y="-5" width="160" height="174" fill="#040404"/>
<g filter="url(#b3)"><ellipse cx="0" cy="162" rx="16" ry="4" fill="#383838"/><ellipse cx="150" cy="162" rx="10" ry="4" fill="#4c4c4c"/></g>
<g filter="url(#b4)" fill="none" stroke-linecap="round" stroke-linejoin="round">
<path d="M144.1,162.7 L143,162.7 L141.9,162.6 L140.8,162.6 L139.7,162.6" stroke="#242424" stroke-width="13.00"/>
<path d="M140.8,162.6 L139.7,162.6 L138.5,162.5 L137.4,162.4 L136.2,162.3" stroke="#252525" stroke-width="13.00"/>
<path d="M137.4,162.4 L136.2,162.3 L135,162.2 L133.9,162.1 L132.7,162" stroke="#252525" stroke-width="13.00"/>
<path d="M133.9,162.1 L132.7,162 L131.5,161.8 L130.3,161.7 L129.1,161.5" stroke="#252525" stroke-width="13.00"/>
<path d="M130.3,161.7 L129.1,161.5 L127.8,161.3 L126.6,161.1 L125.4,160.9" stroke="#262626" stroke-width="13.00"/>
<path d="M126.6,161.1 L125.4,160.9 L124.1,160.7 L122.9,160.4 L121.6,160.2" stroke="#262626" stroke-width="13.00"/>
<path d="M122.9,160.4 L121.6,160.2 L120.4,159.9 L119.1,159.6 L117.8,159.4" stroke="#272727" stroke-width="13.00"/>
<path d="M119.1,159.6 L117.8,159.4 L116.5,159 L115.2,158.7 L113.9,158.4" stroke="#282828" stroke-width="13.00"/>
<path d="M115.2,158.7 L113.9,158.4 L112.6,158.1 L111.3,157.7 L110,157.3" stroke="#282828" stroke-width="13.00"/>
<path d="M111.3,157.7 L110,157.3 L108.7,156.9 L107.3,156.5 L106,156.1" stroke="#282828" stroke-width="13.00"/>
<path d="M107.3,156.5 L106,156.1 L104.7,155.7 L103.3,155.3 L102,154.8" stroke="#282828" stroke-width="13.00"/>
<path d="M103.3,155.3 L102,154.8 L100.6,154.4 L99.3,153.9 L97.9,153.4" stroke="#282828" stroke-width="13.00"/>
<path d="M99.3,153.9 L97.9,153.4 L96.5,152.9 L95.2,152.4 L93.8,151.9" stroke="#282828" stroke-width="13.00"/>
<path d="M95.2,152.4 L93.8,151.9 L92.4,151.4 L91.1,150.8 L89.7,150.3" stroke="#282828" stroke-width="13.00"/>
<path d="M91.1,150.8 L89.7,150.3 L88.3,149.7 L86.9,149.1 L85.6,148.5" stroke="#282828" stroke-width="13.00"/>
<path d="M86.9,149.1 L85.6,148.5 L84.2,147.9 L82.8,147.3 L81.4,146.7" stroke="#282828" stroke-width="13.00"/>
<path d="M82.8,147.3 L81.4,146.7 L80,146.1 L78.7,145.4 L77.3,144.8" stroke="#282828" stroke-width="13.00"/>
<path d="M78.7,145.4 L77.3,144.8 L75.9,144.1 L74.5,143.4 L73.1,142.7" stroke="#272727" stroke-width="13.00"/>
<path d="M74.5,143.4 L73.1,142.7 L71.8,142 L70.4,141.3 L69,140.6" stroke="#262626" stroke-width="13.00"/>
<path d="M70.4,141.3 L69,140.6 L67.6,139.9 L66.3,139.1 L64.9,138.4" stroke="#262626" stroke-width="13.00"/>
<path d="M66.3,139.1 L64.9,138.4 L63.5,137.6 L62.2,136.9 L60.8,136.1" stroke="#262626" stroke-width="13.00"/>
<path d="M62.2,136.9 L60.8,136.1 L59.4,135.3 L58.1,134.5 L56.7,133.7" stroke="#252525" stroke-width="13.00"/>
<path d="M58.1,134.5 L56.7,133.7 L55.4,132.9 L54,132.1 L52.7,131.3" stroke="#252525" stroke-width="13.00"/>
<path d="M54,132.1 L52.7,131.3 L51.3,130.4 L50,129.6 L48.7,128.7" stroke="#252525" stroke-width="13.00"/>
<path d="M50,129.6 L48.7,128.7 L47.4,127.9 L46,127 L44.7,126.1" stroke="#252525" stroke-width="13.00"/>
<path d="M46,127 L44.7,126.1 L43.4,125.2 L42.1,124.3 L40.8,123.4" stroke="#252525" stroke-width="13.00"/>
<path d="M42.1,124.3 L40.8,123.4 L39.6,122.5 L38.3,121.6 L37,120.7" stroke="#242424" stroke-width="13.00"/>
<path d="M38.3,121.6 L37,120.7 L35.7,119.8 L34.5,118.8 L33.2,117.9" stroke="#242424" stroke-width="13.00"/>
<path d="M34.5,118.8 L33.2,117.9 L32,117 L30.7,116 L29.5,115.1" stroke="#242424" stroke-width="13.00"/>
<path d="M30.7,116 L29.5,115.1 L28.3,114.1 L27.1,113.1 L25.9,112.2" stroke="#242424" stroke-width="13.00"/>
<path d="M27.1,113.1 L25.9,112.2 L24.7,111.2 L23.5,110.2 L22.3,109.2" stroke="#242424" stroke-width="13.00"/>
<path d="M23.5,110.2 L22.3,109.2 L21.2,108.2 L20,107.2 L18.9,106.2" stroke="#232323" stroke-width="13.00"/>
<path d="M20,107.2 L18.9,106.2 L17.7,105.2 L16.6,104.2 L15.5,103.2" stroke="#232323" stroke-width="13.00"/>
<path d="M16.6,104.2 L15.5,103.2 L14.4,102.2 L13.3,101.2 L12.2,100.1" stroke="#232323" stroke-width="13.00"/>
<path d="M13.3,101.2 L12.2,100.1 L11.1,99.1 L10.1,98.1 L9,97" stroke="#232323" stroke-width="13.00"/>
<path d="M10.1,98.1 L9,97 L8,96 L7,95 L6,93.9" stroke="#232323" stroke-width="13.00"/>
<path d="M7,95 L6,93.9 L5,92.9 L4,91.8 L3,90.8" stroke="#232323" stroke-width="13.00"/>
<path d="M4,91.8 L3,90.8 L2.1,89.8 L1.1,88.7 L0.2,87.7" stroke="#232323" stroke-width="13.00"/>
<path d="M1.1,88.7 L0.2,87.7 L-0.7,86.6 L-1.7,85.6 L-2.5,84.5" stroke="#232323" stroke-width="13.00"/>
<path d="M-1.7,85.6 L-2.5,84.5 L-3.4,83.5 L-4.3,82.4 L-5.1,81.4" stroke="#232323" stroke-width="13.00"/>
<path d="M-4.3,82.4 L-5.1,81.4 L-6,80.3 L-6.8,79.2 L-7.6,78.2" stroke="#232323" stroke-width="13.00"/>
<path d="M-6.8,79.2 L-7.6,78.2 L-8.4,77.1 L-9.2,76.1 L-10,75" stroke="#232323" stroke-width="13.00"/>
<path d="M-9.2,76.1 L-10,75 L-10.7,74 L-11.4,72.9 L-12.2,71.9" stroke="#232323" stroke-width="13.00"/>
<path d="M-11.4,72.9 L-12.2,71.9 L-12.9,70.9 L-13.5,69.8 L-14.2,68.8" stroke="#232323" stroke-width="13.00"/>
<path d="M-13.5,69.8 L-14.2,68.8 L-14.9,67.7 L-15.5,66.7 L-16.1,65.7" stroke="#232323" stroke-width="13.00"/>
<path d="M-15.5,66.7 L-16.1,65.7 L-16.7,64.6 L-17.3,63.6 L-17.9,62.6" stroke="#232323" stroke-width="13.00"/>
<path d="M-17.3,63.6 L-17.9,62.6 L-18.5,61.6 L-19,60.5 L-19.5,59.5" stroke="#232323" stroke-width="13.00"/>
<path d="M-19,60.5 L-19.5,59.5 L-20,58.5 L-20.5,57.5 L-21,56.5" stroke="#232323" stroke-width="13.00"/>
<path d="M-20.5,57.5 L-21,56.5 L-21.5,55.5 L-21.9,54.5 L-22.3,53.5" stroke="#232323" stroke-width="13.00"/>
<path d="M-21.9,54.5 L-22.3,53.5 L-22.7,52.5 L-23.1,51.6 L-23.5,50.6" stroke="#232323" stroke-width="13.00"/>
<path d="M-23.1,51.6 L-23.5,50.6 L-23.9,49.6 L-24.2,48.6 L-24.5,47.7" stroke="#232323" stroke-width="13.00"/>
<path d="M-24.2,48.6 L-24.5,47.7 L-24.8,46.7 L-25.1,45.8 L-25.4,44.8" stroke="#232323" stroke-width="13.00"/>
<path d="M-25.1,45.8 L-25.4,44.8 L-25.6,43.9 L-25.8,43 L-26.1,42" stroke="#232323" stroke-width="13.00"/>
<path d="M-25.8,43 L-26.1,42 L-26.3,41.1 L-26.4,40.2 L-26.6,39.3" stroke="#232323" stroke-width="13.00"/>
<path d="M-26.4,40.2 L-26.6,39.3 L-26.7,38.4 L-26.9,37.5 L-27,36.6" stroke="#242424" stroke-width="13.00"/>
<path d="M-26.9,37.5 L-27,36.6 L-27,35.7 L-27.1,34.9 L-27.2,34" stroke="#242424" stroke-width="13.00"/>
<path d="M-27.1,34.9 L-27.2,34 L-27.2,33.2 L-27.2,32.3 L-27.2,31.5" stroke="#242424" stroke-width="13.00"/>
<path d="M-27.2,32.3 L-27.2,31.5 L-27.2,30.6 L-27.1,29.8 L-27.1,29" stroke="#242424" stroke-width="13.00"/>
<path d="M-27.1,29.8 L-27.1,29 L-27,28.2 L-26.9,27.4 L-26.8,26.6" stroke="#242424" stroke-width="13.00"/>
<path d="M-26.9,27.4 L-26.8,26.6 L-26.6,25.8 L-26.5,25.1 L-26.3,24.3" stroke="#242424" stroke-width="13.00"/>
<path d="M-26.5,25.1 L-26.3,24.3 L-26.1,23.6 L-25.9,22.8 L-25.7,22.1" stroke="#242424" stroke-width="13.00"/>
<path d="M-25.9,22.8 L-25.7,22.1 L-25.4,21.4 L-25.1,20.6 L-24.9,19.9" stroke="#242424" stroke-width="13.00"/>
<path d="M-25.1,20.6 L-24.9,19.9 L-24.6,19.3 L-24.2,18.6 L-23.9,17.9" stroke="#252525" stroke-width="13.00"/>
<path d="M-24.2,18.6 L-23.9,17.9 L-23.5,17.3 L-23.2,16.6 L-22.8,16" stroke="#252525" stroke-width="13.00"/>
<path d="M-23.2,16.6 L-22.8,16 L-22.4,15.4 L-21.9,14.7 L-21.5,14.1" stroke="#252525" stroke-width="13.00"/>
<path d="M-21.9,14.7 L-21.5,14.1 L-21,13.6 L-20.5,13 L-20,12.4" stroke="#252525" stroke-width="13.00"/>
<path d="M-20.5,13 L-20,12.4 L-19.5,11.9 L-19,11.3 L-18.4,10.8" stroke="#252525" stroke-width="13.00"/>
<path d="M-19,11.3 L-18.4,10.8 L-17.8,10.3 L-17.3,9.8 L-16.7,9.3" stroke="#252525" stroke-width="13.00"/>
<path d="M-17.3,9.8 L-16.7,9.3 L-16,8.9 L-15.4,8.4 L-14.8,7.9" stroke="#252525" stroke-width="13.00"/>
<path d="M-15.4,8.4 L-14.8,7.9 L-14.1,7.5 L-13.4,7.1 L-12.7,6.7" stroke="#252525" stroke-width="13.00"/>
<path d="M-13.4,7.1 L-12.7,6.7 L-12,6.3 L-11.3,5.9 L-10.5,5.6" stroke="#252525" stroke-width="13.00"/>
<path d="M-11.3,5.9 L-10.5,5.6 L-9.8,5.2 L-9,4.9 L-8.2,4.5" stroke="#252525" stroke-width="13.00"/>
<path d="M-9,4.9 L-8.2,4.5 L-7.4,4.2 L-6.6,3.9 L-5.7,3.6" stroke="#252525" stroke-width="13.00"/>
<path d="M-6.6,3.9 L-5.7,3.6 L-4.9,3.4 L-4,3.1 L-3.2,2.9" stroke="#252525" stroke-width="13.00"/>
<path d="M-4,3.1 L-3.2,2.9 L-2.3,2.6 L-1.4,2.4 L-0.4,2.2" stroke="#252525" stroke-width="13.00"/>
<path d="M-1.4,2.4 L-0.4,2.2 L0.5,2 L1.4,1.9 L2.4,1.7" stroke="#242424" stroke-width="13.00"/>
<path d="M1.4,1.9 L2.4,1.7 L3.3,1.6 L4.3,1.4 L5.3,1.3" stroke="#232323" stroke-width="13.00"/>
<path d="M4.3,1.4 L5.3,1.3 L6.3,1.2 L7.3,1.1 L8.4,1" stroke="#232323" stroke-width="13.00"/>
<path d="M7.3,1.1 L8.4,1 L9.4,1 L10.5,0.9 L11.5,0.9" stroke="#232323" stroke-width="13.00"/>
<path d="M10.5,0.9 L11.5,0.9 L12.6,0.9 L13.7,0.9" stroke="#232323" stroke-width="13.00"/>
<path d="M184.5,118.8 L183.2,117.9 L182,117 L180.7,116 L179.5,115.1" stroke="#242424" stroke-width="13.00"/>
<path d="M180.7,116 L179.5,115.1 L178.3,114.1 L177.1,113.1 L175.9,112.2" stroke="#242424" stroke-width="13.00"/>
<path d="M177.1,113.1 L175.9,112.2 L174.7,111.2 L173.5,110.2 L172.3,109.2" stroke="#242424" stroke-width="13.00"/>
<path d="M173.5,110.2 L172.3,109.2 L171.2,108.2 L170,107.2 L168.9,106.2" stroke="#232323" stroke-width="13.00"/>
<path d="M170,107.2 L168.9,106.2 L167.7,105.2 L166.6,104.2 L165.5,103.2" stroke="#232323" stroke-width="13.00"/>
<path d="M166.6,104.2 L165.5,103.2 L164.4,102.2 L163.3,101.2 L162.2,100.1" stroke="#232323" stroke-width="13.00"/>
<path d="M163.3,101.2 L162.2,100.1 L161.1,99.1 L160.1,98.1 L159,97" stroke="#232323" stroke-width="13.00"/>
<path d="M160.1,98.1 L159,97 L158,96 L157,95 L156,93.9" stroke="#232323" stroke-width="13.00"/>
<path d="M157,95 L156,93.9 L155,92.9 L154,91.8 L153,90.8" stroke="#232323" stroke-width="13.00"/>
<path d="M154,91.8 L153,90.8 L152.1,89.8 L151.1,88.7 L150.2,87.7" stroke="#232323" stroke-width="13.00"/>
<path d="M151.1,88.7 L150.2,87.7 L149.3,86.6 L148.3,85.6 L147.5,84.5" stroke="#232323" stroke-width="13.00"/>
<path d="M148.3,85.6 L147.5,84.5 L146.6,83.5 L145.7,82.4 L144.9,81.4" stroke="#232323" stroke-width="13.00"/>
<path d="M145.7,82.4 L144.9,81.4 L144,80.3 L143.2,79.2 L142.4,78.2" stroke="#232323" stroke-width="13.00"/>
<path d="M143.2,79.2 L142.4,78.2 L141.6,77.1 L140.8,76.1 L140,75" stroke="#232323" stroke-width="13.00"/>
<path d="M140.8,76.1 L140,75 L139.3,74 L138.6,72.9 L137.8,71.9" stroke="#232323" stroke-width="13.00"/>
<path d="M138.6,72.9 L137.8,71.9 L137.1,70.9 L136.5,69.8 L135.8,68.8" stroke="#232323" stroke-width="13.00"/>
<path d="M136.5,69.8 L135.8,68.8 L135.1,67.7 L134.5,66.7 L133.9,65.7" stroke="#232323" stroke-width="13.00"/>
<path d="M134.5,66.7 L133.9,65.7 L133.3,64.6 L132.7,63.6 L132.1,62.6" stroke="#232323" stroke-width="13.00"/>
<path d="M132.7,63.6 L132.1,62.6 L131.5,61.6 L131,60.5 L130.5,59.5" stroke="#232323" stroke-width="13.00"/>
<path d="M131,60.5 L130.5,59.5 L130,58.5 L129.5,57.5 L129,56.5" stroke="#232323" stroke-width="13.00"/>
<path d="M129.5,57.5 L129,56.5 L128.5,55.5 L128.1,54.5 L127.7,53.5" stroke="#232323" stroke-width="13.00"/>
<path d="M128.1,54.5 L127.7,53.5 L127.3,52.5 L126.9,51.6 L126.5,50.6" stroke="#232323" stroke-width="13.00"/>
<path d="M126.9,51.6 L126.5,50.6 L126.1,49.6 L125.8,48.6 L125.5,47.7" stroke="#232323" stroke-width="13.00"/>
<path d="M125.8,48.6 L125.5,47.7 L125.2,46.7 L124.9,45.8 L124.6,44.8" stroke="#232323" stroke-width="13.00"/>
<path d="M124.9,45.8 L124.6,44.8 L124.4,43.9 L124.2,43 L123.9,42" stroke="#232323" stroke-width="13.00"/>
<path d="M124.2,43 L123.9,42 L123.7,41.1 L123.6,40.2 L123.4,39.3" stroke="#232323" stroke-width="13.00"/>
<path d="M123.6,40.2 L123.4,39.3 L123.3,38.4 L123.1,37.5 L123,36.6" stroke="#242424" stroke-width="13.00"/>
<path d="M123.1,37.5 L123,36.6 L123,35.7 L122.9,34.9 L122.8,34" stroke="#242424" stroke-width="13.00"/>
<path d="M122.9,34.9 L122.8,34 L122.8,33.2 L122.8,32.3 L122.8,31.5" stroke="#242424" stroke-width="13.00"/>
<path d="M122.8,32.3 L122.8,31.5 L122.8,30.6 L122.9,29.8 L122.9,29" stroke="#242424" stroke-width="13.00"/>
<path d="M122.9,29.8 L122.9,29 L123,28.2 L123.1,27.4 L123.2,26.6" stroke="#242424" stroke-width="13.00"/>
<path d="M123.1,27.4 L123.2,26.6 L123.4,25.8 L123.5,25.1 L123.7,24.3" stroke="#242424" stroke-width="13.00"/>
<path d="M123.5,25.1 L123.7,24.3 L123.9,23.6 L124.1,22.8 L124.3,22.1" stroke="#242424" stroke-width="13.00"/>
<path d="M124.1,22.8 L124.3,22.1 L124.6,21.4 L124.9,20.6 L125.1,19.9" stroke="#242424" stroke-width="13.00"/>
<path d="M124.9,20.6 L125.1,19.9 L125.4,19.3 L125.8,18.6 L126.1,17.9" stroke="#252525" stroke-width="13.00"/>
<path d="M125.8,18.6 L126.1,17.9 L126.5,17.3 L126.8,16.6 L127.2,16" stroke="#252525" stroke-width="13.00"/>
<path d="M126.8,16.6 L127.2,16 L127.6,15.4 L128.1,14.7 L128.5,14.1" stroke="#252525" stroke-width="13.00"/>
<path d="M128.1,14.7 L128.5,14.1 L129,13.6 L129.5,13 L130,12.4" stroke="#252525" stroke-width="13.00"/>
<path d="M129.5,13 L130,12.4 L130.5,11.9 L131,11.3 L131.6,10.8" stroke="#252525" stroke-width="13.00"/>
<path d="M131,11.3 L131.6,10.8 L132.2,10.3 L132.7,9.8 L133.3,9.3" stroke="#252525" stroke-width="13.00"/>
<path d="M132.7,9.8 L133.3,9.3 L134,8.9 L134.6,8.4 L135.2,7.9" stroke="#252525" stroke-width="13.00"/>
<path d="M134.6,8.4 L135.2,7.9 L135.9,7.5 L136.6,7.1 L137.3,6.7" stroke="#252525" stroke-width="13.00"/>
<path d="M136.6,7.1 L137.3,6.7 L138,6.3 L138.7,5.9 L139.5,5.6" stroke="#252525" stroke-width="13.00"/>
<path d="M138.7,5.9 L139.5,5.6 L140.2,5.2 L141,4.9 L141.8,4.5" stroke="#252525" stroke-width="13.00"/>
<path d="M141,4.9 L141.8,4.5 L142.6,4.2 L143.4,3.9 L144.3,3.6" stroke="#252525" stroke-width="13.00"/>
<path d="M143.4,3.9 L144.3,3.6 L145.1,3.4 L146,3.1 L146.8,2.9" stroke="#252525" stroke-width="13.00"/>
<path d="M146,3.1 L146.8,2.9 L147.7,2.6 L148.6,2.4 L149.6,2.2" stroke="#252525" stroke-width="13.00"/>
<path d="M148.6,2.4 L149.6,2.2 L150.5,2 L151.4,1.9 L152.4,1.7" stroke="#242424" stroke-width="13.00"/>
<path d="M151.4,1.9 L152.4,1.7 L153.3,1.6 L154.3,1.4 L155.3,1.3" stroke="#232323" stroke-width="13.00"/>
<path d="M154.3,1.4 L155.3,1.3 L156.3,1.2 L157.3,1.1 L158.4,1" stroke="#232323" stroke-width="13.00"/>
<path d="M157.3,1.1 L158.4,1 L159.4,1 L160.5,0.9 L161.5,0.9" stroke="#232323" stroke-width="13.00"/>
<path d="M160.5,0.9 L161.5,0.9 L162.6,0.9 L163.7,0.9" stroke="#232323" stroke-width="13.00"/>
</g>
<g filter="url(#b2)" fill="none" stroke-linecap="round" stroke-linejoin="round">
<path d="M144.1,161.7 L143,161.7 L141.9,161.6 L140.8,161.6 L139.7,161.6" stroke="#424242" stroke-width="5.52"/>
<path d="M140.8,161.6 L139.7,161.6 L138.6,161.5 L137.4,161.4 L136.3,161.3" stroke="#444444" stroke-width="5.52"/>
<path d="M137.4,161.4 L136.3,161.3 L135.1,161.2 L134,161.1 L132.8,161" stroke="#454545" stroke-width="5.52"/>
<path d="M134,161.1 L132.8,161 L131.6,160.8 L130.4,160.7 L129.2,160.5" stroke="#464646" stroke-width="5.52"/>
<path d="M130.4,160.7 L129.2,160.5 L128,160.3 L126.8,160.1 L125.6,159.9" stroke="#484848" stroke-width="5.52"/>
<path d="M126.8,160.1 L125.6,159.9 L124.3,159.7 L123.1,159.5 L121.8,159.2" stroke="#494949" stroke-width="5.52"/>
<path d="M123.1,159.5 L121.8,159.2 L120.6,158.9 L119.3,158.7 L118,158.4" stroke="#4b4b4b" stroke-width="5.52"/>
<path d="M119.3,158.7 L118,158.4 L116.7,158.1 L115.5,157.8 L114.2,157.4" stroke="#4d4d4d" stroke-width="5.52"/>
<path d="M115.5,157.8 L114.2,157.4 L112.9,157.1 L111.6,156.7 L110.2,156.4" stroke="#4e4e4e" stroke-width="5.52"/>
<path d="M111.6,156.7 L110.2,156.4 L108.9,156 L107.6,155.6 L106.3,155.2" stroke="#4e4e4e" stroke-width="5.52"/>
<path d="M107.6,155.6 L106.3,155.2 L105,154.8 L103.6,154.3 L102.3,153.9" stroke="#4f4f4f" stroke-width="5.52"/>
<path d="M103.6,154.3 L102.3,153.9 L100.9,153.4 L99.6,153 L98.2,152.5" stroke="#4f4f4f" stroke-width="5.52"/>
<path d="M99.6,153 L98.2,152.5 L96.9,152 L95.5,151.5 L94.2,151" stroke="#4f4f4f" stroke-width="5.52"/>
<path d="M95.5,151.5 L94.2,151 L92.8,150.4 L91.4,149.9 L90.1,149.3" stroke="#4f4f4f" stroke-width="5.52"/>
<path d="M91.4,149.9 L90.1,149.3 L88.7,148.8 L87.3,148.2 L86,147.6" stroke="#4f4f4f" stroke-width="5.52"/>
<path d="M87.3,148.2 L86,147.6 L84.6,147 L83.2,146.4 L81.8,145.8" stroke="#4e4e4e" stroke-width="5.52"/>
<path d="M83.2,146.4 L81.8,145.8 L80.5,145.2 L79.1,144.5 L77.7,143.9" stroke="#4d4d4d" stroke-width="5.52"/>
<path d="M79.1,144.5 L77.7,143.9 L76.3,143.2 L75,142.5 L73.6,141.8" stroke="#4c4c4c" stroke-width="5.52"/>
<path d="M75,142.5 L73.6,141.8 L72.2,141.1 L70.8,140.4 L69.5,139.7" stroke="#494949" stroke-width="5.52"/>
<path d="M70.8,140.4 L69.5,139.7 L68.1,139 L66.7,138.3 L65.4,137.5" stroke="#484848" stroke-width="5.52"/>
<path d="M66.7,138.3 L65.4,137.5 L64,136.8 L62.6,136 L61.3,135.2" stroke="#474747" stroke-width="5.52"/>
<path d="M62.6,136 L61.3,135.2 L59.9,134.5 L58.6,133.7 L57.2,132.9" stroke="#464646" stroke-width="5.52"/>
<path d="M58.6,133.7 L57.2,132.9 L55.9,132.1 L54.5,131.2 L53.2,130.4" stroke="#454545" stroke-width="5.52"/>
<path d="M54.5,131.2 L53.2,130.4 L51.9,129.6 L50.6,128.7 L49.2,127.9" stroke="#454545" stroke-width="5.52"/>
<path d="M50.6,128.7 L49.2,127.9 L47.9,127 L46.6,126.2 L45.3,125.3" stroke="#444444" stroke-width="5.52"/>
<path d="M46.6,126.2 L45.3,125.3 L44,124.4 L42.7,123.5 L41.4,122.6" stroke="#444444" stroke-width="5.52"/>
<path d="M42.7,123.5 L41.4,122.6 L40.1,121.7 L38.9,120.8 L37.6,119.9" stroke="#434343" stroke-width="5.52"/>
<path d="M38.9,120.8 L37.6,119.9 L36.3,119 L35.1,118 L33.8,117.1" stroke="#424242" stroke-width="5.52"/>
<path d="M35.1,118 L33.8,117.1 L32.6,116.2 L31.4,115.2 L30.1,114.3" stroke="#424242" stroke-width="5.52"/>
<path d="M31.4,115.2 L30.1,114.3 L28.9,113.3 L27.7,112.3 L26.5,111.4" stroke="#414141" stroke-width="5.52"/>
<path d="M27.7,112.3 L26.5,111.4 L25.3,110.4 L24.1,109.4 L23,108.4" stroke="#414141" stroke-width="5.52"/>
<path d="M24.1,109.4 L23,108.4 L21.8,107.5 L20.7,106.5 L19.5,105.5" stroke="#404040" stroke-width="5.52"/>
<path d="M20.7,106.5 L19.5,105.5 L18.4,104.5 L17.3,103.5 L16.2,102.4" stroke="#404040" stroke-width="5.52"/>
<path d="M17.3,103.5 L16.2,102.4 L15.1,101.4 L14,100.4 L12.9,99.4" stroke="#404040" stroke-width="5.52"/>
<path d="M14,100.4 L12.9,99.4 L11.8,98.4 L10.8,97.4 L9.7,96.3" stroke="#404040" stroke-width="5.52"/>
<path d="M10.8,97.4 L9.7,96.3 L8.7,95.3 L7.7,94.3 L6.7,93.2" stroke="#3f3f3f" stroke-width="5.52"/>
<path d="M7.7,94.3 L6.7,93.2 L5.7,92.2 L4.7,91.2 L3.7,90.1" stroke="#3f3f3f" stroke-width="5.52"/>
<path d="M4.7,91.2 L3.7,90.1 L2.8,89.1 L1.9,88 L0.9,87" stroke="#3f3f3f" stroke-width="5.52"/>
<path d="M1.9,88 L0.9,87 L0,86 L-0.9,84.9 L-1.8,83.9" stroke="#3f3f3f" stroke-width="5.44"/>
<path d="M-0.9,84.9 L-1.8,83.9 L-2.7,82.8 L-3.5,81.8 L-4.4,80.7" stroke="#3f3f3f" stroke-width="5.20"/>
<path d="M-3.5,81.8 L-4.4,80.7 L-5.2,79.7 L-6,78.6 L-6.8,77.6" stroke="#3f3f3f" stroke-width="5.20"/>
<path d="M-6,78.6 L-6.8,77.6 L-7.6,76.5 L-8.4,75.5 L-9.1,74.5" stroke="#3f3f3f" stroke-width="5.20"/>
<path d="M-8.4,75.5 L-9.1,74.5 L-9.9,73.4 L-10.6,72.4 L-11.3,71.3" stroke="#3f3f3f" stroke-width="5.20"/>
<path d="M-10.6,72.4 L-11.3,71.3 L-12,70.3 L-12.7,69.3 L-13.4,68.2" stroke="#3f3f3f" stroke-width="5.20"/>
<path d="M-12.7,69.3 L-13.4,68.2 L-14,67.2 L-14.7,66.2 L-15.3,65.2" stroke="#3f3f3f" stroke-width="5.20"/>
<path d="M-14.7,66.2 L-15.3,65.2 L-15.9,64.1 L-16.5,63.1 L-17,62.1" stroke="#3f3f3f" stroke-width="5.20"/>
<path d="M-16.5,63.1 L-17,62.1 L-17.6,61.1 L-18.1,60.1 L-18.6,59.1" stroke="#3f3f3f" stroke-width="5.20"/>
<path d="M-18.1,60.1 L-18.6,59.1 L-19.2,58.1 L-19.6,57.1 L-20.1,56.1" stroke="#3f3f3f" stroke-width="5.20"/>
<path d="M-19.6,57.1 L-20.1,56.1 L-20.6,55.1 L-21,54.1 L-21.4,53.1" stroke="#3f3f3f" stroke-width="5.26"/>
<path d="M-21,54.1 L-21.4,53.1 L-21.8,52.2 L-22.2,51.2 L-22.6,50.2" stroke="#3f3f3f" stroke-width="5.49"/>
<path d="M-22.2,51.2 L-22.6,50.2 L-22.9,49.3 L-23.3,48.3 L-23.6,47.4" stroke="#3f3f3f" stroke-width="5.74"/>
<path d="M-23.3,48.3 L-23.6,47.4 L-23.9,46.4 L-24.1,45.5 L-24.4,44.6" stroke="#404040" stroke-width="6.00"/>
<path d="M-24.1,45.5 L-24.4,44.6 L-24.6,43.6 L-24.9,42.7 L-25.1,41.8" stroke="#404040" stroke-width="6.25"/>
<path d="M-24.9,42.7 L-25.1,41.8 L-25.3,40.9 L-25.4,40 L-25.6,39.1" stroke="#404040" stroke-width="6.51"/>
<path d="M-25.4,40 L-25.6,39.1 L-25.7,38.3 L-25.9,37.4 L-26,36.5" stroke="#414141" stroke-width="6.76"/>
<path d="M-25.9,37.4 L-26,36.5 L-26,35.7 L-26.1,34.8 L-26.2,34" stroke="#414141" stroke-width="7.02"/>
<path d="M-26.1,34.8 L-26.2,34 L-26.2,33.1 L-26.2,32.3 L-26.2,31.5" stroke="#414141" stroke-width="7.35"/>
<path d="M-26.2,32.3 L-26.2,31.5 L-26.2,30.7 L-26.1,29.9 L-26.1,29.1" stroke="#414141" stroke-width="7.78"/>
<path d="M-26.1,29.9 L-26.1,29.1 L-26,28.3 L-25.9,27.5 L-25.8,26.8" stroke="#424242" stroke-width="8.20"/>
<path d="M-25.9,27.5 L-25.8,26.8 L-25.6,26 L-25.5,25.3 L-25.3,24.5" stroke="#424242" stroke-width="8.63"/>
<path d="M-25.5,25.3 L-25.3,24.5 L-25.1,23.8 L-24.9,23.1 L-24.7,22.4" stroke="#434343" stroke-width="9.05"/>
<path d="M-24.9,23.1 L-24.7,22.4 L-24.5,21.7 L-24.2,21 L-23.9,20.3" stroke="#434343" stroke-width="9.48"/>
<path d="M-24.2,21 L-23.9,20.3 L-23.7,19.7 L-23.3,19 L-23,18.4" stroke="#444444" stroke-width="9.91"/>
<path d="M-23.3,19 L-23,18.4 L-22.7,17.7 L-22.3,17.1 L-21.9,16.5" stroke="#444444" stroke-width="10.30"/>
<path d="M-22.3,17.1 L-21.9,16.5 L-21.5,15.9 L-21.1,15.3 L-20.7,14.8" stroke="#444444" stroke-width="10.49"/>
<path d="M-21.1,15.3 L-20.7,14.8 L-20.2,14.2 L-19.8,13.6 L-19.3,13.1" stroke="#454545" stroke-width="10.59"/>
<path d="M-19.8,13.6 L-19.3,13.1 L-18.8,12.6 L-18.3,12.1 L-17.7,11.6" stroke="#454545" stroke-width="10.69"/>
<path d="M-18.3,12.1 L-17.7,11.6 L-17.2,11.1 L-16.6,10.6 L-16,10.1" stroke="#464646" stroke-width="10.79"/>
<path d="M-16.6,10.6 L-16,10.1 L-15.4,9.7 L-14.8,9.2 L-14.2,8.8" stroke="#464646" stroke-width="10.89"/>
<path d="M-14.8,9.2 L-14.2,8.8 L-13.6,8.4 L-12.9,8 L-12.2,7.6" stroke="#464646" stroke-width="11.00"/>
<path d="M-12.9,8 L-12.2,7.6 L-11.5,7.2 L-10.8,6.8 L-10.1,6.5" stroke="#464646" stroke-width="11.10"/>
<path d="M-10.8,6.8 L-10.1,6.5 L-9.3,6.1 L-8.6,5.8 L-7.8,5.5" stroke="#464646" stroke-width="11.20"/>
<path d="M-8.6,5.8 L-7.8,5.5 L-7,5.2 L-6.2,4.9 L-5.4,4.6" stroke="#464646" stroke-width="11.30"/>
<path d="M-6.2,4.9 L-5.4,4.6 L-4.6,4.3 L-3.8,4.1 L-2.9,3.8" stroke="#464646" stroke-width="11.40"/>
<path d="M-3.8,4.1 L-2.9,3.8 L-2,3.6 L-1.1,3.4 L-0.2,3.2" stroke="#464646" stroke-width="11.51"/>
<path d="M-1.1,3.4 L-0.2,3.2 L0.7,3 L1.6,2.9 L2.5,2.7" stroke="#434343" stroke-width="8.55"/>
<path d="M1.6,2.9 L2.5,2.7 L3.5,2.6 L4.4,2.4 L5.4,2.3" stroke="#3f3f3f" stroke-width="5.52"/>
<path d="M4.4,2.4 L5.4,2.3 L6.4,2.2 L7.4,2.1 L8.4,2" stroke="#3f3f3f" stroke-width="5.52"/>
<path d="M7.4,2.1 L8.4,2 L9.5,2 L10.5,1.9 L11.5,1.9" stroke="#3f3f3f" stroke-width="5.52"/>
<path d="M10.5,1.9 L11.5,1.9 L12.6,1.9 L13.7,1.9" stroke="#404040" stroke-width="5.52"/>
<path d="M181.4,115.2 L180.1,114.3 L178.9,113.3 L177.7,112.3 L176.5,111.4" stroke="#414141" stroke-width="5.52"/>
<path d="M177.7,112.3 L176.5,111.4 L175.3,110.4 L174.1,109.4 L173,108.4" stroke="#414141" stroke-width="5.52"/>
<path d="M174.1,109.4 L173,108.4 L171.8,107.5 L170.7,106.5 L169.5,105.5" stroke="#404040" stroke-width="5.52"/>
<path d="M170.7,106.5 L169.5,105.5 L168.4,104.5 L167.3,103.5 L166.2,102.4" stroke="#404040" stroke-width="5.52"/>
<path d="M167.3,103.5 L166.2,102.4 L165.1,101.4 L164,100.4 L162.9,99.4" stroke="#404040" stroke-width="5.52"/>
<path d="M164,100.4 L162.9,99.4 L161.8,98.4 L160.8,97.4 L159.7,96.3" stroke="#404040" stroke-width="5.52"/>
<path d="M160.8,97.4 L159.7,96.3 L158.7,95.3 L157.7,94.3 L156.7,93.2" stroke="#3f3f3f" stroke-width="5.52"/>
<path d="M157.7,94.3 L156.7,93.2 L155.7,92.2 L154.7,91.2 L153.7,90.1" stroke="#3f3f3f" stroke-width="5.52"/>
<path d="M154.7,91.2 L153.7,90.1 L152.8,89.1 L151.9,88 L150.9,87" stroke="#3f3f3f" stroke-width="5.52"/>
<path d="M151.9,88 L150.9,87 L150,86 L149.1,84.9 L148.2,83.9" stroke="#3f3f3f" stroke-width="5.44"/>
<path d="M149.1,84.9 L148.2,83.9 L147.3,82.8 L146.5,81.8 L145.6,80.7" stroke="#3f3f3f" stroke-width="5.20"/>
<path d="M146.5,81.8 L145.6,80.7 L144.8,79.7 L144,78.6 L143.2,77.6" stroke="#3f3f3f" stroke-width="5.20"/>
<path d="M144,78.6 L143.2,77.6 L142.4,76.5 L141.6,75.5 L140.9,74.5" stroke="#3f3f3f" stroke-width="5.20"/>
<path d="M141.6,75.5 L140.9,74.5 L140.1,73.4 L139.4,72.4 L138.7,71.3" stroke="#3f3f3f" stroke-width="5.20"/>
<path d="M139.4,72.4 L138.7,71.3 L138,70.3 L137.3,69.3 L136.6,68.2" stroke="#3f3f3f" stroke-width="5.20"/>
<path d="M137.3,69.3 L136.6,68.2 L136,67.2 L135.3,66.2 L134.7,65.2" stroke="#3f3f3f" stroke-width="5.20"/>
<path d="M135.3,66.2 L134.7,65.2 L134.1,64.1 L133.5,63.1 L133,62.1" stroke="#3f3f3f" stroke-width="5.20"/>
<path d="M133.5,63.1 L133,62.1 L132.4,61.1 L131.9,60.1 L131.4,59.1" stroke="#3f3f3f" stroke-width="5.20"/>
<path d="M131.9,60.1 L131.4,59.1 L130.8,58.1 L130.4,57.1 L129.9,56.1" stroke="#3f3f3f" stroke-width="5.20"/>
<path d="M130.4,57.1 L129.9,56.1 L129.4,55.1 L129,54.1 L128.6,53.1" stroke="#3f3f3f" stroke-width="5.26"/>
<path d="M129,54.1 L128.6,53.1 L128.2,52.2 L127.8,51.2 L127.4,50.2" stroke="#3f3f3f" stroke-width="5.49"/>
<path d="M127.8,51.2 L127.4,50.2 L127.1,49.3 L126.7,48.3 L126.4,47.4" stroke="#3f3f3f" stroke-width="5.74"/>
<path d="M126.7,48.3 L126.4,47.4 L126.1,46.4 L125.9,45.5 L125.6,44.6" stroke="#404040" stroke-width="6.00"/>
<path d="M125.9,45.5 L125.6,44.6 L125.4,43.6 L125.1,42.7 L124.9,41.8" stroke="#404040" stroke-width="6.25"/>
<path d="M125.1,42.7 L124.9,41.8 L124.7,40.9 L124.6,40 L124.4,39.1" stroke="#404040" stroke-width="6.51"/>
<path d="M124.6,40 L124.4,39.1 L124.3,38.3 L124.1,37.4 L124,36.5" stroke="#414141" stroke-width="6.76"/>
<path d="M124.1,37.4 L124,36.5 L124,35.7 L123.9,34.8 L123.8,34" stroke="#414141" stroke-width="7.02"/>
<path d="M123.9,34.8 L123.8,34 L123.8,33.1 L123.8,32.3 L123.8,31.5" stroke="#414141" stroke-width="7.35"/>
<path d="M123.8,32.3 L123.8,31.5 L123.8,30.7 L123.9,29.9 L123.9,29.1" stroke="#414141" stroke-width="7.78"/>
<path d="M123.9,29.9 L123.9,29.1 L124,28.3 L124.1,27.5 L124.2,26.8" stroke="#424242" stroke-width="8.20"/>
<path d="M124.1,27.5 L124.2,26.8 L124.4,26 L124.5,25.3 L124.7,24.5" stroke="#424242" stroke-width="8.63"/>
<path d="M124.5,25.3 L124.7,24.5 L124.9,23.8 L125.1,23.1 L125.3,22.4" stroke="#434343" stroke-width="9.05"/>
<path d="M125.1,23.1 L125.3,22.4 L125.5,21.7 L125.8,21 L126.1,20.3" stroke="#434343" stroke-width="9.48"/>
<path d="M125.8,21 L126.1,20.3 L126.3,19.7 L126.7,19 L127,18.4" stroke="#444444" stroke-width="9.91"/>
<path d="M126.7,19 L127,18.4 L127.3,17.7 L127.7,17.1 L128.1,16.5" stroke="#444444" stroke-width="10.30"/>
<path d="M127.7,17.1 L128.1,16.5 L128.5,15.9 L128.9,15.3 L129.3,14.8" stroke="#444444" stroke-width="10.49"/>
<path d="M128.9,15.3 L129.3,14.8 L129.8,14.2 L130.2,13.6 L130.7,13.1" stroke="#454545" stroke-width="10.59"/>
<path d="M130.2,13.6 L130.7,13.1 L131.2,12.6 L131.7,12.1 L132.3,11.6" stroke="#454545" stroke-width="10.69"/>
<path d="M131.7,12.1 L132.3,11.6 L132.8,11.1 L133.4,10.6 L134,10.1" stroke="#464646" stroke-width="10.79"/>
<path d="M133.4,10.6 L134,10.1 L134.6,9.7 L135.2,9.2 L135.8,8.8" stroke="#464646" stroke-width="10.89"/>
<path d="M135.2,9.2 L135.8,8.8 L136.4,8.4 L137.1,8 L137.8,7.6" stroke="#464646" stroke-width="11.00"/>
<path d="M137.1,8 L137.8,7.6 L138.5,7.2 L139.2,6.8 L139.9,6.5" stroke="#464646" stroke-width="11.10"/>
<path d="M139.2,6.8 L139.9,6.5 L140.7,6.1 L141.4,5.8 L142.2,5.5" stroke="#464646" stroke-width="11.20"/>
<path d="M141.4,5.8 L142.2,5.5 L143,5.2 L143.8,4.9 L144.6,4.6" stroke="#464646" stroke-width="11.30"/>
<path d="M143.8,4.9 L144.6,4.6 L145.4,4.3 L146.2,4.1 L147.1,3.8" stroke="#464646" stroke-width="11.40"/>
<path d="M146.2,4.1 L147.1,3.8 L148,3.6 L148.9,3.4 L149.8,3.2" stroke="#464646" stroke-width="11.51"/>
<path d="M148.9,3.4 L149.8,3.2 L150.7,3 L151.6,2.9 L152.5,2.7" stroke="#434343" stroke-width="8.55"/>
<path d="M151.6,2.9 L152.5,2.7 L153.5,2.6 L154.4,2.4 L155.4,2.3" stroke="#3f3f3f" stroke-width="5.52"/>
<path d="M154.4,2.4 L155.4,2.3 L156.4,2.2 L157.4,2.1 L158.4,2" stroke="#3f3f3f" stroke-width="5.52"/>
<path d="M157.4,2.1 L158.4,2 L159.5,2 L160.5,1.9 L161.5,1.9" stroke="#3f3f3f" stroke-width="5.52"/>
<path d="M160.5,1.9 L161.5,1.9 L162.6,1.9 L163.7,1.9" stroke="#404040" stroke-width="5.52"/>
</g>
<g filter="url(#b12)" fill="none" stroke-linecap="round" stroke-linejoin="round">
<path d="M144.1,161.7 L143,161.7 L141.9,161.6 L140.8,161.6 L139.7,161.6" stroke="#565656" stroke-width="2.72"/>
<path d="M140.8,161.6 L139.7,161.6 L138.6,161.5 L137.4,161.4 L136.3,161.3" stroke="#595959" stroke-width="2.72"/>
<path d="M137.4,161.4 L136.3,161.3 L135.1,161.2 L134,161.1 L132.8,161" stroke="#5c5c5c" stroke-width="2.72"/>
<path d="M134,161.1 L132.8,161 L131.6,160.8 L130.4,160.7 L129.2,160.5" stroke="#5f5f5f" stroke-width="2.72"/>
<path d="M130.4,160.7 L129.2,160.5 L128,160.3 L126.8,160.1 L125.6,159.9" stroke="#636363" stroke-width="2.72"/>
<path d="M126.8,160.1 L125.6,159.9 L124.3,159.7 L123.1,159.5 L121.8,159.2" stroke="#676767" stroke-width="2.72"/>
<path d="M123.1,159.5 L121.8,159.2 L120.6,158.9 L119.3,158.7 L118,158.4" stroke="#6b6b6b" stroke-width="2.72"/>
<path d="M119.3,158.7 L118,158.4 L116.7,158.1 L115.5,157.8 L114.2,157.4" stroke="#6f6f6f" stroke-width="2.72"/>
<path d="M115.5,157.8 L114.2,157.4 L112.9,157.1 L111.6,156.7 L110.2,156.4" stroke="#727272" stroke-width="2.72"/>
<path d="M111.6,156.7 L110.2,156.4 L108.9,156 L107.6,155.6 L106.3,155.2" stroke="#737373" stroke-width="2.72"/>
<path d="M107.6,155.6 L106.3,155.2 L105,154.8 L103.6,154.3 L102.3,153.9" stroke="#737373" stroke-width="2.72"/>
<path d="M103.6,154.3 L102.3,153.9 L100.9,153.4 L99.6,153 L98.2,152.5" stroke="#747474" stroke-width="2.72"/>
<path d="M99.6,153 L98.2,152.5 L96.9,152 L95.5,151.5 L94.2,151" stroke="#757575" stroke-width="2.72"/>
<path d="M95.5,151.5 L94.2,151 L92.8,150.4 L91.4,149.9 L90.1,149.3" stroke="#757575" stroke-width="2.72"/>
<path d="M91.4,149.9 L90.1,149.3 L88.7,148.8 L87.3,148.2 L86,147.6" stroke="#737373" stroke-width="2.72"/>
<path d="M87.3,148.2 L86,147.6 L84.6,147 L83.2,146.4 L81.8,145.8" stroke="#717171" stroke-width="2.72"/>
<path d="M83.2,146.4 L81.8,145.8 L80.5,145.2 L79.1,144.5 L77.7,143.9" stroke="#6f6f6f" stroke-width="2.72"/>
<path d="M79.1,144.5 L77.7,143.9 L76.3,143.2 L75,142.5 L73.6,141.8" stroke="#6c6c6c" stroke-width="2.72"/>
<path d="M75,142.5 L73.6,141.8 L72.2,141.1 L70.8,140.4 L69.5,139.7" stroke="#666666" stroke-width="2.72"/>
<path d="M70.8,140.4 L69.5,139.7 L68.1,139 L66.7,138.3 L65.4,137.5" stroke="#636363" stroke-width="2.72"/>
<path d="M66.7,138.3 L65.4,137.5 L64,136.8 L62.6,136 L61.3,135.2" stroke="#616161" stroke-width="2.72"/>
<path d="M62.6,136 L61.3,135.2 L59.9,134.5 L58.6,133.7 L57.2,132.9" stroke="#5f5f5f" stroke-width="2.72"/>
<path d="M58.6,133.7 L57.2,132.9 L55.9,132.1 L54.5,131.2 L53.2,130.4" stroke="#5d5d5d" stroke-width="2.72"/>
<path d="M54.5,131.2 L53.2,130.4 L51.9,129.6 L50.6,128.7 L49.2,127.9" stroke="#5c5c5c" stroke-width="2.72"/>
<path d="M50.6,128.7 L49.2,127.9 L47.9,127 L46.6,126.2 L45.3,125.3" stroke="#5a5a5a" stroke-width="2.72"/>
<path d="M46.6,126.2 L45.3,125.3 L44,124.4 L42.7,123.5 L41.4,122.6" stroke="#595959" stroke-width="2.72"/>
<path d="M42.7,123.5 L41.4,122.6 L40.1,121.7 L38.9,120.8 L37.6,119.9" stroke="#575757" stroke-width="2.72"/>
<path d="M38.9,120.8 L37.6,119.9 L36.3,119 L35.1,118 L33.8,117.1" stroke="#565656" stroke-width="2.72"/>
<path d="M35.1,118 L33.8,117.1 L32.6,116.2 L31.4,115.2 L30.1,114.3" stroke="#555555" stroke-width="2.72"/>
<path d="M31.4,115.2 L30.1,114.3 L28.9,113.3 L27.7,112.3 L26.5,111.4" stroke="#535353" stroke-width="2.72"/>
<path d="M27.7,112.3 L26.5,111.4 L25.3,110.4 L24.1,109.4 L23,108.4" stroke="#525252" stroke-width="2.72"/>
<path d="M24.1,109.4 L23,108.4 L21.8,107.5 L20.7,106.5 L19.5,105.5" stroke="#515151" stroke-width="2.72"/>
<path d="M20.7,106.5 L19.5,105.5 L18.4,104.5 L17.3,103.5 L16.2,102.4" stroke="#505050" stroke-width="2.72"/>
<path d="M17.3,103.5 L16.2,102.4 L15.1,101.4 L14,100.4 L12.9,99.4" stroke="#505050" stroke-width="2.72"/>
<path d="M14,100.4 L12.9,99.4 L11.8,98.4 L10.8,97.4 L9.7,96.3" stroke="#4f4f4f" stroke-width="2.72"/>
<path d="M10.8,97.4 L9.7,96.3 L8.7,95.3 L7.7,94.3 L6.7,93.2" stroke="#4f4f4f" stroke-width="2.72"/>
<path d="M7.7,94.3 L6.7,93.2 L5.7,92.2 L4.7,91.2 L3.7,90.1" stroke="#4e4e4e" stroke-width="2.72"/>
<path d="M4.7,91.2 L3.7,90.1 L2.8,89.1 L1.9,88 L0.9,87" stroke="#4e4e4e" stroke-width="2.72"/>
<path d="M1.9,88 L0.9,87 L0,86 L-0.9,84.9 L-1.8,83.9" stroke="#4d4d4d" stroke-width="2.68"/>
<path d="M-0.9,84.9 L-1.8,83.9 L-2.7,82.8 L-3.5,81.8 L-4.4,80.7" stroke="#4d4d4d" stroke-width="2.56"/>
<path d="M-3.5,81.8 L-4.4,80.7 L-5.2,79.7 L-6,78.6 L-6.8,77.6" stroke="#4d4d4d" stroke-width="2.56"/>
<path d="M-6,78.6 L-6.8,77.6 L-7.6,76.5 L-8.4,75.5 L-9.1,74.5" stroke="#4d4d4d" stroke-width="2.56"/>
<path d="M-8.4,75.5 L-9.1,74.5 L-9.9,73.4 L-10.6,72.4 L-11.3,71.3" stroke="#4d4d4d" stroke-width="2.56"/>
<path d="M-10.6,72.4 L-11.3,71.3 L-12,70.3 L-12.7,69.3 L-13.4,68.2" stroke="#4d4d4d" stroke-width="2.56"/>
<path d="M-12.7,69.3 L-13.4,68.2 L-14,67.2 L-14.7,66.2 L-15.3,65.2" stroke="#4d4d4d" stroke-width="2.56"/>
<path d="M-14.7,66.2 L-15.3,65.2 L-15.9,64.1 L-16.5,63.1 L-17,62.1" stroke="#4d4d4d" stroke-width="2.56"/>
<path d="M-16.5,63.1 L-17,62.1 L-17.6,61.1 L-18.1,60.1 L-18.6,59.1" stroke="#4d4d4d" stroke-width="2.56"/>
<path d="M-18.1,60.1 L-18.6,59.1 L-19.2,58.1 L-19.6,57.1 L-20.1,56.1" stroke="#4d4d4d" stroke-width="2.56"/>
<path d="M-19.6,57.1 L-20.1,56.1 L-20.6,55.1 L-21,54.1 L-21.4,53.1" stroke="#4d4d4d" stroke-width="2.59"/>
<path d="M-21,54.1 L-21.4,53.1 L-21.8,52.2 L-22.2,51.2 L-22.6,50.2" stroke="#4e4e4e" stroke-width="2.70"/>
<path d="M-22.2,51.2 L-22.6,50.2 L-22.9,49.3 L-23.3,48.3 L-23.6,47.4" stroke="#4f4f4f" stroke-width="2.83"/>
<path d="M-23.3,48.3 L-23.6,47.4 L-23.9,46.4 L-24.1,45.5 L-24.4,44.6" stroke="#4f4f4f" stroke-width="2.95"/>
<path d="M-24.1,45.5 L-24.4,44.6 L-24.6,43.6 L-24.9,42.7 L-25.1,41.8" stroke="#505050" stroke-width="3.08"/>
<path d="M-24.9,42.7 L-25.1,41.8 L-25.3,40.9 L-25.4,40 L-25.6,39.1" stroke="#515151" stroke-width="3.20"/>
<path d="M-25.4,40 L-25.6,39.1 L-25.7,38.3 L-25.9,37.4 L-26,36.5" stroke="#525252" stroke-width="3.33"/>
<path d="M-25.9,37.4 L-26,36.5 L-26,35.7 L-26.1,34.8 L-26.2,34" stroke="#525252" stroke-width="3.45"/>
<path d="M-26.1,34.8 L-26.2,34 L-26.2,33.1 L-26.2,32.3 L-26.2,31.5" stroke="#535353" stroke-width="3.62"/>
<path d="M-26.2,32.3 L-26.2,31.5 L-26.2,30.7 L-26.1,29.9 L-26.1,29.1" stroke="#545454" stroke-width="3.83"/>
<path d="M-26.1,29.9 L-26.1,29.1 L-26,28.3 L-25.9,27.5 L-25.8,26.8" stroke="#545454" stroke-width="4.04"/>
<path d="M-25.9,27.5 L-25.8,26.8 L-25.6,26 L-25.5,25.3 L-25.3,24.5" stroke="#555555" stroke-width="4.25"/>
<path d="M-25.5,25.3 L-25.3,24.5 L-25.1,23.8 L-24.9,23.1 L-24.7,22.4" stroke="#575757" stroke-width="4.46"/>
<path d="M-24.9,23.1 L-24.7,22.4 L-24.5,21.7 L-24.2,21 L-23.9,20.3" stroke="#585858" stroke-width="4.67"/>
<path d="M-24.2,21 L-23.9,20.3 L-23.7,19.7 L-23.3,19 L-23,18.4" stroke="#595959" stroke-width="4.88"/>
<path d="M-23.3,19 L-23,18.4 L-22.7,17.7 L-22.3,17.1 L-21.9,16.5" stroke="#5a5a5a" stroke-width="5.07"/>
<path d="M-22.3,17.1 L-21.9,16.5 L-21.5,15.9 L-21.1,15.3 L-20.7,14.8" stroke="#5b5b5b" stroke-width="5.16"/>
<path d="M-21.1,15.3 L-20.7,14.8 L-20.2,14.2 L-19.8,13.6 L-19.3,13.1" stroke="#5c5c5c" stroke-width="5.21"/>
<path d="M-19.8,13.6 L-19.3,13.1 L-18.8,12.6 L-18.3,12.1 L-17.7,11.6" stroke="#5d5d5d" stroke-width="5.26"/>
<path d="M-18.3,12.1 L-17.7,11.6 L-17.2,11.1 L-16.6,10.6 L-16,10.1" stroke="#5e5e5e" stroke-width="5.31"/>
<path d="M-16.6,10.6 L-16,10.1 L-15.4,9.7 L-14.8,9.2 L-14.2,8.8" stroke="#5f5f5f" stroke-width="5.36"/>
<path d="M-14.8,9.2 L-14.2,8.8 L-13.6,8.4 L-12.9,8 L-12.2,7.6" stroke="#5f5f5f" stroke-width="5.41"/>
<path d="M-12.9,8 L-12.2,7.6 L-11.5,7.2 L-10.8,6.8 L-10.1,6.5" stroke="#5f5f5f" stroke-width="5.46"/>
<path d="M-10.8,6.8 L-10.1,6.5 L-9.3,6.1 L-8.6,5.8 L-7.8,5.5" stroke="#5f5f5f" stroke-width="5.51"/>
<path d="M-8.6,5.8 L-7.8,5.5 L-7,5.2 L-6.2,4.9 L-5.4,4.6" stroke="#5f5f5f" stroke-width="5.56"/>
<path d="M-6.2,4.9 L-5.4,4.6 L-4.6,4.3 L-3.8,4.1 L-2.9,3.8" stroke="#5f5f5f" stroke-width="5.61"/>
<path d="M-3.8,4.1 L-2.9,3.8 L-2,3.6 L-1.1,3.4 L-0.2,3.2" stroke="#5f5f5f" stroke-width="5.66"/>
<path d="M-1.1,3.4 L-0.2,3.2 L0.7,3 L1.6,2.9 L2.5,2.7" stroke="#565656" stroke-width="4.21"/>
<path d="M1.6,2.9 L2.5,2.7 L3.5,2.6 L4.4,2.4 L5.4,2.3" stroke="#4e4e4e" stroke-width="2.72"/>
<path d="M4.4,2.4 L5.4,2.3 L6.4,2.2 L7.4,2.1 L8.4,2" stroke="#4e4e4e" stroke-width="2.72"/>
<path d="M7.4,2.1 L8.4,2 L9.5,2 L10.5,1.9 L11.5,1.9" stroke="#4f4f4f" stroke-width="2.72"/>
<path d="M10.5,1.9 L11.5,1.9 L12.6,1.9 L13.7,1.9" stroke="#4f4f4f" stroke-width="2.72"/>
<path d="M181.4,115.2 L180.1,114.3 L178.9,113.3 L177.7,112.3 L176.5,111.4" stroke="#535353" stroke-width="2.72"/>
<path d="M177.7,112.3 L176.5,111.4 L175.3,110.4 L174.1,109.4 L173,108.4" stroke="#525252" stroke-width="2.72"/>
<path d="M174.1,109.4 L173,108.4 L171.8,107.5 L170.7,106.5 L169.5,105.5" stroke="#515151" stroke-width="2.72"/>
<path d="M170.7,106.5 L169.5,105.5 L168.4,104.5 L167.3,103.5 L166.2,102.4" stroke="#505050" stroke-width="2.72"/>
<path d="M167.3,103.5 L166.2,102.4 L165.1,101.4 L164,100.4 L162.9,99.4" stroke="#505050" stroke-width="2.72"/>
<path d="M164,100.4 L162.9,99.4 L161.8,98.4 L160.8,97.4 L159.7,96.3" stroke="#4f4f4f" stroke-width="2.72"/>
<path d="M160.8,97.4 L159.7,96.3 L158.7,95.3 L157.7,94.3 L156.7,93.2" stroke="#4f4f4f" stroke-width="2.72"/>
<path d="M157.7,94.3 L156.7,93.2 L155.7,92.2 L154.7,91.2 L153.7,90.1" stroke="#4e4e4e" stroke-width="2.72"/>
<path d="M154.7,91.2 L153.7,90.1 L152.8,89.1 L151.9,88 L150.9,87" stroke="#4e4e4e" stroke-width="2.72"/>
<path d="M151.9,88 L150.9,87 L150,86 L149.1,84.9 L148.2,83.9" stroke="#4d4d4d" stroke-width="2.68"/>
<path d="M149.1,84.9 L148.2,83.9 L147.3,82.8 L146.5,81.8 L145.6,80.7" stroke="#4d4d4d" stroke-width="2.56"/>
<path d="M146.5,81.8 L145.6,80.7 L144.8,79.7 L144,78.6 L143.2,77.6" stroke="#4d4d4d" stroke-width="2.56"/>
<path d="M144,78.6 L143.2,77.6 L142.4,76.5 L141.6,75.5 L140.9,74.5" stroke="#4d4d4d" stroke-width="2.56"/>
<path d="M141.6,75.5 L140.9,74.5 L140.1,73.4 L139.4,72.4 L138.7,71.3" stroke="#4d4d4d" stroke-width="2.56"/>
<path d="M139.4,72.4 L138.7,71.3 L138,70.3 L137.3,69.3 L136.6,68.2" stroke="#4d4d4d" stroke-width="2.56"/>
<path d="M137.3,69.3 L136.6,68.2 L136,67.2 L135.3,66.2 L134.7,65.2" stroke="#4d4d4d" stroke-width="2.56"/>
<path d="M135.3,66.2 L134.7,65.2 L134.1,64.1 L133.5,63.1 L133,62.1" stroke="#4d4d4d" stroke-width="2.56"/>
<path d="M133.5,63.1 L133,62.1 L132.4,61.1 L131.9,60.1 L131.4,59.1" stroke="#4d4d4d" stroke-width="2.56"/>
<path d="M131.9,60.1 L131.4,59.1 L130.8,58.1 L130.4,57.1 L129.9,56.1" stroke="#4d4d4d" stroke-width="2.56"/>
<path d="M130.4,57.1 L129.9,56.1 L129.4,55.1 L129,54.1 L128.6,53.1" stroke="#4d4d4d" stroke-width="2.59"/>
<path d="M129,54.1 L128.6,53.1 L128.2,52.2 L127.8,51.2 L127.4,50.2" stroke="#4e4e4e" stroke-width="2.70"/>
<path d="M127.8,51.2 L127.4,50.2 L127.1,49.3 L126.7,48.3 L126.4,47.4" stroke="#4f4f4f" stroke-width="2.83"/>
<path d="M126.7,48.3 L126.4,47.4 L126.1,46.4 L125.9,45.5 L125.6,44.6" stroke="#4f4f4f" stroke-width="2.95"/>
<path d="M125.9,45.5 L125.6,44.6 L125.4,43.6 L125.1,42.7 L124.9,41.8" stroke="#505050" stroke-width="3.08"/>
<path d="M125.1,42.7 L124.9,41.8 L124.7,40.9 L124.6,40 L124.4,39.1" stroke="#515151" stroke-width="3.20"/>
<path d="M124.6,40 L124.4,39.1 L124.3,38.3 L124.1,37.4 L124,36.5" stroke="#525252" stroke-width="3.33"/>
<path d="M124.1,37.4 L124,36.5 L124,35.7 L123.9,34.8 L123.8,34" stroke="#525252" stroke-width="3.45"/>
<path d="M123.9,34.8 L123.8,34 L123.8,33.1 L123.8,32.3 L123.8,31.5" stroke="#535353" stroke-width="3.62"/>
<path d="M123.8,32.3 L123.8,31.5 L123.8,30.7 L123.9,29.9 L123.9,29.1" stroke="#545454" stroke-width="3.83"/>
<path d="M123.9,29.9 L123.9,29.1 L124,28.3 L124.1,27.5 L124.2,26.8" stroke="#545454" stroke-width="4.04"/>
<path d="M124.1,27.5 L124.2,26.8 L124.4,26 L124.5,25.3 L124.7,24.5" stroke="#555555" stroke-width="4.25"/>
<path d="M124.5,25.3 L124.7,24.5 L124.9,23.8 L125.1,23.1 L125.3,22.4" stroke="#575757" stroke-width="4.46"/>
<path d="M125.1,23.1 L125.3,22.4 L125.5,21.7 L125.8,21 L126.1,20.3" stroke="#585858" stroke-width="4.67"/>
<path d="M125.8,21 L126.1,20.3 L126.3,19.7 L126.7,19 L127,18.4" stroke="#595959" stroke-width="4.88"/>
<path d="M126.7,19 L127,18.4 L127.3,17.7 L127.7,17.1 L128.1,16.5" stroke="#5a5a5a" stroke-width="5.07"/>
<path d="M127.7,17.1 L128.1,16.5 L128.5,15.9 L128.9,15.3 L129.3,14.8" stroke="#5b5b5b" stroke-width="5.16"/>
<path d="M128.9,15.3 L129.3,14.8 L129.8,14.2 L130.2,13.6 L130.7,13.1" stroke="#5c5c5c" stroke-width="5.21"/>
<path d="M130.2,13.6 L130.7,13.1 L131.2,12.6 L131.7,12.1 L132.3,11.6" stroke="#5d5d5d" stroke-width="5.26"/>
<path d="M131.7,12.1 L132.3,11.6 L132.8,11.1 L133.4,10.6 L134,10.1" stroke="#5e5e5e" stroke-width="5.31"/>
<path d="M133.4,10.6 L134,10.1 L134.6,9.7 L135.2,9.2 L135.8,8.8" stroke="#5f5f5f" stroke-width="5.36"/>
<path d="M135.2,9.2 L135.8,8.8 L136.4,8.4 L137.1,8 L137.8,7.6" stroke="#5f5f5f" stroke-width="5.41"/>
<path d="M137.1,8 L137.8,7.6 L138.5,7.2 L139.2,6.8 L139.9,6.5" stroke="#5f5f5f" stroke-width="5.46"/>
<path d="M139.2,6.8 L139.9,6.5 L140.7,6.1 L141.4,5.8 L142.2,5.5" stroke="#5f5f5f" stroke-width="5.51"/>
<path d="M141.4,5.8 L142.2,5.5 L143,5.2 L143.8,4.9 L144.6,4.6" stroke="#5f5f5f" stroke-width="5.56"/>
<path d="M143.8,4.9 L144.6,4.6 L145.4,4.3 L146.2,4.1 L147.1,3.8" stroke="#5f5f5f" stroke-width="5.61"/>
<path d="M146.2,4.1 L147.1,3.8 L148,3.6 L148.9,3.4 L149.8,3.2" stroke="#5f5f5f" stroke-width="5.66"/>
<path d="M148.9,3.4 L149.8,3.2 L150.7,3 L151.6,2.9 L152.5,2.7" stroke="#565656" stroke-width="4.21"/>
<path d="M151.6,2.9 L152.5,2.7 L153.5,2.6 L154.4,2.4 L155.4,2.3" stroke="#4e4e4e" stroke-width="2.72"/>
<path d="M154.4,2.4 L155.4,2.3 L156.4,2.2 L157.4,2.1 L158.4,2" stroke="#4e4e4e" stroke-width="2.72"/>
<path d="M157.4,2.1 L158.4,2 L159.5,2 L160.5,1.9 L161.5,1.9" stroke="#4f4f4f" stroke-width="2.72"/>
<path d="M160.5,1.9 L161.5,1.9 L162.6,1.9 L163.7,1.9" stroke="#4f4f4f" stroke-width="2.72"/>
</g>
<g filter="url(#b07)" fill="none" stroke-linecap="round" stroke-linejoin="round">
<path d="M144.1,161.7 L143,161.7 L141.9,161.6 L140.8,161.6 L139.7,161.6" stroke="#777777" stroke-width="1.19"/>
<path d="M140.8,161.6 L139.7,161.6 L138.6,161.5 L137.4,161.4 L136.3,161.3" stroke="#7b7b7b" stroke-width="1.19"/>
<path d="M137.4,161.4 L136.3,161.3 L135.1,161.2 L134,161.1 L132.8,161" stroke="#808080" stroke-width="1.19"/>
<path d="M134,161.1 L132.8,161 L131.6,160.8 L130.4,160.7 L129.2,160.5" stroke="#848484" stroke-width="1.19"/>
<path d="M130.4,160.7 L129.2,160.5 L128,160.3 L126.8,160.1 L125.6,159.9" stroke="#898989" stroke-width="1.19"/>
<path d="M126.8,160.1 L125.6,159.9 L124.3,159.7 L123.1,159.5 L121.8,159.2" stroke="#8f8f8f" stroke-width="1.19"/>
<path d="M123.1,159.5 L121.8,159.2 L120.6,158.9 L119.3,158.7 L118,158.4" stroke="#949494" stroke-width="1.19"/>
<path d="M119.3,158.7 L118,158.4 L116.7,158.1 L115.5,157.8 L114.2,157.4" stroke="#9a9a9a" stroke-width="1.19"/>
<path d="M115.5,157.8 L114.2,157.4 L112.9,157.1 L111.6,156.7 L110.2,156.4" stroke="#9e9e9e" stroke-width="1.19"/>
<path d="M111.6,156.7 L110.2,156.4 L108.9,156 L107.6,155.6 L106.3,155.2" stroke="#9f9f9f" stroke-width="1.19"/>
<path d="M107.6,155.6 L106.3,155.2 L105,154.8 L103.6,154.3 L102.3,153.9" stroke="#a0a0a0" stroke-width="1.19"/>
<path d="M103.6,154.3 L102.3,153.9 L100.9,153.4 L99.6,153 L98.2,152.5" stroke="#a1a1a1" stroke-width="1.19"/>
<path d="M99.6,153 L98.2,152.5 L96.9,152 L95.5,151.5 L94.2,151" stroke="#a2a2a2" stroke-width="1.19"/>
<path d="M95.5,151.5 L94.2,151 L92.8,150.4 L91.4,149.9 L90.1,149.3" stroke="#a3a3a3" stroke-width="1.19"/>
<path d="M91.4,149.9 L90.1,149.3 L88.7,148.8 L87.3,148.2 L86,147.6" stroke="#a0a0a0" stroke-width="1.19"/>
<path d="M87.3,148.2 L86,147.6 L84.6,147 L83.2,146.4 L81.8,145.8" stroke="#9d9d9d" stroke-width="1.19"/>
<path d="M83.2,146.4 L81.8,145.8 L80.5,145.2 L79.1,144.5 L77.7,143.9" stroke="#9a9a9a" stroke-width="1.19"/>
<path d="M79.1,144.5 L77.7,143.9 L76.3,143.2 L75,142.5 L73.6,141.8" stroke="#969696" stroke-width="1.19"/>
<path d="M75,142.5 L73.6,141.8 L72.2,141.1 L70.8,140.4 L69.5,139.7" stroke="#8e8e8e" stroke-width="1.19"/>
<path d="M70.8,140.4 L69.5,139.7 L68.1,139 L66.7,138.3 L65.4,137.5" stroke="#898989" stroke-width="1.19"/>
<path d="M66.7,138.3 L65.4,137.5 L64,136.8 L62.6,136 L61.3,135.2" stroke="#878787" stroke-width="1.19"/>
<path d="M62.6,136 L61.3,135.2 L59.9,134.5 L58.6,133.7 L57.2,132.9" stroke="#848484" stroke-width="1.19"/>
<path d="M58.6,133.7 L57.2,132.9 L55.9,132.1 L54.5,131.2 L53.2,130.4" stroke="#828282" stroke-width="1.19"/>
<path d="M54.5,131.2 L53.2,130.4 L51.9,129.6 L50.6,128.7 L49.2,127.9" stroke="#7f7f7f" stroke-width="1.19"/>
<path d="M50.6,128.7 L49.2,127.9 L47.9,127 L46.6,126.2 L45.3,125.3" stroke="#7d7d7d" stroke-width="1.19"/>
<path d="M46.6,126.2 L45.3,125.3 L44,124.4 L42.7,123.5 L41.4,122.6" stroke="#7b7b7b" stroke-width="1.19"/>
<path d="M42.7,123.5 L41.4,122.6 L40.1,121.7 L38.9,120.8 L37.6,119.9" stroke="#797979" stroke-width="1.19"/>
<path d="M38.9,120.8 L37.6,119.9 L36.3,119 L35.1,118 L33.8,117.1" stroke="#777777" stroke-width="1.19"/>
<path d="M35.1,118 L33.8,117.1 L32.6,116.2 L31.4,115.2 L30.1,114.3" stroke="#757575" stroke-width="1.19"/>
<path d="M31.4,115.2 L30.1,114.3 L28.9,113.3 L27.7,112.3 L26.5,111.4" stroke="#747474" stroke-width="1.19"/>
<path d="M27.7,112.3 L26.5,111.4 L25.3,110.4 L24.1,109.4 L23,108.4" stroke="#727272" stroke-width="1.19"/>
<path d="M24.1,109.4 L23,108.4 L21.8,107.5 L20.7,106.5 L19.5,105.5" stroke="#707070" stroke-width="1.19"/>
<path d="M20.7,106.5 L19.5,105.5 L18.4,104.5 L17.3,103.5 L16.2,102.4" stroke="#6f6f6f" stroke-width="1.19"/>
<path d="M17.3,103.5 L16.2,102.4 L15.1,101.4 L14,100.4 L12.9,99.4" stroke="#6f6f6f" stroke-width="1.19"/>
<path d="M14,100.4 L12.9,99.4 L11.8,98.4 L10.8,97.4 L9.7,96.3" stroke="#6e6e6e" stroke-width="1.19"/>
<path d="M10.8,97.4 L9.7,96.3 L8.7,95.3 L7.7,94.3 L6.7,93.2" stroke="#6d6d6d" stroke-width="1.19"/>
<path d="M7.7,94.3 L6.7,93.2 L5.7,92.2 L4.7,91.2 L3.7,90.1" stroke="#6c6c6c" stroke-width="1.19"/>
<path d="M4.7,91.2 L3.7,90.1 L2.8,89.1 L1.9,88 L0.9,87" stroke="#6c6c6c" stroke-width="1.19"/>
<path d="M1.9,88 L0.9,87 L0,86 L-0.9,84.9 L-1.8,83.9" stroke="#6b6b6b" stroke-width="1.17"/>
<path d="M-0.9,84.9 L-1.8,83.9 L-2.7,82.8 L-3.5,81.8 L-4.4,80.7" stroke="#6b6b6b" stroke-width="1.12"/>
<path d="M-3.5,81.8 L-4.4,80.7 L-5.2,79.7 L-6,78.6 L-6.8,77.6" stroke="#6b6b6b" stroke-width="1.12"/>
<path d="M-6,78.6 L-6.8,77.6 L-7.6,76.5 L-8.4,75.5 L-9.1,74.5" stroke="#6b6b6b" stroke-width="1.12"/>
<path d="M-8.4,75.5 L-9.1,74.5 L-9.9,73.4 L-10.6,72.4 L-11.3,71.3" stroke="#6b6b6b" stroke-width="1.12"/>
<path d="M-10.6,72.4 L-11.3,71.3 L-12,70.3 L-12.7,69.3 L-13.4,68.2" stroke="#6b6b6b" stroke-width="1.12"/>
<path d="M-12.7,69.3 L-13.4,68.2 L-14,67.2 L-14.7,66.2 L-15.3,65.2" stroke="#6b6b6b" stroke-width="1.12"/>
<path d="M-14.7,66.2 L-15.3,65.2 L-15.9,64.1 L-16.5,63.1 L-17,62.1" stroke="#6b6b6b" stroke-width="1.12"/>
<path d="M-16.5,63.1 L-17,62.1 L-17.6,61.1 L-18.1,60.1 L-18.6,59.1" stroke="#6b6b6b" stroke-width="1.12"/>
<path d="M-18.1,60.1 L-18.6,59.1 L-19.2,58.1 L-19.6,57.1 L-20.1,56.1" stroke="#6b6b6b" stroke-width="1.12"/>
<path d="M-19.6,57.1 L-20.1,56.1 L-20.6,55.1 L-21,54.1 L-21.4,53.1" stroke="#6b6b6b" stroke-width="1.13"/>
<path d="M-21,54.1 L-21.4,53.1 L-21.8,52.2 L-22.2,51.2 L-22.6,50.2" stroke="#6c6c6c" stroke-width="1.18"/>
<path d="M-22.2,51.2 L-22.6,50.2 L-22.9,49.3 L-23.3,48.3 L-23.6,47.4" stroke="#6d6d6d" stroke-width="1.24"/>
<path d="M-23.3,48.3 L-23.6,47.4 L-23.9,46.4 L-24.1,45.5 L-24.4,44.6" stroke="#6e6e6e" stroke-width="1.29"/>
<path d="M-24.1,45.5 L-24.4,44.6 L-24.6,43.6 L-24.9,42.7 L-25.1,41.8" stroke="#6f6f6f" stroke-width="1.35"/>
<path d="M-24.9,42.7 L-25.1,41.8 L-25.3,40.9 L-25.4,40 L-25.6,39.1" stroke="#707070" stroke-width="1.40"/>
<path d="M-25.4,40 L-25.6,39.1 L-25.7,38.3 L-25.9,37.4 L-26,36.5" stroke="#717171" stroke-width="1.46"/>
<path d="M-25.9,37.4 L-26,36.5 L-26,35.7 L-26.1,34.8 L-26.2,34" stroke="#727272" stroke-width="1.51"/>
<path d="M-26.1,34.8 L-26.2,34 L-26.2,33.1 L-26.2,32.3 L-26.2,31.5" stroke="#737373" stroke-width="1.58"/>
<path d="M-26.2,32.3 L-26.2,31.5 L-26.2,30.7 L-26.1,29.9 L-26.1,29.1" stroke="#747474" stroke-width="1.68"/>
<path d="M-26.1,29.9 L-26.1,29.1 L-26,28.3 L-25.9,27.5 L-25.8,26.8" stroke="#757575" stroke-width="1.77"/>
<path d="M-25.9,27.5 L-25.8,26.8 L-25.6,26 L-25.5,25.3 L-25.3,24.5" stroke="#777777" stroke-width="1.86"/>
<path d="M-25.5,25.3 L-25.3,24.5 L-25.1,23.8 L-24.9,23.1 L-24.7,22.4" stroke="#787878" stroke-width="1.95"/>
<path d="M-24.9,23.1 L-24.7,22.4 L-24.5,21.7 L-24.2,21 L-23.9,20.3" stroke="#7a7a7a" stroke-width="2.04"/>
<path d="M-24.2,21 L-23.9,20.3 L-23.7,19.7 L-23.3,19 L-23,18.4" stroke="#7b7b7b" stroke-width="2.13"/>
<path d="M-23.3,19 L-23,18.4 L-22.7,17.7 L-22.3,17.1 L-21.9,16.5" stroke="#7d7d7d" stroke-width="2.22"/>
<path d="M-22.3,17.1 L-21.9,16.5 L-21.5,15.9 L-21.1,15.3 L-20.7,14.8" stroke="#7e7e7e" stroke-width="2.26"/>
<path d="M-21.1,15.3 L-20.7,14.8 L-20.2,14.2 L-19.8,13.6 L-19.3,13.1" stroke="#808080" stroke-width="2.28"/>
<path d="M-19.8,13.6 L-19.3,13.1 L-18.8,12.6 L-18.3,12.1 L-17.7,11.6" stroke="#818181" stroke-width="2.30"/>
<path d="M-18.3,12.1 L-17.7,11.6 L-17.2,11.1 L-16.6,10.6 L-16,10.1" stroke="#838383" stroke-width="2.32"/>
<path d="M-16.6,10.6 L-16,10.1 L-15.4,9.7 L-14.8,9.2 L-14.2,8.8" stroke="#848484" stroke-width="2.35"/>
<path d="M-14.8,9.2 L-14.2,8.8 L-13.6,8.4 L-12.9,8 L-12.2,7.6" stroke="#858585" stroke-width="2.37"/>
<path d="M-12.9,8 L-12.2,7.6 L-11.5,7.2 L-10.8,6.8 L-10.1,6.5" stroke="#858585" stroke-width="2.39"/>
<path d="M-10.8,6.8 L-10.1,6.5 L-9.3,6.1 L-8.6,5.8 L-7.8,5.5" stroke="#858585" stroke-width="2.41"/>
<path d="M-8.6,5.8 L-7.8,5.5 L-7,5.2 L-6.2,4.9 L-5.4,4.6" stroke="#858585" stroke-width="2.43"/>
<path d="M-6.2,4.9 L-5.4,4.6 L-4.6,4.3 L-3.8,4.1 L-2.9,3.8" stroke="#858585" stroke-width="2.46"/>
<path d="M-3.8,4.1 L-2.9,3.8 L-2,3.6 L-1.1,3.4 L-0.2,3.2" stroke="#858585" stroke-width="2.48"/>
<path d="M-1.1,3.4 L-0.2,3.2 L0.7,3 L1.6,2.9 L2.5,2.7" stroke="#787878" stroke-width="1.84"/>
<path d="M1.6,2.9 L2.5,2.7 L3.5,2.6 L4.4,2.4 L5.4,2.3" stroke="#6c6c6c" stroke-width="1.19"/>
<path d="M4.4,2.4 L5.4,2.3 L6.4,2.2 L7.4,2.1 L8.4,2" stroke="#6c6c6c" stroke-width="1.19"/>
<path d="M7.4,2.1 L8.4,2 L9.5,2 L10.5,1.9 L11.5,1.9" stroke="#6d6d6d" stroke-width="1.19"/>
<path d="M10.5,1.9 L11.5,1.9 L12.6,1.9 L13.7,1.9" stroke="#6e6e6e" stroke-width="1.19"/>
<path d="M181.4,115.2 L180.1,114.3 L178.9,113.3 L177.7,112.3 L176.5,111.4" stroke="#747474" stroke-width="1.19"/>
<path d="M177.7,112.3 L176.5,111.4 L175.3,110.4 L174.1,109.4 L173,108.4" stroke="#727272" stroke-width="1.19"/>
<path d="M174.1,109.4 L173,108.4 L171.8,107.5 L170.7,106.5 L169.5,105.5" stroke="#707070" stroke-width="1.19"/>
<path d="M170.7,106.5 L169.5,105.5 L168.4,104.5 L167.3,103.5 L166.2,102.4" stroke="#6f6f6f" stroke-width="1.19"/>
<path d="M167.3,103.5 L166.2,102.4 L165.1,101.4 L164,100.4 L162.9,99.4" stroke="#6f6f6f" stroke-width="1.19"/>
<path d="M164,100.4 L162.9,99.4 L161.8,98.4 L160.8,97.4 L159.7,96.3" stroke="#6e6e6e" stroke-width="1.19"/>
<path d="M160.8,97.4 L159.7,96.3 L158.7,95.3 L157.7,94.3 L156.7,93.2" stroke="#6d6d6d" stroke-width="1.19"/>
<path d="M157.7,94.3 L156.7,93.2 L155.7,92.2 L154.7,91.2 L153.7,90.1" stroke="#6c6c6c" stroke-width="1.19"/>
<path d="M154.7,91.2 L153.7,90.1 L152.8,89.1 L151.9,88 L150.9,87" stroke="#6c6c6c" stroke-width="1.19"/>
<path d="M151.9,88 L150.9,87 L150,86 L149.1,84.9 L148.2,83.9" stroke="#6b6b6b" stroke-width="1.17"/>
<path d="M149.1,84.9 L148.2,83.9 L147.3,82.8 L146.5,81.8 L145.6,80.7" stroke="#6b6b6b" stroke-width="1.12"/>
<path d="M146.5,81.8 L145.6,80.7 L144.8,79.7 L144,78.6 L143.2,77.6" stroke="#6b6b6b" stroke-width="1.12"/>
<path d="M144,78.6 L143.2,77.6 L142.4,76.5 L141.6,75.5 L140.9,74.5" stroke="#6b6b6b" stroke-width="1.12"/>
<path d="M141.6,75.5 L140.9,74.5 L140.1,73.4 L139.4,72.4 L138.7,71.3" stroke="#6b6b6b" stroke-width="1.12"/>
<path d="M139.4,72.4 L138.7,71.3 L138,70.3 L137.3,69.3 L136.6,68.2" stroke="#6b6b6b" stroke-width="1.12"/>
<path d="M137.3,69.3 L136.6,68.2 L136,67.2 L135.3,66.2 L134.7,65.2" stroke="#6b6b6b" stroke-width="1.12"/>
<path d="M135.3,66.2 L134.7,65.2 L134.1,64.1 L133.5,63.1 L133,62.1" stroke="#6b6b6b" stroke-width="1.12"/>
<path d="M133.5,63.1 L133,62.1 L132.4,61.1 L131.9,60.1 L131.4,59.1" stroke="#6b6b6b" stroke-width="1.12"/>
<path d="M131.9,60.1 L131.4,59.1 L130.8,58.1 L130.4,57.1 L129.9,56.1" stroke="#6b6b6b" stroke-width="1.12"/>
<path d="M130.4,57.1 L129.9,56.1 L129.4,55.1 L129,54.1 L128.6,53.1" stroke="#6b6b6b" stroke-width="1.13"/>
<path d="M129,54.1 L128.6,53.1 L128.2,52.2 L127.8,51.2 L127.4,50.2" stroke="#6c6c6c" stroke-width="1.18"/>
<path d="M127.8,51.2 L127.4,50.2 L127.1,49.3 L126.7,48.3 L126.4,47.4" stroke="#6d6d6d" stroke-width="1.24"/>
<path d="M126.7,48.3 L126.4,47.4 L126.1,46.4 L125.9,45.5 L125.6,44.6" stroke="#6e6e6e" stroke-width="1.29"/>
<path d="M125.9,45.5 L125.6,44.6 L125.4,43.6 L125.1,42.7 L124.9,41.8" stroke="#6f6f6f" stroke-width="1.35"/>
<path d="M125.1,42.7 L124.9,41.8 L124.7,40.9 L124.6,40 L124.4,39.1" stroke="#707070" stroke-width="1.40"/>
<path d="M124.6,40 L124.4,39.1 L124.3,38.3 L124.1,37.4 L124,36.5" stroke="#717171" stroke-width="1.46"/>
<path d="M124.1,37.4 L124,36.5 L124,35.7 L123.9,34.8 L123.8,34" stroke="#727272" stroke-width="1.51"/>
<path d="M123.9,34.8 L123.8,34 L123.8,33.1 L123.8,32.3 L123.8,31.5" stroke="#737373" stroke-width="1.58"/>
<path d="M123.8,32.3 L123.8,31.5 L123.8,30.7 L123.9,29.9 L123.9,29.1" stroke="#747474" stroke-width="1.68"/>
<path d="M123.9,29.9 L123.9,29.1 L124,28.3 L124.1,27.5 L124.2,26.8" stroke="#757575" stroke-width="1.77"/>
<path d="M124.1,27.5 L124.2,26.8 L124.4,26 L124.5,25.3 L124.7,24.5" stroke="#777777" stroke-width="1.86"/>
<path d="M124.5,25.3 L124.7,24.5 L124.9,23.8 L125.1,23.1 L125.3,22.4" stroke="#787878" stroke-width="1.95"/>
<path d="M125.1,23.1 L125.3,22.4 L125.5,21.7 L125.8,21 L126.1,20.3" stroke="#7a7a7a" stroke-width="2.04"/>
<path d="M125.8,21 L126.1,20.3 L126.3,19.7 L126.7,19 L127,18.4" stroke="#7b7b7b" stroke-width="2.13"/>
<path d="M126.7,19 L127,18.4 L127.3,17.7 L127.7,17.1 L128.1,16.5" stroke="#7d7d7d" stroke-width="2.22"/>
<path d="M127.7,17.1 L128.1,16.5 L128.5,15.9 L128.9,15.3 L129.3,14.8" stroke="#7e7e7e" stroke-width="2.26"/>
<path d="M128.9,15.3 L129.3,14.8 L129.8,14.2 L130.2,13.6 L130.7,13.1" stroke="#808080" stroke-width="2.28"/>
<path d="M130.2,13.6 L130.7,13.1 L131.2,12.6 L131.7,12.1 L132.3,11.6" stroke="#818181" stroke-width="2.30"/>
<path d="M131.7,12.1 L132.3,11.6 L132.8,11.1 L133.4,10.6 L134,10.1" stroke="#838383" stroke-width="2.32"/>
<path d="M133.4,10.6 L134,10.1 L134.6,9.7 L135.2,9.2 L135.8,8.8" stroke="#848484" stroke-width="2.35"/>
<path d="M135.2,9.2 L135.8,8.8 L136.4,8.4 L137.1,8 L137.8,7.6" stroke="#858585" stroke-width="2.37"/>
<path d="M137.1,8 L137.8,7.6 L138.5,7.2 L139.2,6.8 L139.9,6.5" stroke="#858585" stroke-width="2.39"/>
<path d="M139.2,6.8 L139.9,6.5 L140.7,6.1 L141.4,5.8 L142.2,5.5" stroke="#858585" stroke-width="2.41"/>
<path d="M141.4,5.8 L142.2,5.5 L143,5.2 L143.8,4.9 L144.6,4.6" stroke="#858585" stroke-width="2.43"/>
<path d="M143.8,4.9 L144.6,4.6 L145.4,4.3 L146.2,4.1 L147.1,3.8" stroke="#858585" stroke-width="2.46"/>
<path d="M146.2,4.1 L147.1,3.8 L148,3.6 L148.9,3.4 L149.8,3.2" stroke="#858585" stroke-width="2.48"/>
<path d="M148.9,3.4 L149.8,3.2 L150.7,3 L151.6,2.9 L152.5,2.7" stroke="#787878" stroke-width="1.84"/>
<path d="M151.6,2.9 L152.5,2.7 L153.5,2.6 L154.4,2.4 L155.4,2.3" stroke="#6c6c6c" stroke-width="1.19"/>
<path d="M154.4,2.4 L155.4,2.3 L156.4,2.2 L157.4,2.1 L158.4,2" stroke="#6c6c6c" stroke-width="1.19"/>
<path d="M157.4,2.1 L158.4,2 L159.5,2 L160.5,1.9 L161.5,1.9" stroke="#6d6d6d" stroke-width="1.19"/>
<path d="M160.5,1.9 L161.5,1.9 L162.6,1.9 L163.7,1.9" stroke="#6e6e6e" stroke-width="1.19"/>
</g>
<g filter="url(#b3)"><ellipse cx="4" cy="6" rx="10" ry="7" fill="#454545"/></g>
<g filter="url(#b09)"><path d="M-2,4.2 L10,4.2" stroke="#858585" stroke-width="3" stroke-linecap="round"/></g>
<g filter="url(#b09)"><polygon points="74.5,144.5 79.5,146.5 76.6,155.5" fill="#757575"/></g>
</g></g>
<rect x="0.5" y="0.5" width="149" height="163" fill="none" stroke="#262626" stroke-width="0.85"/>
<path d="M0.5,163 v-1.6 M0.5,1 v1.6 M75,163 v-1.6 M75,1 v1.6 M149.5,163 v-1.6 M149.5,1 v1.6 M1,23.6 h1.6 M149,23.6 h-1.6 M1,52.9 h1.6 M149,52.9 h-1.6 M1,82.1 h1.6 M149,82.1 h-1.6 M1,111.4 h1.6 M149,111.4 h-1.6 M1,140.7 h1.6 M149,140.7 h-1.6" stroke="#262626" stroke-width="1" fill="none"/>
<rect x="57.7" y="122.8" width="52.2" height="39.4" fill="none" stroke="#ff0000" stroke-width="1.9"/>
<text x="0.5" y="182" font-size="13" text-anchor="middle">-1</text>
<text x="75" y="182" font-size="13" text-anchor="middle">0</text>
<text x="149.5" y="182" font-size="13" text-anchor="middle">1</text>
<text x="-4.5" y="28.5" font-size="13" text-anchor="end">-1</text>
<text x="-4.5" y="57.8" font-size="13" text-anchor="end">-0.5</text>
<text x="-4.5" y="87" font-size="13" text-anchor="end">0</text>
<text x="-4.5" y="116.3" font-size="13" text-anchor="end">0.5</text>
<text x="-4.5" y="145.6" font-size="13" text-anchor="end">1</text>
<text x="74.5" y="202.8" font-size="14.3" text-anchor="middle">2fd/fr</text>
<text transform="translate(-34.2,82.64999999999998) rotate(-90)" font-size="14.3" text-anchor="middle">cos(<tspan font-family="Liberation Serif, serif" font-style="italic" font-weight="bold" font-size="16" dx="0.3">ψ</tspan><tspan dx="0.3">)</tspan></text>
</g>
<rect x="501.5" y="242.5" width="16" height="164" fill="url(#cbg)" stroke="#262626" stroke-width="0.85"/>
<text x="522.3" y="247.8" font-size="13">0</text>
<text x="522.3" y="275.4" font-size="13">-10</text>
<text x="522.3" y="302.9" font-size="13">-20</text>
<text x="522.3" y="330.5" font-size="13">-30</text>
<text x="522.3" y="358.1" font-size="13">-40</text>
<text x="522.3" y="385.6" font-size="13">-50</text>
<path d="M517,270.1 h-1.6 M517,297.6 h-1.6 M517,325.2 h-1.6 M517,352.8 h-1.6 M517,380.3 h-1.6" stroke="#262626" stroke-width="1" fill="none"/>
</svg></body></html>
